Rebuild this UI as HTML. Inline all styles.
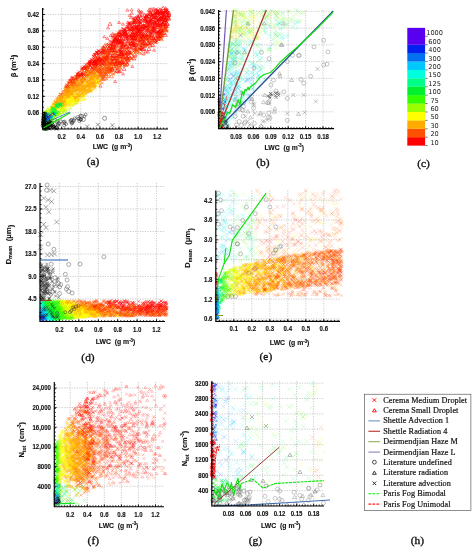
<!DOCTYPE html><html><head><meta charset="utf-8"><title>Figure</title><style>*{margin:0;padding:0}html,body{width:476px;height:550px;background:#fff;overflow:hidden}
svg{display:block}
.tk{font-family:"Liberation Sans",Arial,sans-serif;font-weight:bold;font-size:6.7px;fill:#111;stroke:#111;stroke-width:0.12}
.al{font-family:"Liberation Sans",Arial,sans-serif;font-weight:bold;font-size:7.2px;fill:#111;stroke:#111;stroke-width:0.12}
.pl{font-family:"Liberation Serif","Times New Roman",serif;font-size:11.4px;fill:#111;stroke:#111;stroke-width:0.35}
.cb{font-family:"DejaVu Sans","Liberation Sans",sans-serif;font-size:6.6px;fill:#222}
.lg{font-family:"Liberation Serif","Times New Roman",serif;font-size:8.2px;fill:#111;stroke:#111;stroke-width:0.2;letter-spacing:0.08px}
</style></head><body><svg width="476" height="550" viewBox="0 0 476 550"><path d="M61.7 8V129M80.8 8V129M99.9 8V129M119 8V129M138.1 8V129M157.2 8V129M42.6 112.7H168M42.6 96.3H168M42.6 80H168M42.6 63.6H168M42.6 47.2H168M42.6 30.9H168M42.6 14.5H168" stroke="#b4b4b4" stroke-width="0.7" stroke-dasharray="1.2 1.3" fill="none"/><path d="M236 10V128.6M253.4 10V128.6M270.8 10V128.6M288.2 10V128.6M305.6 10V128.6M323 10V128.6M218.6 111.8H334M218.6 95.1H334M218.6 78.3H334M218.6 61.6H334M218.6 44.8H334M218.6 28.1H334M218.6 11.3H334" stroke="#b4b4b4" stroke-width="0.7" stroke-dasharray="1.2 1.3" fill="none"/><path d="M59.4 183V321.5M78.8 183V321.5M98.3 183V321.5M117.7 183V321.5M137.1 183V321.5M156.5 183V321.5M40 299H165M40 276.5H165M40 254H165M40 231.5H165M40 209H165M40 186.5H165" stroke="#b4b4b4" stroke-width="0.7" stroke-dasharray="1.2 1.3" fill="none"/><path d="M233.8 190.5V321.4M251.8 190.5V321.4M269.8 190.5V321.4M287.8 190.5V321.4M305.8 190.5V321.4M323.8 190.5V321.4M215.8 318.9H340M215.8 299.1H340M215.8 279.3H340M215.8 259.6H340M215.8 239.8H340M215.8 220H340M215.8 200.2H340" stroke="#b4b4b4" stroke-width="0.7" stroke-dasharray="1.2 1.3" fill="none"/><path d="M70.2 382V506.7M87.3 382V506.7M104.3 382V506.7M121.4 382V506.7M138.4 382V506.7M155.5 382V506.7M54.3 486.2H164M54.3 466.5H164M54.3 446.9H164M54.3 427.2H164M54.3 407.6H164M54.3 388H164" stroke="#b4b4b4" stroke-width="0.7" stroke-dasharray="1.2 1.3" fill="none"/><path d="M228.6 381V506M245.6 381V506M262.6 381V506M279.6 381V506M296.6 381V506M313.6 381V506M211.8 490.6H324M211.8 475.3H324M211.8 459.9H324M211.8 444.6H324M211.8 429.2H324M211.8 413.9H324M211.8 398.5H324M211.8 383.2H324" stroke="#b4b4b4" stroke-width="0.7" stroke-dasharray="1.2 1.3" fill="none"/><defs><marker id="m0" markerUnits="userSpaceOnUse" markerWidth="1" markerHeight="1" refX="1.5" refY="1.5" overflow="visible"><path d="M0 0l3 3m0 -3l-3 3" stroke="#ff5000" stroke-width="0.55" fill="none"/></marker><marker id="m1" markerUnits="userSpaceOnUse" markerWidth="1" markerHeight="1" refX="1.5" refY="1.5" overflow="visible"><path d="M0 0l3 3m0 -3l-3 3" stroke="#ffff00" stroke-width="0.55" fill="none"/></marker><marker id="m2" markerUnits="userSpaceOnUse" markerWidth="1" markerHeight="1" refX="1.5" refY="1.5" overflow="visible"><path d="M0 0l3 3m0 -3l-3 3" stroke="#ff0000" stroke-width="0.55" fill="none"/></marker><marker id="m3" markerUnits="userSpaceOnUse" markerWidth="1" markerHeight="1" refX="2" refY="2" overflow="visible"><path d="M2 0l2 3.4h-4z" stroke="#ff5000" stroke-width="0.55" fill="none"/></marker><marker id="m4" markerUnits="userSpaceOnUse" markerWidth="1" markerHeight="1" refX="1.5" refY="1.5" overflow="visible"><path d="M0 0l3 3m0 -3l-3 3" stroke="#ffaa00" stroke-width="0.55" fill="none"/></marker><marker id="m5" markerUnits="userSpaceOnUse" markerWidth="1" markerHeight="1" refX="2" refY="2" overflow="visible"><path d="M2 0l2 3.4h-4z" stroke="#ff0000" stroke-width="0.55" fill="none"/></marker><marker id="m6" markerUnits="userSpaceOnUse" markerWidth="1" markerHeight="1" refX="1.5" refY="1.5" overflow="visible"><path d="M0 0l3 3m0 -3l-3 3" stroke="#33ff00" stroke-width="0.55" fill="none"/></marker><marker id="m7" markerUnits="userSpaceOnUse" markerWidth="1" markerHeight="1" refX="2" refY="2" overflow="visible"><path d="M2 0l2 3.4h-4z" stroke="#ffaa00" stroke-width="0.55" fill="none"/></marker><marker id="m8" markerUnits="userSpaceOnUse" markerWidth="1" markerHeight="1" refX="2" refY="2" overflow="visible"><path d="M2 0l2 3.4h-4z" stroke="#33ff00" stroke-width="0.55" fill="none"/></marker><marker id="m9" markerUnits="userSpaceOnUse" markerWidth="1" markerHeight="1" refX="1.5" refY="1.5" overflow="visible"><path d="M0 0l3 3m0 -3l-3 3" stroke="#99ff00" stroke-width="0.55" fill="none"/></marker><marker id="m10" markerUnits="userSpaceOnUse" markerWidth="1" markerHeight="1" refX="2" refY="2" overflow="visible"><path d="M2 0l2 3.4h-4z" stroke="#ffff00" stroke-width="0.55" fill="none"/></marker><marker id="m11" markerUnits="userSpaceOnUse" markerWidth="1" markerHeight="1" refX="2" refY="2" overflow="visible"><path d="M2 0l2 3.4h-4z" stroke="#99ff00" stroke-width="0.55" fill="none"/></marker><marker id="m12" markerUnits="userSpaceOnUse" markerWidth="1" markerHeight="1" refX="1.5" refY="1.5" overflow="visible"><path d="M0 0l3 3m0 -3l-3 3" stroke="#00f030" stroke-width="0.55" fill="none"/></marker><marker id="m13" markerUnits="userSpaceOnUse" markerWidth="1" markerHeight="1" refX="2" refY="2" overflow="visible"><path d="M2 0l2 3.4h-4z" stroke="#00f030" stroke-width="0.55" fill="none"/></marker><marker id="m14" markerUnits="userSpaceOnUse" markerWidth="1" markerHeight="1" refX="1.5" refY="1.5" overflow="visible"><path d="M1.5 0l1.5 2.5h-3z" stroke="#ff1010" stroke-width="0.5" fill="none"/></marker><marker id="m15" markerUnits="userSpaceOnUse" markerWidth="1" markerHeight="1" refX="2" refY="2" overflow="visible"><path d="M2 0l2 3.4h-4z" stroke="#ff1010" stroke-width="0.55" fill="none"/></marker><marker id="m16" markerUnits="userSpaceOnUse" markerWidth="1" markerHeight="1" refX="1.5" refY="1.5" overflow="visible"><path d="M0 0l3 3m0 -3l-3 3" stroke="#000" stroke-width="0.5" fill="none"/></marker><marker id="m17" markerUnits="userSpaceOnUse" markerWidth="1" markerHeight="1" refX="1.5" refY="1.5" overflow="visible"><path d="M0 1.5a1.5 1.5 0 1 0 3 0a1.5 1.5 0 1 0 -3 0" stroke="#000" stroke-width="0.5" fill="none"/></marker><marker id="m18" markerUnits="userSpaceOnUse" markerWidth="1" markerHeight="1" refX="1.5" refY="1.5" overflow="visible"><path d="M0 0l3 3m0 -3l-3 3" stroke="#00ffdc" stroke-width="0.55" fill="none"/></marker><marker id="m19" markerUnits="userSpaceOnUse" markerWidth="1" markerHeight="1" refX="1.5" refY="1.5" overflow="visible"><path d="M0 0l3 3m0 -3l-3 3" stroke="#00c8ff" stroke-width="0.55" fill="none"/></marker><marker id="m20" markerUnits="userSpaceOnUse" markerWidth="1" markerHeight="1" refX="1.5" refY="1.5" overflow="visible"><path d="M0 0l3 3m0 -3l-3 3" stroke="#00ff88" stroke-width="0.55" fill="none"/></marker><marker id="m21" markerUnits="userSpaceOnUse" markerWidth="1" markerHeight="1" refX="1.5" refY="1.5" overflow="visible"><path d="M0 0l3 3m0 -3l-3 3" stroke="#0020f0" stroke-width="0.55" fill="none"/></marker><marker id="m22" markerUnits="userSpaceOnUse" markerWidth="1" markerHeight="1" refX="1.5" refY="1.5" overflow="visible"><path d="M0 0l3 3m0 -3l-3 3" stroke="#0070f0" stroke-width="0.55" fill="none"/></marker><marker id="m23" markerUnits="userSpaceOnUse" markerWidth="1" markerHeight="1" refX="1.5" refY="1.5" overflow="visible"><path d="M0 1.5a1.5 1.5 0 1 0 3 0a1.5 1.5 0 1 0 -3 0" stroke="#333" stroke-width="0.5" fill="none"/></marker><marker id="m24" markerUnits="userSpaceOnUse" markerWidth="1" markerHeight="1" refX="2" refY="2" overflow="visible"><path d="M0 2a2 2 0 1 0 4 0a2 2 0 1 0 -4 0" stroke="#444" stroke-width="0.55" fill="none"/></marker><marker id="m25" markerUnits="userSpaceOnUse" markerWidth="1" markerHeight="1" refX="2" refY="2" overflow="visible"><path d="M0 0l4 4m0 -4l-4 4" stroke="#444" stroke-width="0.55" fill="none"/></marker><marker id="m26" markerUnits="userSpaceOnUse" markerWidth="1" markerHeight="1" refX="2" refY="2" overflow="visible"><path d="M0 0l4 4m0 -4l-4 4" stroke="#00ffdc" stroke-width="0.35" fill="none" stroke-opacity="0.55"/></marker><marker id="m27" markerUnits="userSpaceOnUse" markerWidth="1" markerHeight="1" refX="2" refY="2" overflow="visible"><path d="M0 0l4 4m0 -4l-4 4" stroke="#33ff00" stroke-width="0.35" fill="none" stroke-opacity="0.55"/></marker><marker id="m28" markerUnits="userSpaceOnUse" markerWidth="1" markerHeight="1" refX="2" refY="2" overflow="visible"><path d="M0 0l4 4m0 -4l-4 4" stroke="#ffff00" stroke-width="0.35" fill="none" stroke-opacity="0.55"/></marker><marker id="m29" markerUnits="userSpaceOnUse" markerWidth="1" markerHeight="1" refX="2" refY="2" overflow="visible"><path d="M0 0l4 4m0 -4l-4 4" stroke="#00ff88" stroke-width="0.35" fill="none" stroke-opacity="0.55"/></marker><marker id="m30" markerUnits="userSpaceOnUse" markerWidth="1" markerHeight="1" refX="2" refY="2" overflow="visible"><path d="M0 0l4 4m0 -4l-4 4" stroke="#00c8ff" stroke-width="0.35" fill="none" stroke-opacity="0.55"/></marker><marker id="m31" markerUnits="userSpaceOnUse" markerWidth="1" markerHeight="1" refX="2" refY="2" overflow="visible"><path d="M0 0l4 4m0 -4l-4 4" stroke="#00f030" stroke-width="0.35" fill="none" stroke-opacity="0.55"/></marker><marker id="m32" markerUnits="userSpaceOnUse" markerWidth="1" markerHeight="1" refX="2" refY="2" overflow="visible"><path d="M0 0l4 4m0 -4l-4 4" stroke="#99ff00" stroke-width="0.35" fill="none" stroke-opacity="0.55"/></marker><marker id="m33" markerUnits="userSpaceOnUse" markerWidth="1" markerHeight="1" refX="2" refY="2" overflow="visible"><path d="M0 0l4 4m0 -4l-4 4" stroke="#ffaa00" stroke-width="0.35" fill="none" stroke-opacity="0.55"/></marker><marker id="m34" markerUnits="userSpaceOnUse" markerWidth="1" markerHeight="1" refX="2" refY="2" overflow="visible"><path d="M0 0l4 4m0 -4l-4 4" stroke="#0070f0" stroke-width="0.35" fill="none" stroke-opacity="0.55"/></marker><marker id="m35" markerUnits="userSpaceOnUse" markerWidth="1" markerHeight="1" refX="2" refY="2" overflow="visible"><path d="M0 0l4 4m0 -4l-4 4" stroke="#00ffdc" stroke-width="0.35" fill="none" stroke-opacity="0.5"/></marker><marker id="m36" markerUnits="userSpaceOnUse" markerWidth="1" markerHeight="1" refX="2" refY="2" overflow="visible"><path d="M0 0l4 4m0 -4l-4 4" stroke="#00ff88" stroke-width="0.35" fill="none" stroke-opacity="0.5"/></marker><marker id="m37" markerUnits="userSpaceOnUse" markerWidth="1" markerHeight="1" refX="2" refY="2" overflow="visible"><path d="M0 0l4 4m0 -4l-4 4" stroke="#33ff00" stroke-width="0.35" fill="none" stroke-opacity="0.5"/></marker><marker id="m38" markerUnits="userSpaceOnUse" markerWidth="1" markerHeight="1" refX="2" refY="2" overflow="visible"><path d="M0 0l4 4m0 -4l-4 4" stroke="#ffaa00" stroke-width="0.35" fill="none" stroke-opacity="0.5"/></marker><marker id="m39" markerUnits="userSpaceOnUse" markerWidth="1" markerHeight="1" refX="2" refY="2" overflow="visible"><path d="M0 0l4 4m0 -4l-4 4" stroke="#00f030" stroke-width="0.35" fill="none" stroke-opacity="0.5"/></marker><marker id="m40" markerUnits="userSpaceOnUse" markerWidth="1" markerHeight="1" refX="2" refY="2" overflow="visible"><path d="M0 0l4 4m0 -4l-4 4" stroke="#99ff00" stroke-width="0.35" fill="none" stroke-opacity="0.5"/></marker><marker id="m41" markerUnits="userSpaceOnUse" markerWidth="1" markerHeight="1" refX="2" refY="2" overflow="visible"><path d="M0 0l4 4m0 -4l-4 4" stroke="#00c8ff" stroke-width="0.35" fill="none" stroke-opacity="0.5"/></marker><marker id="m42" markerUnits="userSpaceOnUse" markerWidth="1" markerHeight="1" refX="1" refY="1" overflow="visible"><path d="M0 0l2 2m0 -2l-2 2" stroke="#0070f0" stroke-width="0.5" fill="none"/></marker><marker id="m43" markerUnits="userSpaceOnUse" markerWidth="1" markerHeight="1" refX="1" refY="1" overflow="visible"><path d="M0 0l2 2m0 -2l-2 2" stroke="#0020f0" stroke-width="0.5" fill="none"/></marker><marker id="m44" markerUnits="userSpaceOnUse" markerWidth="1" markerHeight="1" refX="1" refY="1" overflow="visible"><path d="M0 0l2 2m0 -2l-2 2" stroke="#5a00f0" stroke-width="0.5" fill="none"/></marker><marker id="m45" markerUnits="userSpaceOnUse" markerWidth="1" markerHeight="1" refX="1" refY="1" overflow="visible"><path d="M0 0l2 2m0 -2l-2 2" stroke="#00c8ff" stroke-width="0.5" fill="none"/></marker><marker id="m46" markerUnits="userSpaceOnUse" markerWidth="1" markerHeight="1" refX="2" refY="2" overflow="visible"><path d="M0 2a2 2 0 1 0 4 0a2 2 0 1 0 -4 0" stroke="#8a8a8a" stroke-width="0.5" fill="none"/></marker><marker id="m47" markerUnits="userSpaceOnUse" markerWidth="1" markerHeight="1" refX="2" refY="2" overflow="visible"><path d="M2 0l2 3.4h-4z" stroke="#8a8a8a" stroke-width="0.5" fill="none"/></marker><marker id="m48" markerUnits="userSpaceOnUse" markerWidth="1" markerHeight="1" refX="2" refY="2" overflow="visible"><path d="M0 0l4 4m0 -4l-4 4" stroke="#8a8a8a" stroke-width="0.5" fill="none"/></marker><marker id="m49" markerUnits="userSpaceOnUse" markerWidth="1" markerHeight="1" refX="2" refY="2" overflow="visible"><path d="M0 0l4 4m0 -4l-4 4" stroke="#888" stroke-width="0.45" fill="none"/></marker><marker id="m50" markerUnits="userSpaceOnUse" markerWidth="1" markerHeight="1" refX="2" refY="2" overflow="visible"><path d="M0 2a2 2 0 1 0 4 0a2 2 0 1 0 -4 0" stroke="#888" stroke-width="0.45" fill="none"/></marker><marker id="m51" markerUnits="userSpaceOnUse" markerWidth="1" markerHeight="1" refX="2" refY="2" overflow="visible"><path d="M2 0l2 3.4h-4z" stroke="#888" stroke-width="0.45" fill="none"/></marker><marker id="m52" markerUnits="userSpaceOnUse" markerWidth="1" markerHeight="1" refX="1.5" refY="1.5" overflow="visible"><path d="M0 0l3 3m0 -3l-3 3" stroke="#444" stroke-width="0.5" fill="none"/></marker><marker id="m53" markerUnits="userSpaceOnUse" markerWidth="1" markerHeight="1" refX="1" refY="1" overflow="visible"><path d="M0 0l2 2m0 -2l-2 2" stroke="#222" stroke-width="0.45" fill="none"/></marker><marker id="m54" markerUnits="userSpaceOnUse" markerWidth="1" markerHeight="1" refX="1.5" refY="1.5" overflow="visible"><path d="M0 0l3 3m0 -3l-3 3" stroke="#99ff00" stroke-width="0.5" fill="none" stroke-opacity="0.9"/></marker><marker id="m55" markerUnits="userSpaceOnUse" markerWidth="1" markerHeight="1" refX="1.5" refY="1.5" overflow="visible"><path d="M0 0l3 3m0 -3l-3 3" stroke="#ffaa00" stroke-width="0.5" fill="none" stroke-opacity="0.9"/></marker><marker id="m56" markerUnits="userSpaceOnUse" markerWidth="1" markerHeight="1" refX="1.5" refY="1.5" overflow="visible"><path d="M0 0l3 3m0 -3l-3 3" stroke="#ff0000" stroke-width="0.5" fill="none" stroke-opacity="0.8"/></marker><marker id="m57" markerUnits="userSpaceOnUse" markerWidth="1" markerHeight="1" refX="1.5" refY="1.5" overflow="visible"><path d="M0 0l3 3m0 -3l-3 3" stroke="#ff5000" stroke-width="0.5" fill="none" stroke-opacity="0.9"/></marker><marker id="m58" markerUnits="userSpaceOnUse" markerWidth="1" markerHeight="1" refX="1.5" refY="1.5" overflow="visible"><path d="M0 0l3 3m0 -3l-3 3" stroke="#ffff00" stroke-width="0.5" fill="none" stroke-opacity="0.9"/></marker><marker id="m59" markerUnits="userSpaceOnUse" markerWidth="1" markerHeight="1" refX="1.5" refY="1.5" overflow="visible"><path d="M1.5 0l1.5 2.5h-3z" stroke="#ffaa00" stroke-width="0.5" fill="none" stroke-opacity="0.8"/></marker><marker id="m60" markerUnits="userSpaceOnUse" markerWidth="1" markerHeight="1" refX="1.5" refY="1.5" overflow="visible"><path d="M0 0l3 3m0 -3l-3 3" stroke="#ff5000" stroke-width="0.5" fill="none" stroke-opacity="0.8"/></marker><marker id="m61" markerUnits="userSpaceOnUse" markerWidth="1" markerHeight="1" refX="1.5" refY="1.5" overflow="visible"><path d="M0 0l3 3m0 -3l-3 3" stroke="#00ff88" stroke-width="0.5" fill="none" stroke-opacity="0.9"/></marker><marker id="m62" markerUnits="userSpaceOnUse" markerWidth="1" markerHeight="1" refX="1.5" refY="1.5" overflow="visible"><path d="M1.5 0l1.5 2.5h-3z" stroke="#00f030" stroke-width="0.5" fill="none" stroke-opacity="0.9"/></marker><marker id="m63" markerUnits="userSpaceOnUse" markerWidth="1" markerHeight="1" refX="1.5" refY="1.5" overflow="visible"><path d="M0 0l3 3m0 -3l-3 3" stroke="#ff0000" stroke-width="0.5" fill="none" stroke-opacity="0.9"/></marker><marker id="m64" markerUnits="userSpaceOnUse" markerWidth="1" markerHeight="1" refX="1.5" refY="1.5" overflow="visible"><path d="M1.5 0l1.5 2.5h-3z" stroke="#ff0000" stroke-width="0.5" fill="none" stroke-opacity="0.8"/></marker><marker id="m65" markerUnits="userSpaceOnUse" markerWidth="1" markerHeight="1" refX="1.5" refY="1.5" overflow="visible"><path d="M1.5 0l1.5 2.5h-3z" stroke="#ff5000" stroke-width="0.5" fill="none" stroke-opacity="0.8"/></marker><marker id="m66" markerUnits="userSpaceOnUse" markerWidth="1" markerHeight="1" refX="1.5" refY="1.5" overflow="visible"><path d="M0 0l3 3m0 -3l-3 3" stroke="#00c8ff" stroke-width="0.5" fill="none" stroke-opacity="0.9"/></marker><marker id="m67" markerUnits="userSpaceOnUse" markerWidth="1" markerHeight="1" refX="1.5" refY="1.5" overflow="visible"><path d="M1.5 0l1.5 2.5h-3z" stroke="#ff5000" stroke-width="0.5" fill="none" stroke-opacity="0.9"/></marker><marker id="m68" markerUnits="userSpaceOnUse" markerWidth="1" markerHeight="1" refX="1.5" refY="1.5" overflow="visible"><path d="M0 0l3 3m0 -3l-3 3" stroke="#00ffdc" stroke-width="0.5" fill="none" stroke-opacity="0.9"/></marker><marker id="m69" markerUnits="userSpaceOnUse" markerWidth="1" markerHeight="1" refX="1.5" refY="1.5" overflow="visible"><path d="M0 0l3 3m0 -3l-3 3" stroke="#33ff00" stroke-width="0.5" fill="none" stroke-opacity="0.9"/></marker><marker id="m70" markerUnits="userSpaceOnUse" markerWidth="1" markerHeight="1" refX="1.5" refY="1.5" overflow="visible"><path d="M1.5 0l1.5 2.5h-3z" stroke="#99ff00" stroke-width="0.5" fill="none" stroke-opacity="0.9"/></marker><marker id="m71" markerUnits="userSpaceOnUse" markerWidth="1" markerHeight="1" refX="1.5" refY="1.5" overflow="visible"><path d="M0 0l3 3m0 -3l-3 3" stroke="#0070f0" stroke-width="0.5" fill="none" stroke-opacity="0.9"/></marker><marker id="m72" markerUnits="userSpaceOnUse" markerWidth="1" markerHeight="1" refX="1.5" refY="1.5" overflow="visible"><path d="M0 0l3 3m0 -3l-3 3" stroke="#ffaa00" stroke-width="0.5" fill="none" stroke-opacity="0.8"/></marker><marker id="m73" markerUnits="userSpaceOnUse" markerWidth="1" markerHeight="1" refX="1.5" refY="1.5" overflow="visible"><path d="M1.5 0l1.5 2.5h-3z" stroke="#00ff88" stroke-width="0.5" fill="none" stroke-opacity="0.9"/></marker><marker id="m74" markerUnits="userSpaceOnUse" markerWidth="1" markerHeight="1" refX="1.5" refY="1.5" overflow="visible"><path d="M0 0l3 3m0 -3l-3 3" stroke="#00f030" stroke-width="0.5" fill="none" stroke-opacity="0.9"/></marker><marker id="m75" markerUnits="userSpaceOnUse" markerWidth="1" markerHeight="1" refX="1.5" refY="1.5" overflow="visible"><path d="M1.5 0l1.5 2.5h-3z" stroke="#00ffdc" stroke-width="0.5" fill="none" stroke-opacity="0.9"/></marker><marker id="m76" markerUnits="userSpaceOnUse" markerWidth="1" markerHeight="1" refX="1.5" refY="1.5" overflow="visible"><path d="M1.5 0l1.5 2.5h-3z" stroke="#00c8ff" stroke-width="0.5" fill="none" stroke-opacity="0.9"/></marker><marker id="m77" markerUnits="userSpaceOnUse" markerWidth="1" markerHeight="1" refX="1.5" refY="1.5" overflow="visible"><path d="M1.5 0l1.5 2.5h-3z" stroke="#ffff00" stroke-width="0.5" fill="none" stroke-opacity="0.9"/></marker><marker id="m78" markerUnits="userSpaceOnUse" markerWidth="1" markerHeight="1" refX="1.5" refY="1.5" overflow="visible"><path d="M0 0l3 3m0 -3l-3 3" stroke="#0020f0" stroke-width="0.5" fill="none" stroke-opacity="0.9"/></marker><marker id="m79" markerUnits="userSpaceOnUse" markerWidth="1" markerHeight="1" refX="1.5" refY="1.5" overflow="visible"><path d="M1.5 0l1.5 2.5h-3z" stroke="#ffaa00" stroke-width="0.5" fill="none" stroke-opacity="0.9"/></marker><marker id="m80" markerUnits="userSpaceOnUse" markerWidth="1" markerHeight="1" refX="1.5" refY="1.5" overflow="visible"><path d="M1.5 0l1.5 2.5h-3z" stroke="#0070f0" stroke-width="0.5" fill="none" stroke-opacity="0.9"/></marker><marker id="m81" markerUnits="userSpaceOnUse" markerWidth="1" markerHeight="1" refX="1.5" refY="1.5" overflow="visible"><path d="M1.5 0l1.5 2.5h-3z" stroke="#33ff00" stroke-width="0.5" fill="none" stroke-opacity="0.9"/></marker><marker id="m82" markerUnits="userSpaceOnUse" markerWidth="1" markerHeight="1" refX="1.5" refY="1.5" overflow="visible"><path d="M1.5 0l1.5 2.5h-3z" stroke="#ff0000" stroke-width="0.5" fill="none" stroke-opacity="0.9"/></marker><marker id="m83" markerUnits="userSpaceOnUse" markerWidth="1" markerHeight="1" refX="1.5" refY="1.5" overflow="visible"><path d="M0 0l3 3m0 -3l-3 3" stroke="#ffff00" stroke-width="0.5" fill="none" stroke-opacity="0.8"/></marker><marker id="m84" markerUnits="userSpaceOnUse" markerWidth="1" markerHeight="1" refX="1.5" refY="1.5" overflow="visible"><path d="M1.5 0l1.5 2.5h-3z" stroke="#0020f0" stroke-width="0.5" fill="none" stroke-opacity="0.9"/></marker><marker id="m85" markerUnits="userSpaceOnUse" markerWidth="1" markerHeight="1" refX="1.5" refY="1.5" overflow="visible"><path d="M0 1.5a1.5 1.5 0 1 0 3 0a1.5 1.5 0 1 0 -3 0" stroke="#2a2a2a" stroke-width="0.45" fill="none"/></marker><marker id="m86" markerUnits="userSpaceOnUse" markerWidth="1" markerHeight="1" refX="1.5" refY="1.5" overflow="visible"><path d="M0 0l3 3m0 -3l-3 3" stroke="#2a2a2a" stroke-width="0.45" fill="none"/></marker><marker id="m87" markerUnits="userSpaceOnUse" markerWidth="1" markerHeight="1" refX="2" refY="2" overflow="visible"><path d="M0 2a2 2 0 1 0 4 0a2 2 0 1 0 -4 0" stroke="#666" stroke-width="0.55" fill="none"/></marker><marker id="m88" markerUnits="userSpaceOnUse" markerWidth="1" markerHeight="1" refX="2.5" refY="2.5" overflow="visible"><path d="M0 0l5 5m0 -5l-5 5" stroke="#666" stroke-width="0.55" fill="none"/></marker><marker id="m89" markerUnits="userSpaceOnUse" markerWidth="1" markerHeight="1" refX="1.5" refY="1.5" overflow="visible"><path d="M0 0l3 3m0 -3l-3 3" stroke="#ffaa00" stroke-width="0.45" fill="none" stroke-opacity="0.6"/></marker><marker id="m90" markerUnits="userSpaceOnUse" markerWidth="1" markerHeight="1" refX="1.5" refY="1.5" overflow="visible"><path d="M1.5 0l1.5 2.5h-3z" stroke="#ffaa00" stroke-width="0.45" fill="none" stroke-opacity="0.8"/></marker><marker id="m91" markerUnits="userSpaceOnUse" markerWidth="1" markerHeight="1" refX="1.5" refY="1.5" overflow="visible"><path d="M0 0l3 3m0 -3l-3 3" stroke="#ffff00" stroke-width="0.45" fill="none" stroke-opacity="0.8"/></marker><marker id="m92" markerUnits="userSpaceOnUse" markerWidth="1" markerHeight="1" refX="1.5" refY="1.5" overflow="visible"><path d="M0 0l3 3m0 -3l-3 3" stroke="#ffaa00" stroke-width="0.45" fill="none" stroke-opacity="0.8"/></marker><marker id="m93" markerUnits="userSpaceOnUse" markerWidth="1" markerHeight="1" refX="1.5" refY="1.5" overflow="visible"><path d="M0 0l3 3m0 -3l-3 3" stroke="#ff5000" stroke-width="0.45" fill="none" stroke-opacity="0.6"/></marker><marker id="m94" markerUnits="userSpaceOnUse" markerWidth="1" markerHeight="1" refX="1.5" refY="1.5" overflow="visible"><path d="M1.5 0l1.5 2.5h-3z" stroke="#ff0000" stroke-width="0.45" fill="none" stroke-opacity="0.6"/></marker><marker id="m95" markerUnits="userSpaceOnUse" markerWidth="1" markerHeight="1" refX="1.5" refY="1.5" overflow="visible"><path d="M1.5 0l1.5 2.5h-3z" stroke="#ffff00" stroke-width="0.45" fill="none" stroke-opacity="0.8"/></marker><marker id="m96" markerUnits="userSpaceOnUse" markerWidth="1" markerHeight="1" refX="1.5" refY="1.5" overflow="visible"><path d="M0 0l3 3m0 -3l-3 3" stroke="#ff0000" stroke-width="0.45" fill="none" stroke-opacity="0.6"/></marker><marker id="m97" markerUnits="userSpaceOnUse" markerWidth="1" markerHeight="1" refX="1.5" refY="1.5" overflow="visible"><path d="M1.5 0l1.5 2.5h-3z" stroke="#ffaa00" stroke-width="0.45" fill="none" stroke-opacity="0.6"/></marker><marker id="m98" markerUnits="userSpaceOnUse" markerWidth="1" markerHeight="1" refX="1.5" refY="1.5" overflow="visible"><path d="M1.5 0l1.5 2.5h-3z" stroke="#99ff00" stroke-width="0.45" fill="none" stroke-opacity="0.8"/></marker><marker id="m99" markerUnits="userSpaceOnUse" markerWidth="1" markerHeight="1" refX="1.5" refY="1.5" overflow="visible"><path d="M1.5 0l1.5 2.5h-3z" stroke="#ff5000" stroke-width="0.45" fill="none" stroke-opacity="0.8"/></marker><marker id="m100" markerUnits="userSpaceOnUse" markerWidth="1" markerHeight="1" refX="1.5" refY="1.5" overflow="visible"><path d="M0 0l3 3m0 -3l-3 3" stroke="#00f030" stroke-width="0.45" fill="none" stroke-opacity="0.8"/></marker><marker id="m101" markerUnits="userSpaceOnUse" markerWidth="1" markerHeight="1" refX="1.5" refY="1.5" overflow="visible"><path d="M0 0l3 3m0 -3l-3 3" stroke="#ff5000" stroke-width="0.45" fill="none" stroke-opacity="0.8"/></marker><marker id="m102" markerUnits="userSpaceOnUse" markerWidth="1" markerHeight="1" refX="1.5" refY="1.5" overflow="visible"><path d="M1.5 0l1.5 2.5h-3z" stroke="#ff5000" stroke-width="0.45" fill="none" stroke-opacity="0.6"/></marker><marker id="m103" markerUnits="userSpaceOnUse" markerWidth="1" markerHeight="1" refX="1.5" refY="1.5" overflow="visible"><path d="M0 0l3 3m0 -3l-3 3" stroke="#00ff88" stroke-width="0.45" fill="none" stroke-opacity="0.8"/></marker><marker id="m104" markerUnits="userSpaceOnUse" markerWidth="1" markerHeight="1" refX="1.5" refY="1.5" overflow="visible"><path d="M0 0l3 3m0 -3l-3 3" stroke="#99ff00" stroke-width="0.45" fill="none" stroke-opacity="0.8"/></marker><marker id="m105" markerUnits="userSpaceOnUse" markerWidth="1" markerHeight="1" refX="1.5" refY="1.5" overflow="visible"><path d="M0 0l3 3m0 -3l-3 3" stroke="#00ffdc" stroke-width="0.45" fill="none" stroke-opacity="0.8"/></marker><marker id="m106" markerUnits="userSpaceOnUse" markerWidth="1" markerHeight="1" refX="1.5" refY="1.5" overflow="visible"><path d="M1.5 0l1.5 2.5h-3z" stroke="#33ff00" stroke-width="0.45" fill="none" stroke-opacity="0.8"/></marker><marker id="m107" markerUnits="userSpaceOnUse" markerWidth="1" markerHeight="1" refX="1.5" refY="1.5" overflow="visible"><path d="M0 0l3 3m0 -3l-3 3" stroke="#33ff00" stroke-width="0.45" fill="none" stroke-opacity="0.8"/></marker><marker id="m108" markerUnits="userSpaceOnUse" markerWidth="1" markerHeight="1" refX="1.5" refY="1.5" overflow="visible"><path d="M0 0l3 3m0 -3l-3 3" stroke="#00c8ff" stroke-width="0.45" fill="none" stroke-opacity="0.8"/></marker><marker id="m109" markerUnits="userSpaceOnUse" markerWidth="1" markerHeight="1" refX="1.5" refY="1.5" overflow="visible"><path d="M1.5 0l1.5 2.5h-3z" stroke="#00ff88" stroke-width="0.45" fill="none" stroke-opacity="0.8"/></marker><marker id="m110" markerUnits="userSpaceOnUse" markerWidth="1" markerHeight="1" refX="1.5" refY="1.5" overflow="visible"><path d="M1.5 0l1.5 2.5h-3z" stroke="#00ffdc" stroke-width="0.45" fill="none" stroke-opacity="0.8"/></marker><marker id="m111" markerUnits="userSpaceOnUse" markerWidth="1" markerHeight="1" refX="1.5" refY="1.5" overflow="visible"><path d="M1.5 0l1.5 2.5h-3z" stroke="#0070f0" stroke-width="0.45" fill="none" stroke-opacity="0.8"/></marker><marker id="m112" markerUnits="userSpaceOnUse" markerWidth="1" markerHeight="1" refX="1.5" refY="1.5" overflow="visible"><path d="M1.5 0l1.5 2.5h-3z" stroke="#00c8ff" stroke-width="0.45" fill="none" stroke-opacity="0.8"/></marker><marker id="m113" markerUnits="userSpaceOnUse" markerWidth="1" markerHeight="1" refX="1.5" refY="1.5" overflow="visible"><path d="M1.5 0l1.5 2.5h-3z" stroke="#00f030" stroke-width="0.45" fill="none" stroke-opacity="0.8"/></marker><marker id="m114" markerUnits="userSpaceOnUse" markerWidth="1" markerHeight="1" refX="1.5" refY="1.5" overflow="visible"><path d="M0 0l3 3m0 -3l-3 3" stroke="#ffff00" stroke-width="0.45" fill="none" stroke-opacity="0.6"/></marker><marker id="m115" markerUnits="userSpaceOnUse" markerWidth="1" markerHeight="1" refX="1.5" refY="1.5" overflow="visible"><path d="M0 0l3 3m0 -3l-3 3" stroke="#0070f0" stroke-width="0.45" fill="none" stroke-opacity="0.8"/></marker><marker id="m116" markerUnits="userSpaceOnUse" markerWidth="1" markerHeight="1" refX="1.5" refY="1.5" overflow="visible"><path d="M1.5 0l1.5 2.5h-3z" stroke="#ffaa00" stroke-width="0.4" fill="none" stroke-opacity="0.5"/></marker><marker id="m117" markerUnits="userSpaceOnUse" markerWidth="1" markerHeight="1" refX="1.5" refY="1.5" overflow="visible"><path d="M0 0l3 3m0 -3l-3 3" stroke="#ff0000" stroke-width="0.4" fill="none" stroke-opacity="0.5"/></marker><marker id="m118" markerUnits="userSpaceOnUse" markerWidth="1" markerHeight="1" refX="1.5" refY="1.5" overflow="visible"><path d="M0 0l3 3m0 -3l-3 3" stroke="#ffaa00" stroke-width="0.4" fill="none" stroke-opacity="0.5"/></marker><marker id="m119" markerUnits="userSpaceOnUse" markerWidth="1" markerHeight="1" refX="1.5" refY="1.5" overflow="visible"><path d="M0 0l3 3m0 -3l-3 3" stroke="#ff5000" stroke-width="0.4" fill="none" stroke-opacity="0.5"/></marker><marker id="m120" markerUnits="userSpaceOnUse" markerWidth="1" markerHeight="1" refX="1.5" refY="1.5" overflow="visible"><path d="M1.5 0l1.5 2.5h-3z" stroke="#ff0000" stroke-width="0.4" fill="none" stroke-opacity="0.5"/></marker><marker id="m121" markerUnits="userSpaceOnUse" markerWidth="1" markerHeight="1" refX="1.5" refY="1.5" overflow="visible"><path d="M1.5 0l1.5 2.5h-3z" stroke="#ff5000" stroke-width="0.4" fill="none" stroke-opacity="0.5"/></marker><marker id="m122" markerUnits="userSpaceOnUse" markerWidth="1" markerHeight="1" refX="2" refY="2" overflow="visible"><path d="M0 0l4 4m0 -4l-4 4" stroke="#00ff88" stroke-width="0.35" fill="none" stroke-opacity="0.42"/></marker><marker id="m123" markerUnits="userSpaceOnUse" markerWidth="1" markerHeight="1" refX="2" refY="2" overflow="visible"><path d="M0 0l4 4m0 -4l-4 4" stroke="#ffaa00" stroke-width="0.35" fill="none" stroke-opacity="0.42"/></marker><marker id="m124" markerUnits="userSpaceOnUse" markerWidth="1" markerHeight="1" refX="2" refY="2" overflow="visible"><path d="M0 0l4 4m0 -4l-4 4" stroke="#ff5000" stroke-width="0.35" fill="none" stroke-opacity="0.42"/></marker><marker id="m125" markerUnits="userSpaceOnUse" markerWidth="1" markerHeight="1" refX="2" refY="2" overflow="visible"><path d="M0 0l4 4m0 -4l-4 4" stroke="#33ff00" stroke-width="0.35" fill="none" stroke-opacity="0.42"/></marker><marker id="m126" markerUnits="userSpaceOnUse" markerWidth="1" markerHeight="1" refX="2" refY="2" overflow="visible"><path d="M0 0l4 4m0 -4l-4 4" stroke="#00c8ff" stroke-width="0.35" fill="none" stroke-opacity="0.42"/></marker><marker id="m127" markerUnits="userSpaceOnUse" markerWidth="1" markerHeight="1" refX="2" refY="2" overflow="visible"><path d="M0 0l4 4m0 -4l-4 4" stroke="#ff0000" stroke-width="0.35" fill="none" stroke-opacity="0.42"/></marker><marker id="m128" markerUnits="userSpaceOnUse" markerWidth="1" markerHeight="1" refX="2" refY="2" overflow="visible"><path d="M0 0l4 4m0 -4l-4 4" stroke="#00f030" stroke-width="0.35" fill="none" stroke-opacity="0.42"/></marker><marker id="m129" markerUnits="userSpaceOnUse" markerWidth="1" markerHeight="1" refX="2" refY="2" overflow="visible"><path d="M0 0l4 4m0 -4l-4 4" stroke="#00ffdc" stroke-width="0.35" fill="none" stroke-opacity="0.42"/></marker><marker id="m130" markerUnits="userSpaceOnUse" markerWidth="1" markerHeight="1" refX="2" refY="2" overflow="visible"><path d="M0 0l4 4m0 -4l-4 4" stroke="#ffff00" stroke-width="0.35" fill="none" stroke-opacity="0.42"/></marker><marker id="m131" markerUnits="userSpaceOnUse" markerWidth="1" markerHeight="1" refX="2" refY="2" overflow="visible"><path d="M0 0l4 4m0 -4l-4 4" stroke="#99ff00" stroke-width="0.35" fill="none" stroke-opacity="0.42"/></marker><marker id="m132" markerUnits="userSpaceOnUse" markerWidth="1" markerHeight="1" refX="2" refY="2" overflow="visible"><path d="M0 0l4 4m0 -4l-4 4" stroke="#0070f0" stroke-width="0.35" fill="none" stroke-opacity="0.42"/></marker><marker id="m133" markerUnits="userSpaceOnUse" markerWidth="1" markerHeight="1" refX="1.5" refY="1.5" overflow="visible"><path d="M0 0l3 3m0 -3l-3 3" stroke="#ff5000" stroke-width="0.45" fill="none" stroke-opacity="0.85"/></marker><marker id="m134" markerUnits="userSpaceOnUse" markerWidth="1" markerHeight="1" refX="1.5" refY="1.5" overflow="visible"><path d="M0 0l3 3m0 -3l-3 3" stroke="#ffaa00" stroke-width="0.45" fill="none" stroke-opacity="0.85"/></marker><marker id="m135" markerUnits="userSpaceOnUse" markerWidth="1" markerHeight="1" refX="1.5" refY="1.5" overflow="visible"><path d="M1.5 0l1.5 2.5h-3z" stroke="#ff0000" stroke-width="0.45" fill="none" stroke-opacity="0.85"/></marker><marker id="m136" markerUnits="userSpaceOnUse" markerWidth="1" markerHeight="1" refX="1.5" refY="1.5" overflow="visible"><path d="M0 0l3 3m0 -3l-3 3" stroke="#99ff00" stroke-width="0.45" fill="none" stroke-opacity="0.85"/></marker><marker id="m137" markerUnits="userSpaceOnUse" markerWidth="1" markerHeight="1" refX="1.5" refY="1.5" overflow="visible"><path d="M0 0l3 3m0 -3l-3 3" stroke="#ff0000" stroke-width="0.45" fill="none" stroke-opacity="0.5"/></marker><marker id="m138" markerUnits="userSpaceOnUse" markerWidth="1" markerHeight="1" refX="1.5" refY="1.5" overflow="visible"><path d="M1.5 0l1.5 2.5h-3z" stroke="#ff0000" stroke-width="0.45" fill="none" stroke-opacity="0.5"/></marker><marker id="m139" markerUnits="userSpaceOnUse" markerWidth="1" markerHeight="1" refX="1.5" refY="1.5" overflow="visible"><path d="M0 0l3 3m0 -3l-3 3" stroke="#00f030" stroke-width="0.45" fill="none" stroke-opacity="0.85"/></marker><marker id="m140" markerUnits="userSpaceOnUse" markerWidth="1" markerHeight="1" refX="1.5" refY="1.5" overflow="visible"><path d="M0 0l3 3m0 -3l-3 3" stroke="#ff0000" stroke-width="0.45" fill="none" stroke-opacity="0.85"/></marker><marker id="m141" markerUnits="userSpaceOnUse" markerWidth="1" markerHeight="1" refX="1.5" refY="1.5" overflow="visible"><path d="M0 0l3 3m0 -3l-3 3" stroke="#ff5000" stroke-width="0.45" fill="none" stroke-opacity="0.5"/></marker><marker id="m142" markerUnits="userSpaceOnUse" markerWidth="1" markerHeight="1" refX="1.5" refY="1.5" overflow="visible"><path d="M0 0l3 3m0 -3l-3 3" stroke="#0020f0" stroke-width="0.45" fill="none" stroke-opacity="0.85"/></marker><marker id="m143" markerUnits="userSpaceOnUse" markerWidth="1" markerHeight="1" refX="1.5" refY="1.5" overflow="visible"><path d="M0 0l3 3m0 -3l-3 3" stroke="#33ff00" stroke-width="0.45" fill="none" stroke-opacity="0.85"/></marker><marker id="m144" markerUnits="userSpaceOnUse" markerWidth="1" markerHeight="1" refX="1.5" refY="1.5" overflow="visible"><path d="M0 0l3 3m0 -3l-3 3" stroke="#ffff00" stroke-width="0.45" fill="none" stroke-opacity="0.85"/></marker><marker id="m145" markerUnits="userSpaceOnUse" markerWidth="1" markerHeight="1" refX="1.5" refY="1.5" overflow="visible"><path d="M1.5 0l1.5 2.5h-3z" stroke="#ff5000" stroke-width="0.45" fill="none" stroke-opacity="0.5"/></marker><marker id="m146" markerUnits="userSpaceOnUse" markerWidth="1" markerHeight="1" refX="1.5" refY="1.5" overflow="visible"><path d="M1.5 0l1.5 2.5h-3z" stroke="#ff5000" stroke-width="0.45" fill="none" stroke-opacity="0.85"/></marker><marker id="m147" markerUnits="userSpaceOnUse" markerWidth="1" markerHeight="1" refX="1.5" refY="1.5" overflow="visible"><path d="M0 0l3 3m0 -3l-3 3" stroke="#0070f0" stroke-width="0.45" fill="none" stroke-opacity="0.85"/></marker><marker id="m148" markerUnits="userSpaceOnUse" markerWidth="1" markerHeight="1" refX="1.5" refY="1.5" overflow="visible"><path d="M0 0l3 3m0 -3l-3 3" stroke="#00ffdc" stroke-width="0.45" fill="none" stroke-opacity="0.85"/></marker><marker id="m149" markerUnits="userSpaceOnUse" markerWidth="1" markerHeight="1" refX="1.5" refY="1.5" overflow="visible"><path d="M0 0l3 3m0 -3l-3 3" stroke="#ffaa00" stroke-width="0.45" fill="none" stroke-opacity="0.5"/></marker><marker id="m150" markerUnits="userSpaceOnUse" markerWidth="1" markerHeight="1" refX="1.5" refY="1.5" overflow="visible"><path d="M0 0l3 3m0 -3l-3 3" stroke="#00ff88" stroke-width="0.45" fill="none" stroke-opacity="0.85"/></marker><marker id="m151" markerUnits="userSpaceOnUse" markerWidth="1" markerHeight="1" refX="1.5" refY="1.5" overflow="visible"><path d="M0 0l3 3m0 -3l-3 3" stroke="#5a00f0" stroke-width="0.45" fill="none" stroke-opacity="0.85"/></marker><marker id="m152" markerUnits="userSpaceOnUse" markerWidth="1" markerHeight="1" refX="1.5" refY="1.5" overflow="visible"><path d="M0 0l3 3m0 -3l-3 3" stroke="#00c8ff" stroke-width="0.45" fill="none" stroke-opacity="0.85"/></marker><marker id="m153" markerUnits="userSpaceOnUse" markerWidth="1" markerHeight="1" refX="2" refY="2" overflow="visible"><path d="M0 0l4 4m0 -4l-4 4" stroke="#00ff88" stroke-width="0.4" fill="none" stroke-opacity="0.6"/></marker><marker id="m154" markerUnits="userSpaceOnUse" markerWidth="1" markerHeight="1" refX="2" refY="2" overflow="visible"><path d="M0 0l4 4m0 -4l-4 4" stroke="#33ff00" stroke-width="0.4" fill="none" stroke-opacity="0.6"/></marker><marker id="m155" markerUnits="userSpaceOnUse" markerWidth="1" markerHeight="1" refX="2" refY="2" overflow="visible"><path d="M0 0l4 4m0 -4l-4 4" stroke="#00f030" stroke-width="0.4" fill="none" stroke-opacity="0.6"/></marker><marker id="m156" markerUnits="userSpaceOnUse" markerWidth="1" markerHeight="1" refX="2" refY="2" overflow="visible"><path d="M0 0l4 4m0 -4l-4 4" stroke="#99ff00" stroke-width="0.4" fill="none" stroke-opacity="0.6"/></marker><marker id="m157" markerUnits="userSpaceOnUse" markerWidth="1" markerHeight="1" refX="2.5" refY="2.5" overflow="visible"><path d="M0 0l5 5m0 -5l-5 5" stroke="#00c8ff" stroke-width="0.35" fill="none" stroke-opacity="0.45"/></marker><marker id="m158" markerUnits="userSpaceOnUse" markerWidth="1" markerHeight="1" refX="2.5" refY="2.5" overflow="visible"><path d="M0 0l5 5m0 -5l-5 5" stroke="#00ffdc" stroke-width="0.35" fill="none" stroke-opacity="0.45"/></marker><marker id="m159" markerUnits="userSpaceOnUse" markerWidth="1" markerHeight="1" refX="2.5" refY="2.5" overflow="visible"><path d="M0 0l5 5m0 -5l-5 5" stroke="#0070f0" stroke-width="0.35" fill="none" stroke-opacity="0.45"/></marker><marker id="m160" markerUnits="userSpaceOnUse" markerWidth="1" markerHeight="1" refX="2.5" refY="2.5" overflow="visible"><path d="M0 0l5 5m0 -5l-5 5" stroke="#00f030" stroke-width="0.35" fill="none" stroke-opacity="0.4"/></marker><marker id="m161" markerUnits="userSpaceOnUse" markerWidth="1" markerHeight="1" refX="2.5" refY="2.5" overflow="visible"><path d="M0 0l5 5m0 -5l-5 5" stroke="#00ff88" stroke-width="0.35" fill="none" stroke-opacity="0.4"/></marker><marker id="m162" markerUnits="userSpaceOnUse" markerWidth="1" markerHeight="1" refX="2.5" refY="2.5" overflow="visible"><path d="M0 0l5 5m0 -5l-5 5" stroke="#33ff00" stroke-width="0.35" fill="none" stroke-opacity="0.4"/></marker><marker id="m163" markerUnits="userSpaceOnUse" markerWidth="1" markerHeight="1" refX="2.5" refY="2.5" overflow="visible"><path d="M0 0l5 5m0 -5l-5 5" stroke="#ffff00" stroke-width="0.35" fill="none" stroke-opacity="0.4"/></marker><marker id="m164" markerUnits="userSpaceOnUse" markerWidth="1" markerHeight="1" refX="2.5" refY="2.5" overflow="visible"><path d="M0 0l5 5m0 -5l-5 5" stroke="#ff5000" stroke-width="0.35" fill="none" stroke-opacity="0.4"/></marker><marker id="m165" markerUnits="userSpaceOnUse" markerWidth="1" markerHeight="1" refX="2.5" refY="2.5" overflow="visible"><path d="M0 0l5 5m0 -5l-5 5" stroke="#99ff00" stroke-width="0.35" fill="none" stroke-opacity="0.4"/></marker><marker id="m166" markerUnits="userSpaceOnUse" markerWidth="1" markerHeight="1" refX="2.5" refY="2.5" overflow="visible"><path d="M0 0l5 5m0 -5l-5 5" stroke="#ffaa00" stroke-width="0.35" fill="none" stroke-opacity="0.4"/></marker><marker id="m167" markerUnits="userSpaceOnUse" markerWidth="1" markerHeight="1" refX="2" refY="2" overflow="visible"><path d="M0 2a2 2 0 1 0 4 0a2 2 0 1 0 -4 0" stroke="#666" stroke-width="0.45" fill="none"/></marker><marker id="m168" markerUnits="userSpaceOnUse" markerWidth="1" markerHeight="1" refX="2" refY="2" overflow="visible"><path d="M2 0l2 3.4h-4z" stroke="#666" stroke-width="0.45" fill="none"/></marker><marker id="m169" markerUnits="userSpaceOnUse" markerWidth="1" markerHeight="1" refX="2" refY="2" overflow="visible"><path d="M0 0l4 4m0 -4l-4 4" stroke="#666" stroke-width="0.45" fill="none"/></marker><marker id="m170" markerUnits="userSpaceOnUse" markerWidth="1" markerHeight="1" refX="2" refY="2" overflow="visible"><path d="M0 2a2 2 0 1 0 4 0a2 2 0 1 0 -4 0" stroke="#8a8a8a" stroke-width="0.45" fill="none"/></marker><marker id="m171" markerUnits="userSpaceOnUse" markerWidth="1" markerHeight="1" refX="2" refY="2" overflow="visible"><path d="M2 0l2 3.4h-4z" stroke="#8a8a8a" stroke-width="0.45" fill="none"/></marker><marker id="m172" markerUnits="userSpaceOnUse" markerWidth="1" markerHeight="1" refX="1.5" refY="1.5" overflow="visible"><path d="M0 0l3 3m0 -3l-3 3" stroke="#00ff88" stroke-width="0.5" fill="none" stroke-opacity="0.8"/></marker><marker id="m173" markerUnits="userSpaceOnUse" markerWidth="1" markerHeight="1" refX="1.5" refY="1.5" overflow="visible"><path d="M0 0l3 3m0 -3l-3 3" stroke="#33ff00" stroke-width="0.5" fill="none" stroke-opacity="0.8"/></marker><marker id="m174" markerUnits="userSpaceOnUse" markerWidth="1" markerHeight="1" refX="1.5" refY="1.5" overflow="visible"><path d="M0 0l3 3m0 -3l-3 3" stroke="#00f030" stroke-width="0.5" fill="none" stroke-opacity="0.8"/></marker><marker id="m175" markerUnits="userSpaceOnUse" markerWidth="1" markerHeight="1" refX="2" refY="2" overflow="visible"><path d="M0 0l4 4m0 -4l-4 4" stroke="#777" stroke-width="0.5" fill="none"/></marker><marker id="m176" markerUnits="userSpaceOnUse" markerWidth="1" markerHeight="1" refX="2" refY="2" overflow="visible"><path d="M2 0l2 3.4h-4z" stroke="#777" stroke-width="0.5" fill="none"/></marker><marker id="m177" markerUnits="userSpaceOnUse" markerWidth="1" markerHeight="1" refX="2" refY="2" overflow="visible"><path d="M0 2a2 2 0 1 0 4 0a2 2 0 1 0 -4 0" stroke="#777" stroke-width="0.5" fill="none"/></marker><marker id="m178" markerUnits="userSpaceOnUse" markerWidth="1" markerHeight="1" refX="1" refY="1" overflow="visible"><path d="M0 0l2 2m0 -2l-2 2" stroke="#ff0000" stroke-width="0.65" fill="none"/></marker><marker id="m179" markerUnits="userSpaceOnUse" markerWidth="1" markerHeight="1" refX="1.5" refY="1.5" overflow="visible"><path d="M0 1.5a1.5 1.5 0 1 0 3 0a1.5 1.5 0 1 0 -3 0" stroke="#333" stroke-width="0.5" fill="none"/></marker><marker id="m180" markerUnits="userSpaceOnUse" markerWidth="1" markerHeight="1" refX="1.5" refY="1.5" overflow="visible"><path d="M0 0l3 3m0 -3l-3 3" stroke="#222" stroke-width="0.45" fill="none"/></marker><marker id="m181" markerUnits="userSpaceOnUse" markerWidth="1" markerHeight="1" refX="1" refY="1" overflow="visible"><path d="M0 0l2 2m0 -2l-2 2" stroke="#ff0000" stroke-width="0.5" fill="none"/></marker><marker id="m182" markerUnits="userSpaceOnUse" markerWidth="1" markerHeight="1" refX="2" refY="2" overflow="visible"><path d="M0 2a2 2 0 1 0 4 0a2 2 0 1 0 -4 0" stroke="#888" stroke-width="0.5" fill="none"/></marker><marker id="m183" markerUnits="userSpaceOnUse" markerWidth="1" markerHeight="1" refX="1" refY="1" overflow="visible"><path d="M0 0l2 2m0 -2l-2 2" stroke="#111" stroke-width="0.5" fill="none"/></marker><marker id="m184" markerUnits="userSpaceOnUse" markerWidth="1" markerHeight="1" refX="1" refY="1" overflow="visible"><path d="M0 0l2 2m0 -2l-2 2" stroke="#ff0000" stroke-width="0.6" fill="none"/></marker><marker id="m185" markerUnits="userSpaceOnUse" markerWidth="1" markerHeight="1" refX="1" refY="1" overflow="visible"><path d="M0 0l2 2m0 -2l-2 2" stroke="#5a00f0" stroke-width="0.45" fill="none" stroke-opacity="0.9"/></marker><marker id="m186" markerUnits="userSpaceOnUse" markerWidth="1" markerHeight="1" refX="1" refY="1" overflow="visible"><path d="M0 0l2 2m0 -2l-2 2" stroke="#0020f0" stroke-width="0.45" fill="none" stroke-opacity="0.9"/></marker><marker id="m187" markerUnits="userSpaceOnUse" markerWidth="1" markerHeight="1" refX="1" refY="1" overflow="visible"><path d="M0 0l2 2m0 -2l-2 2" stroke="#0070f0" stroke-width="0.45" fill="none" stroke-opacity="0.9"/></marker></defs><polyline points="99.8,75.5 106.8,78.9 129.1,31.7 110.3,68.6 110.7,57.8 68.4,84.2 107.7,59.8 136.1,56.7 126.8,48.5 96.9,65.5 129.2,43.8 144.1,44.5 153.9,41.7 105,72.8 103.3,64.4 151,44.4 113.9,63.2 85.9,86.6 60.5,94.2 88.3,63.8 73,77.2 114.4,47.8 94.3,60.2 137.6,44.5 106.1,55.7 77.6,85.3 98.3,71.7 142.7,36.4 76.1,79 116.7,64.5 94.5,58 104.6,76 129.5,58.4 122.4,55.7 103.8,57.9 81.8,70 128.6,29 77.2,89.8 122.8,53.4 124,33.3 121.9,61.8 100,72.7 77.9,85.7 67.5,88.7 127.2,49.3 110.3,72.3 113.1,63.3 150.1,26.3 102.9,51.1 82.4,68 137.6,53.4 99.2,60.6 116.4,65.9 131.7,58.2 75.8,78.7 72.7,87 60.5,94.3 64.5,97 95.3,73.1 86.5,75.5 76.6,77.3 66.1,91.9 110.3,65 134.5,46.3 106.9,57.4 139.5,39 92.1,79.2 113.5,73.6 141.3,47 119.2,63.4 131.9,33.8 81.8,79.4 107.3,45.4 94.8,54.9 106.3,64.4 109.5,72.3 107.7,45.1 111.3,48.4 133,30 91.1,72 67.9,85.3 106.8,54.6 92.2,73.3 88.4,81.1 83.4,81.2 133.1,35.7 103.8,55.9 103.2,50.9 69,85.7 124.1,51.8 109.6,57.7 98.1,64 141,47.8 73.1,86.3 97.8,63 73.6,96.3 94.7,73.9 98.7,71.4 127.8,63.6 140.8,40.9 94.5,64.9 120.2,50.5 80.8,81.3 115.8,57.7 76.9,82.4 78,81.2 111.7,70.4 79.7,77.3 108.1,62.7 97.9,58.8 121,65 144.4,40.7 71.3,91.2 98.9,72.9 141.2,20.1 109,50.8 129,59.2 139.6,35.9 142.6,41.5 79.5,74.5 96,66.4 72.3,82.5 96.7,71.4 107.2,57.5 131.2,32.6 124.9,54.5 116.5,56 81.8,80.4 163.8,25.3 114.3,54.6 94.1,66.9 82.7,75.6 152,40.5 68.9,82.9 131.3,58.9 70.1,87.4 83.2,79.3 136.4,50.9 93.4,70.6 93.2,62.3 65.2,90.1 107.8,57.3 105,57.3 74.2,78.3 78,76.2 110.4,69.6 128.7,36 104.7,64.4 88.5,71.6 96.3,68.8 112.2,69 94,76.3 106.9,44.2 111.5,60.3 110.2,51.7 119,70.5 139.8,49.1 125.1,53.7 65.4,88.6 113.4,74.3 88.5,66.5 71.8,82.2 80.8,84.5 106.1,68 147.1,39.9 133.3,32.7 69.2,90.4 166.3,31.3 72.9,88.5 70.3,93.4 100.6,64.6 98,62.4 145.6,34.9 161.2,36.1 103.5,76 125.9,44.6 92.5,68.1 63.2,93 97.6,70.1 104.6,66.5 132.4,58 146.6,31.8 116.2,72.2 106.2,67.9 105.1,62.3 101.6,78 82.8,70.1 101.7,71.9 142.2,33.1 153.7,29.2 71.9,84.6 91.1,63.9 108.9,63.4 110.9,64.3 148.5,37.4 167.5,31.1 102.3,60.2 116.3,61.8 102.3,76.3 141.3,44.3 141,49.6 73.6,80.7 72.3,83.6 145.4,39.3 118.2,32.6 94.2,70 87.5,65.9 104.3,75.7 154.1,40.3 65.3,92.3 78.8,84 139.3,45 155.6,24 96.3,65.9 138.8,48 76.3,86 90.3,79.4 97.7,71.9 109,63.4 157.3,36.8 96.5,63.4 69.4,83.6 99.4,73.8 128.6,37.1 94.7,74 137.7,50.5 82.2,73.4 63.1,91 122.1,44.7 110.3,62.6 67.6,93.7 85.4,76.6 89,73.9 87.5,74.3 146.4,37.5 135.7,31.9 133.5,42.9 82.2,75.2 148.7,36.4 155.8,42.9 104.2,60.7 102.8,64.6 110.6,70 85.3,80 104,68 107.7,66.4 107.6,62.2 79.5,84.1 91.9,73.6 91.8,66.2 129.4,28.5 95.5,60 87,74.8 110.4,68.1 83.8,78.7 99.6,70.6 125.1,59.4 105.9,72.5 86.9,73 100.4,81 111.8,61.8 150.6,43.7 160.3,37.4 111.5,64.9 166.3,30.2 64.5,95.9 56.1,102.1 131.1,53 127.1,56.8 74.7,83.3 137,34.7 133.6,42.8 75.7,80.9 95.4,70.5 153,28.8 165.2,29.5 97.6,83.1 154.4,38.2 124.1,65.6 72.4,80.3 99.5,76.3 133.9,49.3 106.3,73.2 90,76.6 153.2,15.1 115.6,53.2 162.2,36.3 112.9,61.2 155.8,40.8 60.3,97.1 104.6,63.5 93.8,64.1 81.1,75.5 96.4,69.2 134.5,50.9 127.7,62.2 71.3,80.7 111.6,51.6 93.8,74.1 120,68.1 97,65.7 100,62.7 103.8,69.6 117.7,56.9 102.9,78.4 75.1,83.4 104.3,73.7 83,80.8 80.8,80.1 97.3,67 91,70.6 109.1,64 105.1,57.8 77.2,74.1 101,73.5 103.8,67.9 153.4,30.7 79.8,76.6 74.4,82.8 115.6,38.6 117.6,55.4 98,69.3 76,84.7 99.8,65.3 137.3,50.1 81.8,72.6 121.8,56.9 115.5,53.9 135.6,40 80.6,79.5 67.2,87.4 104.8,65.8 107.2,72 127.6,58.8 83.6,80 126.9,44.9 165.7,24 133.3,56.3 82.5,80.8 108,63.3 92.8,78.5 98.8,59.7 150.2,34.8 155.7,34.8 69.6,87.7 131.3,53.7 67.1,85.6 133.3,51.4 153.5,39 86.1,76 77.2,77.5 85.1,67.4 148.1,35.7 100.1,67.7 126.9,55.8 144.1,27.4 165.4,28.7 115.9,51.6 128.9,43.6 91,74 114.5,49.9 127.2,59.7 122.1,63 144.6,35.7 96.3,61.2 94.7,68.5 95.4,63.6 57,102.4 157.1,41.5 82.9,82.8 147.6,39.1 69.9,81.1 96,61.1 66.9,88.1 146.9,36.6 107.4,68.9 73.4,88.2 143.2,42.9 110.6,66.2 134.6,27 118.1,68.2 101.1,71.3 115.1,34.2 102.3,83 161.7,30.2 106.7,57.6 94.2,64.2 71.7,82 140.4,52.9 91.6,83.1 68.7,88.2 92.5,70.2 129.4,35.8 73.4,90.3 114.5,53.6 140,48.8 123.1,59.9 106.4,71.4 107.9,61 116.3,49.1 118,60.1 148.1,45 93.8,68.3 104.5,62.3 86.1,73.6 106.2,57.7 120.1,41 167.6,26.4 103.1,56.8 102.4,63.8 121.4,53.9 75.3,82.2 73.1,86.7 109.3,55.2 103.1,52.3 101.2,69.1 114.6,40.8 69.3,90.3 97.9,70.7 95.5,77.6 98.5,62 66.9,84.8 146.8,39.9 70.1,81.2 78.2,78.1 88.2,67.4 141.1,53.7 102.9,78.7 72.4,79.5 107.1,61.3 100.1,57.4 117.2,42.3 77.7,85.5 149.7,42.5 103.7,57.4 115.6,63.9 124,56.8 94.4,68.8 96,68.8 75.5,85.6 94,66.1 139,30.3 142.7,43.9 82.7,77.5 79.6,84.1 128.5,46.6 67.3,93 106.5,65.4 92.9,68.2 119.6,51 76.5,84.6 78,77.3 67.7,91 160.9,33.4 161.7,34.6 168.7,19.3 100,67.2 99.3,82.1 116.3,68.1 102.3,50.7 132.7,22.9 146.9,36.5 67.5,91.8 68.4,82.8 80.6,74.3 162.9,29.8 58.3,98.8 82.5,83 123.3,35.3 87.1,76.1 158.6,39.6 85.7,74.2 155.4,27.8 127,59.8 135.8,28.1" fill="none" stroke="none" marker-start="url(#m0)" marker-mid="url(#m0)" marker-end="url(#m0)"/><polyline points="54.1,105.9 78.4,94.6 88.1,91 82.2,94.5 78.8,96.3 75.6,96.2 50.7,107.7 85,92.8 81.7,99.9 70.4,104.6 89.9,87.4 50.5,109.7 83.1,95.5 94,86.3 58.5,105.6 97.6,79.9 83,88.3 46.2,112.9 79.2,99.8 65.1,103.4 53.8,111.9 72.1,102.1 52.2,111.2 82,94.3 92.7,90.1 70.9,92.4 74.9,98.6 54.6,108.4 60.9,110 73.5,102.1 69.2,102.5 61.5,107.6 70.4,105 62.9,113 72.1,105.4 53.5,110.5 53.4,108.2 69.4,101.4 95.9,86.1 55.7,111.6 97,85.2 59.2,103.3 56.9,113.5 71.4,88.7 90.4,88.1 53.7,112.7 48.1,109.2 91,90.7 59,107.3 84.2,95.1 62.5,101.1 65.2,105 64.6,110.3 64.5,100.1 70.7,103.8 64.7,106.6 74.1,98.5 60.3,113.4 90.9,88.2 60,112.4 74.5,99.1 59.2,107.4 56.8,109.1 70.9,100.6 57.3,106 63.3,108 61,103.1 76.5,101.3 50.4,108.6 53,104.6 60.6,106.7 98.2,84 83.3,96.2 82,93.2 53.6,111.2 76,99 58.4,112.7 82.3,95 70.1,94.6 77.7,95 64,103.7 59.2,107.6 67.9,109.4 88,89.4 58.4,105.8 48.3,109.2 85.6,88.6 85.2,94.8 76.8,101.1 56.7,106.4 73.9,98.9 52.9,112.3 64.8,103.4 70,102.6 89.7,88.6 77.3,102.2 65.3,110.2 48.9,111.5 67.8,99.7 54,108.8 59.8,105.4 78,95 64.1,107.5 62.1,106.4 64,109.6 69.8,104.8 48.2,112.5 47.4,111.9 51.3,108.1 79.2,99.9 59.4,103.2 53.9,111.5 77,98.5 67.2,102.1 98.4,79.6 66.1,108.4 72.5,97.4 62.3,109.7 52.5,108.3 57.7,112 57.6,111.9 58,105 72.8,97.7 78.6,100.6 70,95.6 56.3,109.9 77.3,100.9 53.8,109.6 68.5,103 65.3,99.6 55.1,107.5 70.7,99 54.5,108.7" fill="none" stroke="none" marker-start="url(#m1)" marker-mid="url(#m1)" marker-end="url(#m1)"/><polyline points="143.3,29.1 89.6,62.6 120.2,41.5 158.6,32.3 147.5,36.3 132.9,29.3 124.9,32.4 143.7,28.5 154.8,23.8 85.8,64.5 144.9,16.8 135.4,36.5 89.8,65.6 139.8,33.4 83.7,74.2 96.7,52.4 82,74.1 143.7,32.6 120.5,42.8 90.1,73.1 147.1,18.7 87.2,68.3 132.7,23.9 132.4,31.4 162.9,28.6 141.1,27.6 119.5,36.1 97.5,61.2 165.3,12.6 131.9,39.1 152.4,36 93.5,65.2 128.6,36 121.6,40.8 157.6,10.4 136.3,33.2 126.7,58.5 160.4,26 72.3,77.9 140.9,37.5 150.1,20.2 84.2,66.9 136.1,38.9 97,62.3 111.8,56.1 97.2,53.4 130.8,35.9 134.5,39.7 153.1,27 152.8,15 158.2,24.9 114.5,43.3 107.6,53.5 143.9,28.9 87.5,71.5 100.1,65 131,48.5 153.6,34 167.8,16.7 158.4,12 120.3,31 141.3,15.1 113,48.7 122.6,64.4 155.4,17.7 127.2,26.7 113.9,41.5 166.1,29.1 142.9,39.3 119.2,50 162.5,22.9 131.3,35.7 134.5,37.2 130.4,34.7 113.2,57.2 119.8,36.9 154.9,29 123.2,63.4 111.7,48.2 98,56.2 141.9,37.7 135.1,38.3 136,26.5 99.3,61.8 153,29.3 102.1,64.1 135.1,26.4 161.5,17.2 108.8,53 135.2,21 163.5,11.8 108.7,44.5 109.8,48.9 163.2,13.4 138.6,22.1 150.7,33.3 159.4,18.6 114.7,46.7 163,25.6 134.2,17.7 122.9,35.1 145.3,18.9 134.8,50.6 143.6,43.1 136.3,32.6 157.6,21.3 157.8,11.7 154.9,9.8 96.1,63.3 116.4,39.7 165.5,10.2 92,59.5 158.3,34.7 165.3,26.2 152.5,15.7 147.3,39.1 112.1,42.9 134.1,44.4 159,12.6 138.1,20.5 135,22.5 124.8,50 129.1,23.4 160.8,27.6 129.9,52.1 77.5,74 122.3,38.9 130.7,37.4 105.2,52.2 138.2,29.9 129.6,51.2 112.3,37.4 102.6,61 131,23.3 152.4,14.9 95.3,64.7 98.8,53.5 86.6,73 137.9,37.4 114.3,38 154.6,11.2 111.4,41.6 136.3,34.3 104.4,50.2 140.4,22.6 148.9,12.1 125.6,32.4 116.3,61 136.9,29.1 82.1,75.2 110.6,70.1 160.3,9 130.8,25.4 154.5,17.6 112,47.6 157.7,20.9 83.4,76.7 125.3,46.2 139.9,31 161.2,13.8 138.1,16.8 159.7,33.8 95.6,64.6 146.1,21.4 94.4,61.4 153.1,27.4 99.6,63.9 83.7,74.2 126.8,38.8 140.5,23.4 147,19.7 139.5,33 88.8,64.2 128.2,38.5 133.5,19.9 156,9.2 146.8,17.1 157.4,32.9 162.2,30.5 135.7,43.8 139.4,41.9 159.4,15.1 125.3,29.9 157.4,20.2 126.1,54 168.8,17.1 136,40.1 132.5,27.8 167.4,12.9 89.5,65.2 119.4,39.4 136.9,19 137.3,33.3 127.9,59.2 148.8,28.3 167.2,13 157.9,11.1 163.2,30 92.2,68.2 166.2,21.1 82.1,73 97.1,52.7 149.1,25.7 115.9,57.1 137.9,36.9 111.5,48.8 152.6,31.1 165.5,11.8 139.8,41 116.3,62.1 155.5,22 147.4,29.6 114,40.7 144.1,41 141,39.9 167.2,15.7 95.8,67 136.2,28.9 140.4,49.9 150.8,36.3 145.1,20.4 154.1,31.4 137.9,21.3 116.6,52.1 153.1,18.1 145.8,30.4 150.6,34.5 135.2,39.9 93.8,61.4 157.6,17.2 127.5,35 125.9,44.2 129.7,29.4 119.1,43.3 95.5,61.6 140.4,30 133.9,41.9 141.9,39.6 149,22.5 150.1,19.8 110,63.5 159.8,12.4 109.6,41 165.6,27.4 155.8,12.7 162.2,13.1 85.4,68.8 129.8,52.6 125.5,30.2 162.8,12.5 134.4,37.1 146.5,33.5 145.1,46.6 140,31.8 88.1,74.7 150.3,34 136.7,26.7 90.1,61.2 147.9,35.4 95.4,63.4 134.2,20.4 127.8,40.7 115.9,39.3 127.4,55 161.5,20.1 134.4,29 128.8,29.6 162.2,33.4 121.3,40.5 96.8,52.2 97,58.7 91.4,61.6 139.9,21.3 151.2,29.5 160.3,25.3 123.3,31.7 141,19.8 146.9,16.7 160.4,32.6 162.3,15.3 118.5,55.3 68.4,86.4 165,12.8 147.2,23 142.3,26.1 138,31.7 150.1,22.1 153.3,26.7 115.7,46.3 136.1,46.3 168.3,15.2 94.7,54.5 136.8,25.6 154.9,23.3 137.1,26.9 85.4,67.6 133.4,33.7 60.8,94.5 90.9,63.4 101.3,51.6 142.5,31 146,16.2 167.2,10.6 133.5,22.6 106.8,57.5 119.6,51 115.1,41.7 142.7,35.7 137.4,27.1 163.2,12.2 115.8,38.4 143.8,37.2 161.8,31.1 113.1,41.8 149.4,32.2 131.4,30.1 135.5,49.7 157,13.7 143.1,27.3 145.2,18.9 133.5,45.4 124.7,35.4 140.4,37.2 149.7,27.2 155.8,42.5 106.8,59.7 137.8,40.6 146.9,14.4 101.2,54.9 79.1,71.9 139.6,22.1 143.9,35.4 160.3,18.2 98.2,50.9 132.9,26.4 125.3,34.8 152,31.5 115.1,35.1 158.8,19.9 99.9,58.6 146.9,35.1 137.9,31 98.6,54.5 111.9,50.6 129.8,22.6 150.4,20.6 136.4,29.6 128.8,24.5 138.8,34.7 95.3,62.5 66,86.9 95.2,62.1 111.1,45.3 135.5,42.9 147.3,21.8 89.3,62.3 102.5,47.9 121.9,42.9 126.9,37 132.6,39.5 100.7,52.7 130.8,29.9 155.1,13.7 166.8,18.7 141.8,26.5 121.1,33.8 126.3,34.5 164.2,15.3 143.2,40.1 147.8,21.5 146.1,27.4 139.7,24.7 124.4,55.2 155.7,17.6 125.8,35.3 135.7,47.3 80.7,75.2 89.1,71.6 166.5,9.6 93.9,62.1 93.4,56.5 86.7,67.5 110.7,43.9 131.3,37 107.7,55.6 156,32.8 149.7,42.1 163.5,12.2 161.4,19.3 121.9,47.7 128.4,32.9 101.8,58.3 167.1,13 123.6,52.3 78.9,74.6 146.8,26 157.3,32.4 159.7,30 99,50.7 86.8,70.2 129.1,60.7 133.5,18.1 87.2,67.2 82.3,67.8 118.4,42.2 93.7,61.7 129.1,23.1 81.8,69 90,63.7 99.1,51.3 84.2,68.4 151.5,42 125,33.4 116.4,60 126.1,36.4 127.4,36.6 147.2,21.4 113.7,64 112.9,47.1 165.4,15.7 134.6,30.2 152.4,23 147.7,26.2 86.6,67 120.4,47.6 158.4,19.1 107.1,52.4 137,25.7 104.2,49.8 156.5,18 91.5,59.8 140.8,37 147.4,22.5 145.1,26.5 123.2,29.1 86.9,70" fill="none" stroke="none" marker-start="url(#m2)" marker-mid="url(#m2)" marker-end="url(#m2)"/><polyline points="113.3,61.9 109.6,60.6 112.3,70.1 116.2,58.5 113.9,66.4 111.4,76.4 109.3,70.2 109.1,71.3 134.3,45.5 138.1,37.4 96.7,55.2 166.1,25.7 133.1,38.1 143.7,25.3 160.6,38 115.5,35.1 106.4,76.5 114.1,49.9 109.2,50.5 143.7,36 106.2,49.1 66.3,86.2 136.7,37.8 104.1,78.9 121.5,57.5 92.8,74.7 122,54 110.3,53.1 75.9,80.6 107,69.5 125,64.6 118.9,64.7 87.2,65 118.3,46.3 127.8,48.3 104.7,53.4 161.7,32.8 119.2,65.4 160.2,32.6 73.8,82.2 114.6,37.5 102.2,74.7 118.1,59.8 118.6,65.5 139,40.1 136.2,50.2 106.5,69.1 166,18.9 86,67.2 149.8,40.1 71.8,84.3 151.2,36.6 140.5,32.6 74.4,84.5 142.5,45 101,68.3 100.1,74.6 103.5,58.4 119.8,67.6 106,74.3 83.4,78.2 70.7,86.3 84.3,70.4 141.5,43.7 85.3,80.5 148.8,26.9 141.1,38.1 161.4,35.9 76.7,88.7 110.6,46.8 112.3,46.7 138.5,24.9 160.2,32.5 103.6,73.1 149.7,25.4 114.2,43.5 144.1,37.9 61.6,96.6 157.9,27.3 109.4,67.6 78.8,75.9 103.1,47.6 134,40.4 115.2,51.5 81.4,84.8 144.8,45.6 107,64.6 107.1,59.5 130.9,53.1 151,36.6 149.5,13.4 125,51.8 129.9,57.9 147.2,40.6 159.5,37.6 150.4,30.3 117.3,58 159.9,26.7 125.1,47.2 113.7,52.5 162.6,27.4 123.1,44.6 118.8,62.8 118,63.5 133.5,20.6 107.7,69.6 108.1,67.5 102.1,57.6 118.9,33.8 107.2,56.5 119.9,44.5 154.9,22.4 87.3,69.7 109.4,68.2 102.3,71.2 112.1,58.8 100.1,74.6 88.2,85 105.4,54.7 136.1,48.9 166.4,20 92.1,78 98.8,69.5 121.5,56.5 161.9,26.4 149.9,45.5 123.6,62.8 160.5,32.3 87.2,74.5 112.5,50.6 145.4,25.5 94.1,84.9 117.9,63.1 96.3,58.2 151.9,37.9 113.3,48.3 93.7,71.6 121.9,52.5 137.3,36.7 99.9,65.8 74.8,84.6 103.4,58.1 102.4,53 165.1,17.8 130.2,41.4 115.9,58.4 122.5,56.3 99.5,69.9 75,76.9 99.9,71.1 103.7,51.3 108.4,74.6 116.3,40.9 147.9,29.4 107.7,50.8 99.2,61 100.1,59 152.3,41.6 102.5,70.3 99.7,60.6 125.3,59.7 111.8,58.2 108.7,48 74.4,83.7 105.2,59.5 164.5,20.6 112.7,47.1 109.8,70.9 165.9,30 103.8,47.9 78.1,75.3 119.1,62.6 158.8,38.3 157.6,34.5 112,62.6 102,67.9 116.4,71.4 104.4,71.8 115,67.9 62.8,95.2 122.1,39.2 164.1,33 125.5,52.6 140.1,43.9 121,55.7 148.7,15.9 128.3,41.2 144.9,43.6 94,81.6 113,64 108.1,66.7 121,47.1 95.9,77 125.6,65.2 161.4,34.8 124.4,58.3 58.5,97.3 113.6,66.4 102.6,78.8 150.9,38.3 131.2,43.9 107.4,68.5 128,59.8 66.8,88.9 109.1,67.1 121.8,47.4 161.3,39.2 145,36.2 108,59.1 117.2,63 119.8,58.6 137.4,48.5 106.6,60.9 68.4,89.5 136.9,51.9 106.3,53.2 99,74.3 90.5,71.2 86.1,72.1" fill="none" stroke="none" marker-start="url(#m3)" marker-mid="url(#m3)" marker-end="url(#m3)"/><polyline points="66.7,96.4 72.7,93.1 64.8,95 90.2,76.6 79.3,96.1 87.5,82.8 72.9,95.8 62.4,99.2 64.9,99.7 60.8,98.1 72.4,94.6 64.4,99.5 61.6,101.1 62.6,100.6 90.8,79.4 89.7,87.9 88.1,87.5 78,94.1 69.9,91.2 75.7,88.7 88.4,77.5 88.7,85 79.6,91.9 56.7,103.4 94,81.9 62,106.9 88.8,80.2 78.7,90.1 57.2,108.8 97.3,82.5 77.1,94.9 93.5,86.4 93.3,89 85.8,94 69.3,93 71.5,94.8 66.6,95.5 60.8,102.3 88.9,86.1 55.3,104.5 74.8,99.7 62.7,107.8 71.8,95.5 93.1,76.2 77.2,89.2 83.6,85.2 97.4,82.4 64.1,95.7 55.2,101.9 60.5,99.2 69.8,96.6 79.2,88.5 87.1,78.1 54.4,104.2 56.9,100.2 94.3,86.8 86,87.1 64.8,104.4 62.9,96.7 77.5,81.3 75.3,98.1 53.5,103.3 96.6,77.7 71.3,91.9 71,92.7 98.5,77.8 69.1,96.4 76,86.6 65.6,93.3 78,88.4 51.4,111.7 87.6,84.2 59.1,99.2 82.5,91.5 66.8,102.6 93.2,75.3 82.7,88.2 64.4,106.1 83.7,79.6 71.7,99.5 97.6,79.2 79.6,80.2 85.1,88.8 94.7,78.2 82.1,92.8 71.8,93.1 64,99.4 93.4,86.2 96.9,81.2 78.5,83 73.7,90.2 78.5,99.5 88.6,91.9 78.1,83.1 68,94.4 55.9,107.2 67.3,92.6 62,104.1 95.1,81.8 79.8,93.5 70.2,93.8 83.3,93.5 73.9,97.4 63.8,102.1 81.6,87.2 64,104.2 84.1,88.2 87.6,72.6 69.5,86.6 84.8,88.1 97.4,80 87.3,85.4 78.6,97.1 72.1,87.5 89.1,87.8 92.3,73.1 74.2,85.1 74.8,97.9 99.2,78 56.9,103.2 85.2,78 58.5,98.3 93.1,81.5 94.7,80.4 66.8,97.9 71.9,91.2 60.4,103.4 71.7,94 62.9,98.8 87.7,91.9 94.1,84.3 56.9,106.1 58.4,100.1 64.6,94.3 80.3,84.5 69.1,89.5 57,105.1 94.7,84.8 98,75.4 62.1,97.8 96,74 89.1,77 81.7,89.3 98.2,76 64.6,101.6 64.5,101.8 57.9,103 65.3,101.4 68.3,90.2 70,91.4 75,91.2 62.7,103.7 94.3,72.6 65.1,101.1 63.7,97 65.3,97.3 54.3,108.2 79.9,83.7 88.7,81.7 96.1,75.5 64.5,94.6 94.8,81.6 82,80.5 100.2,83.5 96.6,76.9 74.3,95.2 80.9,89.8 60.8,100.4 65.4,89.8 80.4,81.5 77.4,81.2 83.5,89.3 67,96.1 89.6,79.2 76.5,84.8 76.4,82.5 63.4,106.8 86.9,83.1 88.3,80.6 84.2,86.6 74,88.2 66.3,96.5 66.2,88.9 76.1,97 75.1,92.5 85.3,85.3 95.5,82.3 71.8,93.3 73,92.5 84.2,81.7 92.9,75.9 67.5,98.7 70.8,101.6 88.2,82 71.3,90.2 79.7,95.2 60.4,104.7 60.2,101.3 71.3,93.2 95.2,88 94.3,76.4 88.6,84.8 66,105.3 56.8,104.1 67.5,95.3 89.8,90.8 93,84.1 86.8,76.8 82.5,84.2 88,72.8 64.1,96.7 76.4,91.2 81,91.3 84.5,90.9 86.5,82.4 68.8,104.4 78.5,88.5 85.8,91.1 82.4,79.6 78,88.4 81.9,86.6 92.6,79.6 73.9,91.4 56.9,101.3 64.5,98.8 73.6,105 90.9,86.2 86.4,74.1 68.5,102.2 67,94.8 75.2,86.5 77.9,96.5 55.4,109 96.4,80 83,86.5 88.5,80.6 75.1,89.6 91.1,90.8 78.6,87.9 96,76.4 60.2,94.4 89.8,83.6 81.9,89.3 96,82.2 52.9,108.7 91.8,79.9 87.6,69.2 69.2,81.2 71.9,87.1 58,99.6 77.2,97.7 80.5,88.6" fill="none" stroke="none" marker-start="url(#m4)" marker-mid="url(#m4)" marker-end="url(#m4)"/><polyline points="140.3,47.5 121.6,54 134.6,54.7 122.1,61.7 162.6,18 159.6,23.2 159.8,19.1 110,54.8 112.1,69.2 137.8,30.6 144.3,15.3 140.7,29.3 117.8,34.7 134.1,47.8 147.6,30 156,31.3 118.4,42.1 77.9,74.1 167.4,11.6 155.1,24.7 152.1,35 84.1,67.9 157.6,12.1 114.3,58.6 131.7,37.9 131.8,29.1 168.2,15.4 152,31.3 143.3,25.9 94.3,63 101.9,51.5 115.3,38.7 141.7,34 140.6,39.1 156.6,19.9 160.6,18 109.1,48.2 141.7,47.9 162.3,17.4 166.2,10.5 120.8,52.4 158.1,35.9 145.6,44.4 152.7,45.2 163.8,22.3 154.9,14.3 120.1,34.3 167.4,24.1 125.6,33.5 160.8,12.8 157.4,12.5 122.1,41.5 129.2,26 169,13.1 126.9,57.7 146.2,16.2 151.1,13.8 78.2,74.7 152.7,26.2 139.7,42.5 132.6,28.2 118.3,40.5 118.6,40.3 139.5,15.7 99.2,59.6 162.8,24.2 137.9,16.5 96.1,63 136.2,44.9 101,61.7 138.6,28 103.7,52.1 116.3,45.4 154.9,22.9 135.8,18.5 122.2,49.1 162.1,22.2 153.9,15.4 95.3,57.6 126.8,52.9 118.3,41.9 149.6,38.6 125.8,39.3 168.7,18.6 137.8,27.5 121.6,34.9 145.4,20.5 104,62.8 160.1,13.5 126,37.6 133.6,34.5 135.3,35.3 143.8,20.9 133.3,32.7 138.3,30.9 163.4,14.7 139.9,29 157.7,32.7 158.4,24.3 138.6,33.5 168.9,14.9 143,36.7 157.4,10.8 91.6,63.5 150.3,13.5 104.2,58.9 89.1,62.3 123.1,57 134,58.5 134.1,22.4 153.1,12.6 125.8,62 141.5,33.6 135,22.2 153.6,29 133.4,38 120.5,41.2 159.7,10.6 165,20.2 106.6,57.6 129.7,47 107.9,50.4 157.7,39.1 119.1,34.8 150,22.8 99.1,59.4 114.1,41.3 165.3,19.7 90.3,67.2 164.3,16.5 164.3,22.5 113.4,44 117.1,70.6 157.1,14.7 118.8,51.3 122.2,29.4 151.6,21 110.2,46.2 113.2,43.8 132.3,43.1 150.4,24.3 122.6,36.2 112.1,50 124.1,41.4 124.5,31.3 118.9,56.3 132,34.8 154.8,26 121.8,53.6 119.2,38.1 158.8,31.9 121.1,50.2 114.7,50.1 126.8,29 144.8,19.6 153.5,22.2 140.4,24.2 119.5,32.4 144.2,26.4 132.8,44.5 126.9,26.8 161.1,12.3 137.6,18.3 151.7,17.3 154,30.2 118.3,43 150.8,14.3 158.6,36.5 146,37.8 71.4,78.5 119.3,34.2 123.2,45.5 157.6,12.7 120.9,53.8 126,47 124.7,31.8 117,37.8 134,35.2 115.7,40.6 141,17.8 150.9,9.7 96.1,53 165.4,35 133.9,26.9 150.3,19.2 139.1,26.7 122.9,44.2 162.4,24 153.3,19 133,44.8 149.4,9.9 149.7,23.4 144.2,34.9 160.5,25.9 164.7,20.2 70.1,81.1 104,48.6 96.9,59.3 112.6,46.8 115.4,39.3 142,35.9 104.9,45.7 147.1,25.2 148.9,49.1 131,43.2 147.7,43.3 122.3,32 130.3,25.5 159.4,31.3 157.5,24.9 163.7,16.2 155.8,37.9 151.9,21.8 143.2,43.4 102.3,60.7 115.9,64.2 136.1,34.4 135,21.1 138.6,22.4 116.6,38.6 90.5,61.5 129,56.1 99.6,58.6 148.9,15.8 158.6,24.8 143.2,26 124.5,30.4 148.6,43.3 154.7,40.4 154.9,17.5 163.2,8.1 152.2,17.4 139.1,27.4 135.1,38.1 127.7,51.8 128.6,52.3 112.8,58.1 146,25.2 167.4,17.8 142.1,29.1 158.3,14.7 162.8,33 160.2,22.9 117.5,61.2 156.4,27.4 163.9,16.9 129.6,46 160.3,35.6 142.9,49.3 165.6,8.7 121.3,61.9 165.9,26.3 166.6,23.4 113,55.7 131.9,43.5 116.9,55.7 153.8,38.3 160.7,18.9 148.6,30.8 132.2,38.7 156.9,13 128.3,41.3 160.7,30.5 156.9,21.5 147,16.6 76.2,78.5 119.8,62.9 112.1,62 147,27.9 161.7,11.1 143.9,48.9 159.6,19.1 122.4,45.5" fill="none" stroke="none" marker-start="url(#m5)" marker-mid="url(#m5)" marker-end="url(#m5)"/><polyline points="47.5,124.5 44.9,118.1 50.4,123.1 48.3,120.5 55.2,116.4 49.5,121.3 51.9,119.7 47.9,114.5 45.7,119 51.3,118.2 44.1,121.6 51.8,121.8 47.8,115.7 44.3,118.8 45.6,123.7 46,121 48.2,122.3 45.9,122.1 47,116 45.1,119.5 48.5,120.1 43.5,116 47.8,120.6 50.7,119.6 51.8,120.3 52.9,114 60.2,105.4 55.5,105.5 54.9,109.5 53.3,112.6 52.2,111.3 51.8,109 52.7,116.9 51.3,110.5" fill="none" stroke="none" marker-start="url(#m6)" marker-mid="url(#m6)" marker-end="url(#m6)"/><polyline points="87.1,90.7 80.7,89.9 83.9,88.4 69.6,87.9 70.5,100.5 70.6,98.2 55.1,103.8 86,91.9 91.7,77.3 74.4,93.2 91.4,85.6 60.8,99.1 69.1,96.3 53.2,105.1 85.4,89.9 53.1,106.7 62.2,102.9 91.3,77.5 82.8,86.8 66.4,95.9 65.1,90.3 79.8,85.1 59.1,98.5 60.7,97.5 84.1,89.4 90.8,83 60.7,101.8 91.1,79.9 89.4,85.1 88.4,72.3 89.6,90.4 94.8,80.8 81.6,95.4 69.3,93.2 89.7,88.8 77.9,88.6 77.1,89.2 65.9,92.9 86.7,84 98.8,79.5 78.4,95 64.9,102.7 55.8,100.1 89.3,84.1 89.3,82 90.8,84.3 81.9,94.8 60.8,102.3 96.2,74.1 85.1,83.4 58.3,104.8 97.1,81 76.8,99.7 58.7,102.6 76.6,95.5 77.8,90.8 64.9,95.3 76.4,88.8 92.4,81.4 76.1,102.4" fill="none" stroke="none" marker-start="url(#m7)" marker-mid="url(#m7)" marker-end="url(#m7)"/><polyline points="51.9,117.5 48.9,122.6 51.8,117.7 45.7,117.7 43.3,116.5 46.9,124.9" fill="none" stroke="none" marker-start="url(#m8)" marker-mid="url(#m8)" marker-end="url(#m8)"/><polyline points="57,116 54.9,113.8 46.5,116.7 53.1,114.7 63.1,112.8 44.6,112 58.2,113.7 54.4,114.9 45.2,112.9 50.3,115.2 45,114.5 56.6,113.4 53.5,114 45.6,113.6 52.6,118.7 45.2,116.1 74.8,101.2 54.6,117.5 49.7,114.7 43.9,117.6 44.3,112.4 70.2,108.6 53.4,115.6 50.7,119.9 51.8,117.2 47.3,117.9 57.4,111.5 62.5,108.1 54.3,115.1 45.6,120.1 63.9,110.9 53.4,115 53.3,116 74.9,103.6 43.5,112.3 52.2,117.1 53.3,116.4 57.5,113.6 47.5,120 51.8,116.1 59.6,112.5 57.8,114.6 44,118.5 45.6,113.2 45.1,112.7 50.6,116.6 43.8,116.2 48.9,121.5 52,118.7 54.8,114 50.9,112.2 52.5,116.5 53.4,112.1 56.5,115.7 52.7,120.8 46.1,117.7 46.2,114.5 58.7,113.1 50.7,119.2 53.1,116.3 53.8,116.7 53.6,116.6 46.8,113.9 43.5,115 44.7,112.5 50.6,115.2 53.5,119" fill="none" stroke="none" marker-start="url(#m9)" marker-mid="url(#m9)" marker-end="url(#m9)"/><polyline points="62.5,108.6 58.1,107.7 53.8,107.2 57,109.3 71.2,101.1 52.5,112.6 74.8,94.1 68.6,100.1 97.7,81.7 75.9,101.4 65,98 71.5,97.5 84.6,97.9 84.7,82.7 66.4,104.8 51.6,113.3 68.6,104.7 70.1,105.4 68.5,100.7 70,99.7 71.8,100.6 67,101.9 52.4,111.1 72.5,99.8 61.3,109.9 52.1,106.1 82.8,99 72.9,102.9 63.5,108.3 78.1,99 94.9,79.6" fill="none" stroke="none" marker-start="url(#m10)" marker-mid="url(#m10)" marker-end="url(#m10)"/><polyline points="47.1,112.3 58.8,113.7 56.2,114.2 61.8,110.2 56.1,112.6 50.8,118.4 50.6,116.1 65.5,111 54.4,117.8 47.8,109.6 49,116.2 48,114 48.1,123.2 49.9,117.5" fill="none" stroke="none" marker-start="url(#m11)" marker-mid="url(#m11)" marker-end="url(#m11)"/><polyline points="47.2,124.4 45.5,126.1 46,127.1 52.7,107.9 52.9,111.5 60.2,104.7 58.3,107.2 55.4,110.4 57.6,105.3 55.7,112.4 50.9,112.4 57,106.8 46.7,115.1 56.6,105.6 59.3,104.3 52.4,108.1 47.7,115.4 56.9,112.8 52.4,113.5 61.3,104.5 52.3,108.3 52,117.5 45.7,115.8 54.5,114.4 59.7,106.2 54.8,108.9 48.4,116.8 53.8,110.9 57,104.4 55.2,114.4 61.4,105.1 54.4,114.2 52.5,112.2 60,103.4 54.8,108.6 54.2,112.7 57.4,106.5 56.5,105.8 52.5,110.9 60.6,105.3 54.6,113.9 46.8,114.5" fill="none" stroke="none" marker-start="url(#m12)" marker-mid="url(#m12)" marker-end="url(#m12)"/><polyline points="45.2,128.7 45.2,128.7" fill="none" stroke="none" marker-start="url(#m13)" marker-mid="url(#m13)" marker-end="url(#m13)"/><polyline points="131,17.7 122.9,24.2 131.7,10 119.1,22.5 153.4,8.7 140.6,12.6 139.7,11.6 129.8,15.4 127.6,22.6 113.2,35.6 108,27.8 127.4,10.2 104.3,36.8 138.7,10.3 141.8,11.9 131.8,13.3 93.9,54.7 110.7,35.7 112.4,33.9 107.3,38.4 154.1,50.2 123,73.9 143.8,54 115.1,81.6 148,52.1 100.4,86.2 145.6,51.8 119.1,71.8 120.1,71.5 132.3,66.4" fill="none" stroke="none" marker-start="url(#m14)" marker-mid="url(#m14)" marker-end="url(#m14)"/><polyline points="127,64 124,69 110,24" fill="none" stroke="none" marker-start="url(#m15)" marker-mid="url(#m15)" marker-end="url(#m15)"/><polyline points="47.1,127.1 44.2,120.5 54.5,128.2 44.2,121.2 49.3,123.9 48.1,118.3 48.6,127.4 55.6,126.4 47.7,117 43.5,117.6 49.5,120.9 44,128.1 42.9,115 49.1,119.2 56.3,128.9 45.7,122.9 44.6,113.3 45.7,114.1 48.6,127.1 48.9,128.9 48.5,117.9 53,126.7 51.5,127.7 55.3,126.1 47.5,120.1 52.2,125.1 44.7,116.1 50.2,121.1 47.9,125.8 50,125.4 48,122.8 43.7,116.2 53.7,125.5 43.1,123.6 43.4,124.9 52.6,122.6 42.8,123.5 47.7,128.2 47.7,124.2 49.8,122.8 44.1,128.7 57,128.8 46.4,119.5 43.6,123.5 48.3,119.1 43.4,122.9 44.3,127.8 45,118.6 50.8,125.3 48.5,124.4 44.3,127.7 45.1,122.7 49.8,128.9 48,126.6 44,126.9 47.8,126.8 43.9,128.8 43,123.6 45.2,122 53.7,127.5 45.7,126.8 45,119.9 42.9,122.4 43.1,125.9" fill="none" stroke="none" marker-start="url(#m16)" marker-mid="url(#m16)" marker-end="url(#m16)"/><polyline points="45.8,114.2 46.2,125.6 42.8,120.5 45,127.5 45.8,122.4 46.9,117.2 50.2,124.5 49.2,123.4 44.6,125.8 43.8,123.4 48.8,121.8 49.5,123.5 45.9,117.8 52,123.2 45,127 46.5,128.9 42.7,125.8 50.4,125.4 43.2,118.8 44.5,129 43.8,124.7 50.8,125.5 53.3,127 45.7,116.9 44.3,124.9 45.5,114.8 43,122.5 45.1,113.5 47.1,118.4 44.9,119.6 46.3,126.5 45.7,127.6 45.7,122.5 44.2,116.2 56.5,127.7 44.5,122.2" fill="none" stroke="none" marker-start="url(#m17)" marker-mid="url(#m17)" marker-end="url(#m17)"/><polyline points="52.1,117.4 47.2,115.5 51.7,117.3" fill="none" stroke="none" marker-start="url(#m18)" marker-mid="url(#m18)" marker-end="url(#m18)"/><polyline points="49.8,118 47.7,120 48,118.8" fill="none" stroke="none" marker-start="url(#m19)" marker-mid="url(#m19)" marker-end="url(#m19)"/><polyline points="57.9,111.7 48.4,114.5 53.4,110.1 50.6,113.6 57.1,105.7 54.9,113.4" fill="none" stroke="none" marker-start="url(#m20)" marker-mid="url(#m20)" marker-end="url(#m20)"/><polyline points="47.5,115.9 48.4,116.9 50.9,116.6 47.7,119.3 50.2,114.8 54.1,114.2" fill="none" stroke="none" marker-start="url(#m21)" marker-mid="url(#m21)" marker-end="url(#m21)"/><polyline points="47.9,118.7 47.4,114 50.6,117.9 53.9,114.3" fill="none" stroke="none" marker-start="url(#m22)" marker-mid="url(#m22)" marker-end="url(#m22)"/><polyline points="78.3,118.8 74.6,118.4 71.8,123.6 59.5,124 63.6,121.9 84.3,116.3 60.9,121.3 80.5,115.7 79.4,121.1 85.6,114.6 79.3,118.4 58.1,125.1 70.9,120.2 57.2,120.9 80.8,119.8 64.6,123.2 58.9,123.2 56.6,122 64.6,121.6 73.6,121.3 66.1,124 71.7,119.9 70.4,121.1 57.7,124.2 72,122.8 74,120.1 80.4,119.5 81.1,119.2 72.2,122.3 64.2,125.3" fill="none" stroke="none" marker-start="url(#m23)" marker-mid="url(#m23)" marker-end="url(#m23)"/><polyline points="104.6,118.3 81.5,116.4 83.4,119.5 78,117.5" fill="none" stroke="none" marker-start="url(#m24)" marker-mid="url(#m24)" marker-end="url(#m24)"/><polyline points="87.2,126.5 97.9,124.6 112.4,125.2" fill="none" stroke="none" marker-start="url(#m25)" marker-mid="url(#m25)" marker-end="url(#m25)"/><polyline points="238.3,57.9 226.8,99.3 239,50.1 236,57.2 223.6,100.6 243.8,60 253.1,88.6 227.2,106.2 232.7,54 231.9,57.8 226.4,93 258.5,74.7 245.8,93.9 260.9,70.1 252.6,77.5 229.8,52.2 228.5,63.6 223.9,94.8 230.6,82.5 227.4,116.7 224.3,99.7 257.4,55.2 234.2,73.6 232.3,60.2 224.3,119.3 225.9,85.7 229.3,52.3 233.9,63.6 255.1,68.1 229.6,89 250.5,73.5 238.6,51.7 229.8,43.5 229.6,46.8 227.6,63 243.5,55.4 224.8,101.9 238,84.1 258.8,75.9 239.4,77 232.4,83.5 251.4,84.4 231.4,73.1 238.3,105.6 232.8,57.1 247.1,76.2 239.6,81.2 231,99.8 223.6,98.7 252.7,89.9 229.4,102.7 239.5,40.7 225.4,106.4 266.8,61.8 232.2,70 241.8,101.8 259.1,71.2 227.3,99.9 236.1,112.3 259.8,86.1 239.2,46.2 239.8,41.6 227.7,95.2 227.7,77.3 236.8,85.8 234.4,91.1 237.9,74.2 229.7,100.4 248.1,73.6 230,45.4 224.3,113.4 240.9,106.1 222.5,107.1 254.3,75.1 242.7,69.3 227.9,68.6 232.5,103.1 255.4,52.2 223.4,105.2 235.4,41.7 224,108.4 243.3,79.6 237.5,92.7 234.5,59.5 228.7,121.5 233.2,80.4 231.1,83.7 251.6,41.8 224.7,88.8 241.9,56 240,75.6 229,63.2 261.3,82.1 253.4,66 236.7,72.1 234.7,111.8 221.3,127.8 241.6,59.5 247.8,51.4 233.7,52.1 229.9,45.8 228.6,66.5" fill="none" stroke="none" marker-start="url(#m26)" marker-mid="url(#m26)" marker-end="url(#m26)"/><polyline points="237.9,47.7 234.9,21.4 248.7,31.1 243.4,30.9 240.4,31 232.5,64.1 231.4,43.4 248,23 246.7,41.7 238.6,58.7 250.1,15.1 251.5,11.4 237.2,44.3 233.4,44.9 235.7,30 244.2,14.3 235.5,45.3 233.5,63 233.8,65.5 241.1,27.9 258.4,12.6 249.7,32 247.4,54.2 244.6,50.4 257.5,45.9 234.9,20.4 239.7,19.4 241.2,54.4 231.9,49.1" fill="none" stroke="none" marker-start="url(#m27)" marker-mid="url(#m27)" marker-end="url(#m27)"/><polyline points="254.6,18.5 239.7,27.4 233.3,31 243.5,13 251,34.4 253.8,12.4 253.5,15.9 238,21.8 251,15.7 242.4,16.5 260.8,27.1 235.4,27.8 238,14.4 236.1,20.9 252,31 238,17.8 237.6,37 240.5,20.1 249.7,10.1 233.6,12.8 242.1,13.6 249,37.4 249.7,36.2 235.7,28.8 236.3,16.8 231.9,35.2 238.7,35.4 233.7,26.2 233.3,29.6 242.7,32.1 252.5,34.7 236.3,11.9 251.9,33.4 254.3,16.6 241.1,26.8 243.5,16.5 235.3,39.6 244.2,16.9 235.5,33.4 239.9,32.3 249.8,10.1 249.7,18.6 240.5,23.8 237.2,25.5 233.8,29.2 256.5,36.4 240.8,12 262,19.9 253.6,29.8 256.8,38.5 233.8,26 253.3,22.8 255.6,19.8 243.4,33.1 237.6,27.6 244.5,28.1 242.8,33.1 234.4,27.8 244.7,18.4 257,39.2" fill="none" stroke="none" marker-start="url(#m28)" marker-mid="url(#m28)" marker-end="url(#m28)"/><polyline points="243,98 256.1,55.8 224.3,105.6 240.4,87.1 233.9,47.4 222.6,122.2 227.5,85.6 230.5,83.9 230.8,94.7 237.6,96.3 239.9,78 239.9,51.8 227.9,89.2 236.7,76 231.9,42.4 263.8,78.8 239.9,103.7 236.1,61.9 226.4,76.4 240.3,81.4 261.8,57.8 225.9,80 230.9,96.3 241,97.9 249,61.1 235.5,82.9 225.1,99 231.6,51.5 224.4,103.2 227.1,106.6 222.7,112.6 240.3,91 243.2,70.4 228,119.5 257,52.5 235.4,80.3 250.2,93.8 233.1,59.6 240.8,104.7 248.1,70.2 242,78.4 243,97.2 226.6,80 233.7,100.5 224.2,108.2 225.5,124.2 225.5,106.5 239.5,52.6 227.2,98.8 226.1,120 243.3,75.1 226.4,79.3 228.9,125.2 228.5,69.9 221.6,119.5 235.8,78.2 229.4,87 259.4,60.2 225.7,107.8 252.9,73.1" fill="none" stroke="none" marker-start="url(#m29)" marker-mid="url(#m29)" marker-end="url(#m29)"/><polyline points="223.4,123.4 226.8,127.2 225.6,113.6 224.3,91 251.2,83.3 226.6,112.5 228.5,113.5 224.2,101.8 228.2,92.9 221.4,123 230.3,46.6 231.7,49.4 221.3,117.8 226.9,107.4 226.3,124.8 233.2,92.7 224.4,117.9 236.2,93 226.5,100.5 225.6,101.3 235,56.1 225.9,109.3 259.8,67.2 238.6,73 258.2,75.7 225.7,83.5 245.3,81.9 258.5,77.8 245.1,49 239.5,99.8 249.5,66 262.9,66.5 221.7,114 227.2,113.2 250,40.8 238.7,86.6 230.3,82.9 234.9,71.8 229.1,65.9 231.6,59.2 232.4,118.2 235.7,98.7 243.1,95.7 224.5,95.2 257,72.4 232.2,52.8 229.7,111.5 238.9,89.1 228.6,68.3 247.9,80 229.9,105.5 231.7,107.5 232,53.4 222.4,115.3 228.7,87.8 233.1,117.3 232.3,89.1 231.2,54.2 238.9,85.9 238.4,45.8 228.4,56.1 234.3,75.8 228.7,69.6 236.1,73.6 240.1,64.9 229.9,88.1 223.2,119.9 257.3,55 255.1,85.2 263.9,74.3 260.4,70 248.4,98.8 233.2,94.6 230.7,53.7 254,66.4 231.5,83.4 247.2,94.6 225.3,86.8 239,52.8 244.6,103.1 226.9,96.1 232,63.3 227.5,122.3 252.1,84.8 260.6,44.4 226.4,96.5 225.9,112.6 250.6,43.7 243.7,41.7 225.6,104.5 234.7,99.1 230.2,88.5 237.6,87.7 225.2,106.6 235.5,83.7 260.3,59.3 245,50.7 225.2,117.2 231.7,67.5 227.3,70.6 235.7,40.3 233.7,80.6 235.6,85 247.4,100.3 239.9,100.2 259.2,66.2 238.3,43.9 229.1,79.6 233,43.8 258.8,79.4 230.5,61.5 239.2,73.2 232.3,64.8 224.9,102.3 225.4,97.4 223.3,122.1 255.6,66.8 236.9,88.2 226.2,91.3 252.3,72.1 249.1,79.1 231,90.6 227.4,114 234,51.1 224.2,103.7 243.8,49.1 240.6,90.9 223.3,103.1 221.7,114.9 243,48 230.6,73.7 235.9,99.6 225.6,102.4 226.7,114 252.9,63.4 226.6,117.2 233.4,60 241.8,58.4 236.4,85.5 232.6,99.3 239,70.2 230.1,65 225.7,102.9 236.5,81.5 232.2,104 255,63.9 228.1,92.1 263.1,75.3 227.6,92.6 246,100.9" fill="none" stroke="none" marker-start="url(#m30)" marker-mid="url(#m30)" marker-end="url(#m30)"/><polyline points="254,39.5 231,37.5 251.2,30.9 239.6,63.2 234.2,57 240.6,15 260.6,49 240,43.9 238.8,29.8 247.2,69.3 244.3,21 229.1,56.9 230,51.8 234.7,17.3 240.1,13.6 235.9,53.5 236.6,10.7 233,48.4 233.6,44 243.1,15.3 231.7,31.7 235.6,53 240.5,36.3 235.4,25.7 256.6,44.9 249.2,33.3 237.8,40.3 245.3,33.1 229.5,50.2 245.8,23.4 236.9,50.5 261,51.9 241.3,22 234.4,23.1 248.2,24.2 251.7,63.5 248.6,45.3 256.2,38 237.9,65.7 250.9,12.3 235.1,58.6 233.1,67.4 242.6,26" fill="none" stroke="none" marker-start="url(#m31)" marker-mid="url(#m31)" marker-end="url(#m31)"/><polyline points="261.7,15.2 246.1,29.5 253.2,13.8 247.9,18.6 238.9,16.1 240.7,63.3 253.9,43.5 230.6,42.5 247.1,27.8 259.5,29.7 233.7,22.9 259.6,22.9 251.5,18.7 247.2,22.2 241.2,40.9 255.5,38.7 243,34 229,69.3 235.3,10.3 236.5,31.5 243.9,12.5 245.7,17.5 236.6,13.8 233.5,19.3 241.9,28.5 227.9,61.9 255.2,36.4 245.5,35.7 228.7,56.4 239.4,31.1 257.3,26.8 250.6,31.4 236,22 249.2,30 260.3,22.9 251.8,27.8 260.9,12.4 248.5,25.3 244.3,53.3 258.9,62.5 247.9,22.5 234.6,38.7 231,57.1 237.9,32.5 240.1,14.4 247.8,38.6 239.9,31.1 244.4,34.9 262.9,68.6 257.1,14.3 241.7,59.5 260.1,33.1 257.7,36.6 231.2,50.3 234.1,10.3 258.6,31.7 230.9,57 239.7,28.3 260,67.8" fill="none" stroke="none" marker-start="url(#m32)" marker-mid="url(#m32)" marker-end="url(#m32)"/><polyline points="235,15.1 252.6,22.5 232.7,30 233.5,32.7 237,24.4 240.1,27.4 231.6,37.1 246.4,27 234.2,16 231.4,37.1 259,37.4 243.7,39.1 255.8,32.6 246.9,28 238.8,13 236.7,26.3 236.9,38.2 231.9,37 234.3,30.8" fill="none" stroke="none" marker-start="url(#m33)" marker-mid="url(#m33)" marker-end="url(#m33)"/><polyline points="246.7,72.7 223.5,115.4 226.4,123.4 227.2,73.7 252.4,88.5 225.5,116.5 223.2,118.6 246.2,80.7 246.9,79.2 245.4,91 251,77.5 236.3,96.5 231.6,85.9 235.7,90.3 265.8,79.7 249.1,95.1 231.3,74.3 224.5,89.1 229.8,97.9 251.6,80.2 233,76.6 233.5,75.6 226.1,89.7 225.9,124 232.5,94.7 230.3,78.9 224.1,107.4 235.5,110.1 230.1,80.1 225.1,87.7" fill="none" stroke="none" marker-start="url(#m34)" marker-mid="url(#m34)" marker-end="url(#m34)"/><polyline points="288.1,35.2 265.8,32.5 278.7,24 266.8,20.6 296.6,28.2 281.9,37.4 266.1,29 286.2,36.6 282.4,36.8 269.7,34.1 269.6,36.3" fill="none" stroke="none" marker-start="url(#m35)" marker-mid="url(#m35)" marker-end="url(#m35)"/><polyline points="286.4,24.3 298,22.6 274.3,33.3 282.6,33.8 273.1,39.7 269.5,48.2 279.2,22.2 262.8,24.1" fill="none" stroke="none" marker-start="url(#m36)" marker-mid="url(#m36)" marker-end="url(#m36)"/><polyline points="265.3,24.3 267.3,15.7 283.1,18.6 275.3,19.4 269.4,13.8 278.5,13.6 274.4,25.5 289.1,11.3 264.2,27.1 297.8,11.8 300.5,21.3 276.5,13 273.8,12 278.3,35.7 271.7,10.6 276.7,12 282.5,14 290.6,19 268,13.3 283.9,20 277.3,25.2 293,15.6 268.2,49.9 267.2,16.1" fill="none" stroke="none" marker-start="url(#m37)" marker-mid="url(#m37)" marker-end="url(#m37)"/><polyline points="266.5,16.4 274.6,13.2 269.7,17.2 270.6,13.3 277.4,12.6 262.1,15.6" fill="none" stroke="none" marker-start="url(#m38)" marker-mid="url(#m38)" marker-end="url(#m38)"/><polyline points="279.3,23.3 269.7,49.9 280.2,29.2 275.6,34.3 281.3,21.7 265.4,32.8 276.1,15.7 275.3,35.8 266.4,17.5 264.1,11.2 264.7,18.7 287.6,24.2 284.9,22.5 282.7,13.1 277.6,36.5 294.9,21.2 296.5,10 283.6,26.3 263.6,11.3 263.9,30.1 268.6,24.7 273.3,44 275.7,31.2 301.5,13.3 291.1,21.6 279.7,34 292.7,26.8 275.8,15.8" fill="none" stroke="none" marker-start="url(#m39)" marker-mid="url(#m39)" marker-end="url(#m39)"/><polyline points="263.4,18.8 269.6,24 273.6,24.9 304,13 273.4,38.7 273.8,28.1 296.3,14.6 281.1,43.2 280.2,18.7 299.1,20.6 287,19.1 269.9,19.7 266,12.9 278,17.1 283.1,17.9 269.1,50.3 286,26.6 288.5,11.8 276.6,41 291.7,19.5 277.4,42.4 278.3,43.4 275.4,48.2 278.8,17.7" fill="none" stroke="none" marker-start="url(#m40)" marker-mid="url(#m40)" marker-end="url(#m40)"/><polyline points="279.4,23.8 276.1,20.5 281.3,28.1 297.6,21.6 269.4,26.3 269.8,47.2 294.8,24 282.5,39.1 276.8,24.5" fill="none" stroke="none" marker-start="url(#m41)" marker-mid="url(#m41)" marker-end="url(#m41)"/><polyline points="222.9,95.2 223,112.9 220.8,123.1 223.8,100.7 222.1,108.5 222.3,118.5 217.8,299.8 216.3,304.8 216.6,315.2 216.5,292.7 218.1,306.7 217.9,302.7 216.7,309.7 217.4,298.8 217.9,309.9 217.9,309.5 216.8,313.4 217.7,310.8 217,299.7 217.2,316.4 217.1,307.2" fill="none" stroke="none" marker-start="url(#m42)" marker-mid="url(#m42)" marker-end="url(#m42)"/><polyline points="220.4,122.8 220.7,115.8 221.1,102.1 220.8,107.1 222.8,97.9 217.5,307 216.8,308.4 217.3,298.9 217,310.9 217.5,299.9 216.7,308.3 217.6,299.5 217,317.1 216.3,303.2 217.7,310.7 217,294.8 217,302.7 216.7,310.3 217,313.8 217.6,313.4 217.2,304.1 217.2,316.1 218.2,312.9 217.2,305 218,316.9 216.3,314.5 216.9,308.3 216.9,302.4 217.8,311.9 218.2,318.2 216.3,297.5 217.9,302.2 216.9,292.5 217,305.8 217,304.7 218.2,318.1 217.7,296.1 218.3,310.5 216.5,295.1 218.2,298.5 217.7,298.2 217.6,305.3" fill="none" stroke="none" marker-start="url(#m43)" marker-mid="url(#m43)" marker-end="url(#m43)"/><polyline points="219.8,102.4 221.7,119.4 223.1,109 223.1,103.6 219.8,127.3 219.7,102.9 224.1,94.1 219.7,99.9 219.9,105.8 218,304.9 216.9,310 217.3,295.2 218.1,318.3 216.4,293.1 217.6,293.9 216.3,302 217.9,295.3 216.9,307.5 217.5,310 217,296.6 218.1,294.7 217.4,306.3 217,312.1 216.4,317.9 216.9,300.4 216.6,308.8 217.7,297.9" fill="none" stroke="none" marker-start="url(#m44)" marker-mid="url(#m44)" marker-end="url(#m44)"/><polyline points="223.7,100.3 221.2,98.8 220.1,95.9 220.3,123.6 219.7,97.3" fill="none" stroke="none" marker-start="url(#m45)" marker-mid="url(#m45)" marker-end="url(#m45)"/><polyline points="323.6,40.3 314,46.9 327.9,51.8 298.5,55.6 292.5,55.2 287.3,61.6 323.6,65 327,64.2 310.6,76.3 273.5,80.1 301.1,79.4 303.7,83.2 270.9,85 276,91 283.8,91.8 287.3,98.4 287.3,120.4 261.5,52.4 269,58.7 235,62.8 299.3,55.3 254,68 242,93" fill="none" stroke="none" marker-start="url(#m46)" marker-mid="url(#m46)" marker-end="url(#m46)"/><polyline points="281.8,44.8 279.5,73.7 280,76.3 291.6,80.1 274.8,108.8 298.5,114 248.2,23.5 264.3,23.5 283.2,23.5 281.3,44.9 236.9,52.4 244.5,52.4 238,78 252,99" fill="none" stroke="none" marker-start="url(#m47)" marker-mid="url(#m47)" marker-end="url(#m47)"/><polyline points="317.5,69 293.3,95 303.7,95 315.8,101.4 287.3,113.5 304.6,112.6 240.7,35" fill="none" stroke="none" marker-start="url(#m48)" marker-mid="url(#m48)" marker-end="url(#m48)"/><polyline points="254.6,113.3 247.8,121.3 264.1,121.3 253.9,104.8 245.3,116.3 249.6,124.5 267.2,120.1 253.8,103.5 262.7,121.5 251,98.4 258.9,114.5" fill="none" stroke="none" marker-start="url(#m49)" marker-mid="url(#m49)" marker-end="url(#m49)"/><polyline points="243.1,110.4 269.9,118.1 243.4,102.9 251.1,101.9 236.5,124.9 244.5,123.3 243.1,116.2 261.2,126.6 235.3,116.2 263.7,115 239.2,121.5 245.2,122 239.3,109 268.4,117.3 267.8,102.8 241.4,125.2 268.8,112.9 253.5,108.2 268.8,101.7 241.9,109.7 254.3,123.4 243.5,106.4 250.7,126.6" fill="none" stroke="none" marker-start="url(#m50)" marker-mid="url(#m50)" marker-end="url(#m50)"/><polyline points="264.6,95.1 261.7,126.4 236.5,104.4 263.5,102.3 247.8,111.5 260.6,113.2 274.3,111.8 238.5,104.3 235.1,99.6 268.5,103 250.5,117.5" fill="none" stroke="none" marker-start="url(#m51)" marker-mid="url(#m51)" marker-end="url(#m51)"/><polyline points="278.6,95.4 270.8,93.9 269.4,96.5 275.5,95.7 270,97.9 270.4,93.4 268,96.1 276.2,97.4 278.9,93.5 277,92.7 275.5,93.2 272.1,94.8" fill="none" stroke="none" marker-start="url(#m52)" marker-mid="url(#m52)" marker-end="url(#m52)"/><polyline points="220.1,110 218.9,113.3 226.6,122.2 221.4,116.4 225.3,121.6 224.6,118.9 222.3,127.5 223.1,119.5 227.6,128.5 223.2,121.6 221.5,126.6 219.7,125.5 224.5,123.8 221.4,123.6 222.4,115.8 219.3,125.7 219.5,120 224,116.9 221.5,119 226.4,121.6 221.8,128.2 222.3,124.7 219.3,116.8 218.6,119.7 220.5,112.6 223.4,125.8 225.3,120.6 219.4,113.5 221.8,115.3 220.4,120.2 224.6,117.4 218.8,113.2 223.3,117.7 225.9,124 221.7,119.5 219.6,118.7 227.8,125.3 227.1,126.7 223.4,125 227,127.9 221.7,126.4 227.5,125.7 219.1,112.2 219.3,123.8 221.7,112.3 219.1,122 219.3,121.3 221.3,123.3 224.7,128.3 222.2,120.7 226.6,127.7 222.2,126.8 224.5,117.4 228.1,127.4 218.9,122.9 225.1,121.2 222.1,127.3 220.7,114.7 220.2,110.6 224.9,122.5" fill="none" stroke="none" marker-start="url(#m53)" marker-mid="url(#m53)" marker-end="url(#m53)"/><polyline points="65,314.9 68.6,315.9 65,309.1 52,302.1 66.8,316.8 58.9,306.3 67.5,310.2 60,307.4 65.4,312.4 59.9,305.5 70.9,313.3 59,307.6 58.2,300.9 72.1,316.4 76.4,316 71.1,308.9 62.2,312.3 68.7,316.9 72.2,309.8 64.8,316.9 51.9,305 59.8,300.8 55.9,308.8 70.9,318.2 60.9,315.4 63.2,309.9 67.2,305.9 65,307 65,305.5 57.6,302.7 70.5,316.1 78.3,317.1 61.6,303.8 68.1,318.1 63.5,306.5 60.4,313.1 72.3,317.3 71.2,310.9 73.7,317.6 72.9,316.4 64.8,310.8 65.2,313.8 60.6,301.8 75.5,317.8 72.6,317.7 55.5,306.2 64.2,308.2 61.5,301.1 61.2,301.8 77.5,312.1 65.3,315.5 62.6,314.2 79.3,316.4 65.6,313.8 62.8,308.6 82.7,315 60.8,301.5 61.4,314.2 60.3,309.3 72.7,314.6 66.1,314.6 58.6,311.1 70.1,311.7 72,317.7 69.4,309.7 61.1,306.9 65.6,313.9 66.2,314.3 59.5,302.8 63.1,306 68.4,315.3 78.7,314.3 69.9,310.1 70.7,314 51.8,301.8 68.4,315.7 64.3,311.2 70.3,308.7 62.4,315.2 70.8,307.6 70.9,308.8 76.4,310.9 65,316.7 70.2,316.7 56.9,303.8 64.8,311.3 70.9,316.4 69.4,318.2 65.5,314.6 64.5,313.9 59.2,303.3 62.8,305 66,312.5 74.8,313.3 62.7,317.4 83.7,317 68.3,317.3 70.1,318.1 71.9,316.3 65.1,312.2 67.7,314.8 56.3,302 69.7,318 67,309.9 66.8,314.9 54.8,301.3 73.2,316.9 63.4,308.2 61.9,312.9 62.7,304.1 68,317.7 63.2,315.8 67.5,310.2 69,317.4 58.6,310.3 68.3,304 50.1,301.2 69,317.1 60.5,307.6 51.9,304.3 77.5,315 73.2,306.8 73.8,317.5 62.4,310.3 61.7,307.9 73,315 65.4,316.3 73.7,311.9 59.2,304.6 70,314.3 55.9,306.7 63.7,307.1 63.5,307.7 49.1,302.4" fill="none" stroke="none" marker-start="url(#m54)" marker-mid="url(#m54)" marker-end="url(#m54)"/><polyline points="90.9,315.7 75.2,303.3 89.1,309.5 76.4,304.9 70.3,306.1 84.3,309.3 90.9,303 93,316 89.4,307.7 82.2,306.2 79.1,307.6 96.2,311.6 96.8,310.8 90.2,313.4 91.3,314.2 100.2,312 85.5,308.1 106.1,313 96.3,306.6 88.7,310.5 101,312.5 89.5,307.9 104.4,315.5 86.5,303.4 98.1,315.9 72.7,305.8 71.8,312.8 95,311.9 81.8,307.5 90.2,314.9 99.2,314.7 68.3,305.4 96.8,313.1 87.2,311.5 84.6,316.4 98.6,309.3 82.5,309.3 84.4,307.2 69,301.7 82.9,307.8 106.9,314.6 90.9,305.8 72.4,304.1 70.9,302.7 73,301.9 105.8,314.4 90.7,312 68.4,306.8 93.2,312.9 96.8,310.9 84.8,311.2 90.8,309.1 71.9,305.1 83.9,310.4 100.3,309.1 81,306.4 80.4,314.8 87.3,312 88.2,305.7 92.9,312.5 106.9,314.1 93.2,307.8 86.2,313.8 93.7,307.8 93.1,316.3 73.9,301.9 96.5,309.1 85.1,312.1 95.6,314.6 94.9,308 78.4,310.7 92.6,308.6 101.3,315 78,306.9 99.2,306.3 101.6,311 85.1,316.1 95.3,310.7 107.3,308.1 84.1,312.4 84.6,307 98,314.8 87.2,316 69.9,301.2 77.6,308.9 67.4,302.3 77.9,306.1 80.3,310.8 104.3,316.3 84.9,306.5 81.6,303.9 76.1,309.2 94,315.7 80.5,306.3 97.2,308.4 83.7,311.7 94.4,314.6 84.9,308.4 77.5,307.4 80,306.9 82,306.7 84.8,308.1 94.2,311.3 73.6,306.2 103,312 92,314.2 90.7,306.3 86.7,310.5 83.9,306.9 83.7,311.1 78.1,305.7 99,311.8 82.7,302.5 107,314.3 102.3,313.8 96.5,306.1 96.1,316.4 97.9,308.6 67,303.4 82.3,310.7 91.9,312.4 85,308.4 86.2,312.7 105.9,314 85.1,310 68.3,301.7 77.5,307.7 88.7,311.7 75.1,305.3 79.1,315.7 86.2,311 80.5,307.6 80.8,314.6 87.5,312.6 88.9,308.3 93.3,309.5 69.9,304.6 79.2,307.6 93.6,315.7 99.8,310.8 90.9,307.6 107.4,312 94.8,305.4 86.3,308.1 81.6,316.4 81.3,302.7 98.8,311.7 81.1,306.7 83,307.4 99.9,307.9 94.2,310.4 74.3,311.7 91,310.1 93.8,309.9 98.6,308.2 78.8,310.4 99.5,312.3 94.3,314.3 79,306.5 84.3,316.9 93.2,315.7 98.2,311.1 82.2,312.5 85.4,307.3 90,316.2 102.5,314.7 87.2,306.4 78.8,304.2 87.5,314.3 64.7,301.3 103.4,316.1 92.5,310.2 96,314.1 83.7,315.2 81.3,307.9 74.9,308.2 67.5,304.8 72.7,306.6 81.7,305 94.1,312.8 88.1,312 87.5,307.6 81.9,305.4 87.3,308 78.1,306.4 98.5,306.8 79.7,307.3 92.4,314.6 96.9,314.6 105.6,315.5 79.5,308.2 96.4,301.3 90.8,310.6 75.2,305.6 107.8,308.2 92.1,310.5 77.4,308 74.6,306.7 94.8,302.4 95.1,305.3 92.9,313.8 83.5,314.1 81.8,311.3 74.8,308.4 75.8,306 99.1,315.5 88.3,314.7 77.8,309 95.7,311.8 98.2,312.1 91.1,311.9 107.9,315.3 91.4,310.5 81.8,304.6 98.2,311.7 90.4,311.5 68.4,309.5 94.8,308.6 86.5,314.6 89.4,314.6 80.4,306.5 71.3,302 104.2,309.9 92.4,312.7 85.2,309.3 68.9,300.9 88.7,316.6 91.6,311.7 77,301.2 93.8,316 82.8,308.3 94.6,316 91.3,310.1 101.8,310.7 64.6,303.4 81.1,311.3 78.3,302.2 67.7,304 80.4,305.1 92.9,307.2 69,305.2 88.3,312.3 72.1,304.3 97.8,315.2 73.3,307.2 98.7,313.6 73.4,308.3 81.4,310 74.4,303.6 88.4,313.5 70.7,306.6 105,310 105.7,314.2 83.3,306.2 104.9,310.9 93.6,314.1 68.5,301.7" fill="none" stroke="none" marker-start="url(#m55)" marker-mid="url(#m55)" marker-end="url(#m55)"/><polyline points="154.4,314.1 160,305.8 147.8,304.5 154.6,302.7 124.9,310.1 153.3,313.7 165.8,302 165.1,310 114.9,305.1 161.2,301.1 146.3,308.3 132,309.4 121.4,309.2 156.9,312.3 115.9,305.2 131,305 165.4,307.5 129.4,302.3 163.3,310.5 144.5,306.6 149.8,307 148.7,310.3 161.3,305.7 165.7,306 150.5,303.6 135.3,305.2 115.2,305.9 139.6,314.4 124.6,302.3 139.8,310.8 143.1,312 141.9,312.5 143.3,302.6 159.9,315.6 140.5,305.5 161.3,314.5 127.2,308.5 164.7,314.1 157.7,303.9 151.9,313.1 149.5,311.2 138.5,311.1 133.5,313.2 153.2,302.2 146.2,301.5 158.6,307.9 127.9,312.4 137.6,310.7 140.8,307.5 125.4,308.1 165.6,307.7 127.5,303 127,309 121.8,303.4 142.1,309.9 166.8,308.9 117,301.2 146.6,312.9 134,311 138.4,306.4 117.9,305.5 141.6,310.6 152.6,305.6 140.4,309.2 117.2,313.4 114.8,301.5 134.9,307.6 149.4,306 166,314.1 159.8,304.5 162.5,306.4 151.1,305.3 123.1,306.7 141.2,307.3 155.6,312.5 147.3,312.6 114.8,307.5 131.4,315.4 113.2,308.7 137.8,311.6 132.5,302.6 118.3,307 143.9,308.3 125.8,308.3 138.7,301.4 160.8,307.1 132.7,312.5 154.9,303.3 138.9,307 128.6,312 154.3,307.3 119.2,303.3 124.4,306.2 165.4,305.8 144.2,311.1 114,301.1 150.8,308.4 152.9,310.2 142.7,308 145.5,315.4 162.6,302.7 140.4,306.8 147.3,306.7 138.1,305.8 159.6,308.6 116.7,301.7 147.5,305.3 132.7,305.2 144.4,310.3 154.5,307.3 120.3,308.4 139.1,309.8 149.8,303.2 134.2,302.6 133.9,306.8 152.7,304.4 153,314.8 139.6,313.4 138.4,309.8 129,304.1 124.2,308.9 129.8,305.3 139.9,311 156.3,310.2 155,305.7 121.5,303.5 136.1,313.8 161.8,312 122.7,307.4 154.6,309.5 134.8,310.2 139.7,310.3 145.6,309.7 125.3,311.1 123.6,314.7 124.8,308.9 124.4,300.9 156.2,310.4 135.5,307.2 164.2,311.5 132.7,303.4 122.6,301.6 138.4,305.2 124.9,301.1 155,315.5 120.4,305.1 119.5,306.2 149.4,311.4 165.4,303.5 146.5,306.7 162.4,310.5 160.2,311.2 146.5,312 122.2,305.8 164.2,302.2 163.7,314.5 140.8,310.4 161,301.1 114.6,303.1 123,305.9 147.5,311.2 131.1,312.7 119.6,301.6 152.8,311.1 129.4,309.6 155.7,306.5 135.5,312 166.2,303.3 146.5,308.3 141.2,309 146.2,302.5 129.9,315.1 148.3,313.4 110.6,312.6 147.2,309.4 164,305.4 157.6,313.3 142.7,307.5 138.9,308.6 126.1,308.7 147.7,313.1 140.5,311.3 150.8,306.2 162.8,309 124.1,303.6 133.8,308 122.6,309.4 145.6,307.1 141.5,310.3 164,302.7 159.9,314.5 136.3,311.5 133.7,309.7 133.1,305.2 159.3,307.9 166.4,308.3 144.3,312.9 127.2,301.1 149.1,311.7 143.2,307.1 123.9,305.5 158.5,312.5 129.6,308.2 156.8,305.3 162.8,311.2 125.9,306 115.4,306.2 121.6,307.5 160.1,306.7 126.7,308.8 150.9,311.8 158.8,310.2 142.2,309.9 161.2,303.9 130.8,314.9 123.1,306.6 147.4,306.5 126.8,301.9 166.1,310.8 132.4,315.7 153,305.1 140.7,308.2 112,310.4 137.2,307.7 146.3,311.3 116.7,307.6 152.1,312 162,308.9 134.6,308.4 117,301 132.7,302.8 127,302.4 148.2,301.9 155.2,307.4 156.9,311.4 125.7,310.2 142.4,303.3 158.7,314.6 133.9,309.8 110.4,300.9 132.9,311.7 163.4,306.6 146.8,313.9 160.9,305.9 129.7,313.8 147.7,311.7 166.4,308 152.4,303.3 138.4,307.7 119.2,307.2 151.6,301.8 147.6,312.1 153,305.6 121.1,310.4 116.8,307.8 157.3,306.7 110.9,306.8 161.8,308.6 159.7,302.5 152.9,314.8 147.4,311.2 140,313.1 163.6,307.9 160.9,312.9" fill="none" stroke="none" marker-start="url(#m56)" marker-mid="url(#m56)" marker-end="url(#m56)"/><polyline points="97.9,305.2 95.4,306.4 93.3,306.9 87.7,310 79.5,307 91,306.9 97,311.1 104.7,309.9 89.8,304.2 96.2,304.4 82.3,303.2 101.7,312.9 108.2,311.6 95.4,309.2 103.8,308.3 92,314.1 88.7,302.8 104.5,309.3 98.3,308.2 94,309.6 100,308.7 98.1,309.1 104.4,312.5 100,303.9 97.6,310.1 101.8,316.1 86.9,302.9 94,308.2 98.7,309.9 73.3,306.9 95.2,306.7 89.5,305.8 95.2,311.7 106,310 91.8,305 103.5,306.5 84.7,304.4 99,307 99,304.2 107.4,302.1 97.7,313.1 98.6,306.4 94.8,309.7 101.6,311.9 106.9,306.7 109.3,306.3 89.7,313.8 98.6,307 100.3,306.8 87.3,306.2 109.2,304.2 81.5,308.6 98.4,306.4 89.3,306.7 84.7,307.5 94.9,306.2 97.7,304.1 97,308.4 95.6,306.4 93.5,302.5 81,307 86.5,302.8 95.8,311.2 86.5,308.8 97.5,309.1 109.1,307.3 107,309.4 109.8,312.1 99.1,305.6 104.8,308.3 92.5,304.1 103.1,301.2 87.2,308.5 85.9,304.2 102.9,306.2 89,307.6 99.4,309.4 90.6,305.1 96.9,307.1 85.1,313.8 82.6,305.3 104.7,309.7 100.6,304.2 105.5,307.6 99.2,310.3 108.6,305.8 101.6,310.4 84,306.1 107.8,313 105.2,313.8 85,314.9 109.7,308.3 97.4,304.9 108.7,302.8 98.2,308.7 101.2,308.6 106.5,312.9 93.9,310.4 89.1,302.8 97.2,307.6 106.6,311.4 104,304.6 91.2,311.9 110,313.9 102.4,310.8 102.3,314.1 85.2,302.1 86.8,306 97.5,306.4 102.6,305.6 108.7,312.4 104.5,315.7 93.7,301.3 107.4,304.5 94.2,306.1 75.7,302.9 97.8,307.7 87.1,309.3 81.8,305.2 97.4,308.6 76.6,302 84.9,304.2 106.1,301.9 98.2,305.6 73.8,300.9 109.7,315.8" fill="none" stroke="none" marker-start="url(#m57)" marker-mid="url(#m57)" marker-end="url(#m57)"/><polyline points="73.7,310.7 81.5,310.2 65.9,308 76.1,307.9 69.4,302.6 71.6,316 74.7,307.5 51.3,303.4 67.4,314.3 90.9,310.9 88.3,306.5 76.6,315.8 77.2,316.8 79.1,317.5 74.6,315.6 82.5,311.4 74.2,315.1 65,301.3 66.2,307.4 68.9,304.9 86.5,314.6 66.4,304.6 67.7,308.2 66.9,306.8 68.1,312 85.5,315.5 66.5,309 75.9,307.9 74.5,316.6 62.8,302.2 76.8,309.9 66,305.1 71.1,307.8 81.4,307.8 82.8,316.3 67.6,306.9 74.4,313.7 74,312.3 74.2,312.3 69.7,313.9 85.9,316.8 79,306.7 73.5,310.5 70.8,305.4 84.4,316.4 67,302.6 69.8,309.6 85.7,309.1 77.9,310.1 97.1,315 89.5,311.8 67.4,310.4 67,305.9 66.9,303.5 82.7,310.4 65.2,306.8 63,306 72.7,306.9 94.8,312.2 63.7,305.2 107.4,313.6 72.6,318 79.3,308.6 68.1,309.4 83.6,310.3 83.7,313 84.2,314.8 69.3,306.5 67,306.7 63.2,308.3 78.4,309.2 75,307.7 83.4,313.9 81,315.8 70.1,311.4 79.4,308.4 89.2,314.9 74.4,314.5 69.5,303.9 66.2,308.2 68.3,312.8 87,315.6 74.5,302.8 82.9,310.7 76.3,316.7 93.7,307.9 80.1,316.4 61.2,302 78.1,308.1 83.9,316.9 74.5,313.4 71.5,311 84.6,309.1 81,305.7 71.3,310.4 68.3,315.8 69.1,305.1 69.4,308.7 74.1,314.3 82.2,311.2 94.9,312.1 78.7,308.4 86.2,309.8 92.6,313.2 83.9,316.1 80.3,307.9 63.6,302.3 79.3,313.5 64,307.4 80.6,315.8 71,315.2 75.4,305.5 68.8,304.9 73.5,308.6 81.8,314.4 75.2,317.4 65.9,302 76.7,307 63.8,304 65.4,303.7 74.5,303.8 82.6,317.2 71.3,308.4 74.2,306.9 62.6,304.7 92,311.5 75.2,312.1 76.5,307.8 71.3,305.2 97.4,310 80.3,307.3 70.8,311.8 85.2,310.7 64,303.5 82.4,315.6 93.2,314.7 74.5,307.8 92.9,311.2 76.4,313.3 67.4,310.1 85.3,316.2 92.7,316 70,305.4 74.1,303.4 84.2,313 89.2,314.3 68.1,305 88.2,312.1 67,305.5 65.5,310.6 81.5,315.9 78.9,309.5 87.6,312.8 78.3,314.4 98.5,314.9 68.2,306 72.8,308.7 76.3,314.3 72.6,309.1 96.9,314.1 65.2,301.6 94.3,311.7 88.9,314.2 88.2,311.1 67.7,313.1 82,310.8 68.4,304.7 78.8,316.3 96.3,316.3 63.1,302.5 61.3,310.9 60.2,301.3 82.7,312.1 64.8,306.2 74.1,310.4 62.4,311.1 66.6,302 86,315.9 72.2,305 83.8,309.9 90.1,316 73.3,305.9 79.5,311.5 83.7,309.6 67.7,313.2 81.5,316.5 73.9,317.1 65.7,302.9 61.1,301.1 79.7,313 80.8,309.8 75.8,312 78.5,309.7 77.4,314.9 87.1,314.7 69.2,312.4 88,316 64.1,303.9 82.6,313.7 92.6,316.5 63.5,306.8 61.5,301.6 66.2,307.6 68.2,304.9 69.1,312.5 68.1,317.3 83.2,313.2" fill="none" stroke="none" marker-start="url(#m58)" marker-mid="url(#m58)" marker-end="url(#m58)"/><polyline points="111.5,314.7 126.8,311.9 120.8,312.4 110.5,315.9 110.1,310.8 123.9,314 123.7,314.3" fill="none" stroke="none" marker-start="url(#m59)" marker-mid="url(#m59)" marker-end="url(#m59)"/><polyline points="134.6,315.8 115.1,310.7 164.3,314 147.5,314.3 113.8,310 120.7,309.7 145.8,314.4 133.4,307.7 122.6,315.1 124.4,316 128.4,313 123.7,308.4 157.8,315.4 133.2,308.6 163.8,314.2 131,314.9 111,314.8 119.4,307.8 116.1,312.4 112.4,315.4 156.6,314.3 133,306.1 157.9,309.4 113.6,312.3 161.6,313 117.4,307.8 151.9,313.8 127.4,308.9 114.6,307.8 159.7,307.6 133.2,315.5 158.4,312.3 119.3,307 167,314.1 116.4,312.3 163,312 118.3,307.9 159.1,315.3 110.9,305.4 131.2,315.4 127.2,315.7 118.5,313.9 127.5,309.3 121.3,312.6 121,316.1 133.9,305 146.2,311.2 124.2,314.6 112,308.1 115.7,314.2 166.4,313.4 149.6,308.7 119.4,315.4 165.5,310.3 135.9,315 124.1,315.8 133.1,313.3 154.2,313.2 140,314.8 150.4,314.6 162.3,310.9 110.2,315.4 133.3,311.1 150,313.1 155.6,312.4 137.2,313.4 129.6,314.2 115.1,307.1 129.1,310.9 137.5,312.4 112.2,309.3 152.7,315.2 120.7,312.4 159.4,308.5 150.7,310.3 115,312.2 126.4,312.8 121.2,312.3 139,307.8 114.8,315.6 162.9,308.8 112.8,305.2 165.6,314.9 121.5,314.2 121.8,313.2 145.2,314.1 112.4,315.4 126.3,308.1 134.8,313.7 146.9,315.4 121.2,315 139,312.2 131.5,306.5 152.2,313 112.7,315 112.6,303.4 125.6,310.1 136.1,315.2 165.5,308 122.7,309.7 143,314.1 138.2,312 120.9,312.2 165.6,309.6 110.8,306.3 160.8,313.8 121.7,308.9 150.7,315.2 154.3,315.5 120.2,315.2 158.2,311.6 129.3,315.9 118.1,314.8 128.2,315 150.2,315.1 139.3,308.5 115.2,315.9 111.2,313.3 113.1,312.1 119.6,312.3 117.7,307.6 152,311.9 111.8,305.1 149.1,313.2 159.3,309.4 127.7,316 126.5,315.7 137.9,313.6 130,305.4 154,310.3 112.4,306.5 110.3,310.7 115.6,312.8 116.7,313.6 133.1,313.8 124.3,311 142.5,307.9 141,312.9 159.3,314.1 120.3,309.2 165,312.1 118.7,312.5 147.6,310.7 125.8,315.1 149.7,308.1 143.2,315.4 134.2,307.1 110.2,308.1 151.6,306.6 146.9,310.1 161.7,314.8 131.7,315.3 113.7,311.5 133.8,306.8 141.5,313.7 148.7,311.2 128.8,315.4 130.6,306 126,307.8 113,307.6 139.4,310.4 136,310.6 131.5,315.2 131.2,309.1 114.2,312 148.8,309.8" fill="none" stroke="none" marker-start="url(#m60)" marker-mid="url(#m60)" marker-end="url(#m60)"/><polyline points="44.8,306.6 48.6,309.1 54.3,318.7 43.2,303.7 56.7,317.6 44.8,304 43.4,304.8 43.4,300.9 48,311.5 45.7,308.9 45.6,310.1 43.4,303.3 41.9,302.2 48.2,314.6 44.8,310 49.8,317.9 43.9,304.9 53.6,317.3 49.8,313.6 46.3,305.4 48,312.3 50.6,312.4 42.9,307.6 45.9,306.5 51.7,316.1 49.6,315.7 47.2,309.6 42.1,304.5 49.6,314.3 43.5,306.3 45.2,301.7 46.3,304.7 44.6,307.3 45.6,305.1 49.4,311.9 45.2,306 51.7,319.4 53.2,314.7 51.5,318.2 48.4,312.2 51.4,311.6 54,318 41.6,303.5 51.3,317.2 48.3,311.1 48.3,311.3 49,310.6 52.3,301.2 49.3,314.5 49,312.7 49,315.6 46.4,309.4 49.8,317.8 47.9,311.4 44.8,305.8 52.9,318.8 50.7,314.3 49.3,313.6 44.2,304.5 58.2,318.3 43.9,303.5 46.9,306.9 46.7,304.9 44.3,305.6 55.9,317.3 45.2,311.1 45.9,307.3 53.1,315.7 51.9,313.6 47.4,311.9 45.2,302.9 52.9,319.4 44,302.8" fill="none" stroke="none" marker-start="url(#m61)" marker-mid="url(#m61)" marker-end="url(#m61)"/><polyline points="60.2,317.5 53.1,313.6 55.5,302.4 50.8,310.9 51.8,308.2 51.1,307.4 53.4,308.2 52.4,306.3 49.4,310 54.2,313.2 48.4,300.9 47.8,305.6 56.9,318.3 57.2,317 57.3,315 58.3,315.4 53.9,312" fill="none" stroke="none" marker-start="url(#m62)" marker-mid="url(#m62)" marker-end="url(#m62)"/><polyline points="97.5,306 109.9,301.9 98.7,308.2 80.8,301.1 99.8,305.3 101.8,303.9 109.3,310.4 109,302.1 108.9,302.5 103,309.4 100.9,305.7 105.7,302.9 108.3,301.9 93.3,308" fill="none" stroke="none" marker-start="url(#m63)" marker-mid="url(#m63)" marker-end="url(#m63)"/><polyline points="120.7,302.2 145.1,308.4 150.5,305.2 157.9,308 110,304.1 146.6,307.9 166,308.4 131.2,309.5 117.8,307.3 114.1,303.6 148.1,306.2 152.3,310.8 157.8,311.7 157,305.8 114.6,301.5 152.8,310.2 128.7,305.3 128.3,306.8 124.3,313.9 122.4,309.8 130,309.3 159.2,314.9 152.2,302 130,308.3 148.2,307.3 145.8,309.2 126.6,308.8 158.8,303.6 147.2,306.3 110.5,302.5 149.3,301.6 149.9,308.5 150.3,307.9 150.8,306.5 143.9,303.6 158.9,308.1 159.4,309.8 158.5,305.5 166.5,303 155.8,314.8 143.8,304.8 145.3,303.4 135.4,307.5 161.8,305.2 152.8,307.3 111.7,304.4 119.7,303 159.9,305.4" fill="none" stroke="none" marker-start="url(#m64)" marker-mid="url(#m64)" marker-end="url(#m64)"/><polyline points="113.1,303.8 149,314.2 143.5,304.2 138.6,307.2 142.8,306.6 125,314.5 124.1,313.1 166.5,306.2 165.5,315.4 127.5,309.4 150.3,315.4 128,311.3 112.9,314 112.4,306.7 131.3,308.2 156.3,305.8 111.4,301.2 126.3,314.3 140.2,314.9 152,314.4 126.8,314.6 154,312.6 162.1,308.9 126.9,312.1 142.4,313.6 118,314.3 142.5,311.1 157.8,311.3 134.1,308.3 160.7,313.7 116.9,311.6 115.8,311.7 142.6,311.3 122.1,314.1 153.9,309.3 136.3,311 120.3,313.8 132.5,314.7 120.4,313.9" fill="none" stroke="none" marker-start="url(#m65)" marker-mid="url(#m65)" marker-end="url(#m65)"/><polyline points="46.4,310.1 43.5,316.6 42.4,314.3 46.7,318.8 45.4,314.8 46.6,319.4 46.1,317 42,305.9 42,310.4 47,316.3 43.9,315.3 44.2,313.6 43.7,312.9 44.3,311.5 51.5,318.9 43.1,311.9 40.9,310.9 41.4,311.3 41,311.7 43,315.2 41.8,312.5 46.4,318 42.2,315.1 44.6,309.9 45.2,318.1 45.4,318.4 49.1,319.6 46.4,320 42.7,310.1 42.6,311.9 44.2,316.1 43.1,310.2 51.5,317.8 44.3,309.8" fill="none" stroke="none" marker-start="url(#m66)" marker-mid="url(#m66)" marker-end="url(#m66)"/><polyline points="66.6,302 106,307.2 94.5,307.3 99.7,311.2 95.2,306.3 81.7,304.7 106.8,308.4 107.3,307.8 90.9,309.1 92.8,306.1 98.4,311 89.7,301.9 104,301 79.1,300.9 82.2,302.1 89.2,308.4 93,305.6 84.8,301.2 102.7,305.4 105.2,313.7 106.4,313.3 102,310.7 95.5,301.2 109.3,310.9" fill="none" stroke="none" marker-start="url(#m67)" marker-mid="url(#m67)" marker-end="url(#m67)"/><polyline points="42.9,305.8 45.2,307 47.9,316.2 43.8,312.2 44.4,312.3 48.5,312 44.4,307.3 46.2,313.7 53,317.8 41.8,308.3 46.5,310.9 48.3,316.2 51.6,318 40.8,302.9 46.8,315.6 42.7,303.8 51.4,319.9 48.2,315.4 41,305 48.8,316.8 43.9,309.7 42.9,308.1 41.2,304.2 41.2,304.9 46.8,318.1 42.5,313.3 48.4,318.1 46.2,312.3 42.1,302.6 44.9,314.6 49.3,318.6 48.8,318.8 50.7,316.3 48.1,313.6 41.7,305.3 48.2,315.6 44.8,311.3 44.2,309.2 44.3,312.3 47.6,316 50.4,315.9 40.7,311.2 42.4,304.9 50.3,316" fill="none" stroke="none" marker-start="url(#m68)" marker-mid="url(#m68)" marker-end="url(#m68)"/><polyline points="58.5,311.5 67.8,314.3 60,313.3 52.9,302.9 53.4,306 55.8,311.2 53.8,307 51.6,307.9 57.8,313.2 60.8,318.1 60.9,313.6 57.3,308.3 52.4,304.4 58.4,302.3 59,312.3 65.9,317.7 57.2,317.3 62.6,318.7 57.4,305.2 59.8,311.7 66.4,318.8 53.2,308.3 54.6,304.9 55.5,313.2 53.3,305.7 56.6,303.9 59.7,312.9 54.1,305.6 60.3,313.9 60.4,308.9 54.2,309.4 56.8,316.5 55.7,306.1 61,311.1 57.1,301.1 60.3,308.2 60.4,310.9 61.7,314.4 50.7,308.5 57.4,304.1 59.7,307.6 58.6,315.1 58.2,302.9 63.6,313.6 59.2,313 52.2,305.5 58.9,302 63.2,308.8 60.7,317.5 47.6,300.8 55.9,307.2 50.6,305.8 49,302.6 63.5,317 56.5,310.1 53.7,303.3 55.7,312 61.9,306.7 48.8,301.1 60.7,310.3 62.4,315.2 53.4,311 57,317 60.8,311.3 52.8,308.9 50.2,304.4 56.9,302.5 53.1,307.1 54.1,301.2 60.1,306.7 49.6,304.2 57.1,305.4 65.7,311.6 57.1,305.7 63.1,316.2 63.1,317.6 55.2,307.9 63.7,318.2 58,310.2 51,307.2 52.6,310.1 55.7,316.8 53.8,303.7 67.9,318.4 60.2,316.1 59.6,313.1 57.4,313.4 53.8,308.7 58.7,306.2 56.9,309.4 65.9,317.2 68.8,317 56.1,310.3 49,304 63.4,311.9 53.3,302.8 48.6,304.8 57.5,316.7 48.8,302.4 49.3,305 64.5,317.6 51.6,304.9 57.1,309.6 50.1,304.3 63.8,314.3 53.2,304 56.9,312.1 62.2,314.4 52.1,303.4 51.3,306.5 51.3,301.1 56.6,303.3 58.4,316.5 49.4,303.1 54.7,304.9" fill="none" stroke="none" marker-start="url(#m69)" marker-mid="url(#m69)" marker-end="url(#m69)"/><polyline points="65.8,313.6 62.2,301.8 60.3,306.1 67,311.9 61.8,309.9 72.2,317.5 52.6,301 70.2,306.9 49.6,304.3 55.4,311.7 57.2,305.2 65.7,314.7 72.4,315.1 71.3,315.5 63.9,310.2 65.7,315.2 58,308.2 66,312.5 67.5,314.5 64.1,307.4 65.6,306.3 64.8,313.2 61,306.9 65.8,308.3 66.1,311.9" fill="none" stroke="none" marker-start="url(#m70)" marker-mid="url(#m70)" marker-end="url(#m70)"/><polyline points="42.1,315.8 42.6,318.5 44.2,314.3 42.2,317.3 44,317.3 41.1,315 46.2,317.6 41.6,317.2 43.6,320 44.9,316.2 42.4,316.3 42.6,315.7 42.9,316.2 44.1,315.3 40.7,314.2 42,319.8 41.2,314.6 42.1,312.6 41.7,314.1 41.9,311.7 44.2,319.3 44.3,318.2 46,319.5 43.1,310.8 41.4,316.2 41.2,314 42.7,318.6 43.2,318.5 43.9,318.7 41,313.4 44.6,315.6 40.9,310.2 40.7,315.3 43.5,313.3" fill="none" stroke="none" marker-start="url(#m71)" marker-mid="url(#m71)" marker-end="url(#m71)"/><polyline points="124.7,312.9 156.5,314.2 130.4,314.7 130.9,305.6 154.9,315.3 131.3,312.4 130.7,314.8 116,310.3 111.1,313.1 114.6,313.6 115.5,311.2 122.7,314.9 128.8,315.8 112.8,315.2 110.5,309.9 160.8,314.3 121,315.7 115.6,308.1 112.2,313.2 112.9,306.7 116.2,315.8" fill="none" stroke="none" marker-start="url(#m72)" marker-mid="url(#m72)" marker-end="url(#m72)"/><polyline points="50.8,315.5 46.8,306.1 50.4,318.7 49.5,315.5 44.8,305.3 48,314.2 42.4,302.7 45.3,306 42.2,306.3 47.3,313.8 56.6,319.6 50.8,315.8 51.7,312.5 49.3,316.4 43.1,302.9 42.9,305.2" fill="none" stroke="none" marker-start="url(#m73)" marker-mid="url(#m73)" marker-end="url(#m73)"/><polyline points="47.6,303.4 52,307.2 56.5,319 52.9,319.7 49.3,313.2 54.2,317.5 50.1,309 54.3,314.1 51.2,313.2 57.8,317.6 52.6,311.6 56,317.6 53.6,311.2 58.7,314.8 50.8,306.7 53.5,313.5 45.5,302.3 46.2,307.3 54.5,312 57.2,313 56.7,313.5 57.6,307.7 52.3,314.1 51.3,309 53.3,311 52.5,313.5 71.9,317.5 53.3,314.7 54,314.4 54.7,313.5 53.8,308.9 52.2,312.5 48.6,304.6 46.6,302.4 53.7,305.8 47.3,303.6 55.5,304.3 54.6,315.2 55.2,318.9 53.3,316.5 58.5,314.3 56.3,317.7 55.8,315.8 46.1,303 52,309.9 49.8,308.6 58.7,310.1 52.4,304.6 57.5,313 47.7,302.4 50.2,307.6 56.1,311.7 54,305 58.3,317 53.8,309.2 54.9,307 54.8,313.5 54.7,316.4 59.2,318.6 47,311.3 52.8,311.1 56.9,316.9 46,303.5 54.6,318.9 53.5,315.8 47.4,307 42.8,301.8 53.4,315.6 51.7,310.5 53.3,309.5 56.4,311.6 55.1,319.4 52.4,305.6 52.4,306.9 51,314.1 55.9,314.2 46.3,304.8 48.1,302 48.7,311.9 55.5,307.7 49.8,308.2 58.7,315.2 55.4,312.3 56.3,315.8 59.1,317 56.4,312.2 52.7,302.5 56.3,316.3 47.8,304.5 48.9,311.6 56.6,317.2 52.5,314.7 58.4,319.1 52.1,309.3 49.5,304.5 56.9,311.2 42.7,300.9 51.8,310.4 52.7,303.3 55.7,317.9" fill="none" stroke="none" marker-start="url(#m74)" marker-mid="url(#m74)" marker-end="url(#m74)"/><polyline points="43.6,313.1 45.6,313.5 45.3,311.1 50.7,316.3 40.9,306.6 51.6,319.8 42.2,307 41.1,300.8 50.1,315.7 47.6,316.5 41.9,305.3 49,316.1 44.6,307.9 46.8,311.8 42.5,307.1 51.5,318 41.9,302.9" fill="none" stroke="none" marker-start="url(#m75)" marker-mid="url(#m75)" marker-end="url(#m75)"/><polyline points="44.2,315.7 43.1,316.5 46.1,315.5 44.7,317.1 43.9,311.1 42,315 45.5,317.4 45.7,312.9" fill="none" stroke="none" marker-start="url(#m76)" marker-mid="url(#m76)" marker-end="url(#m76)"/><polyline points="73.6,310.2 81.4,312.3 83.7,315.7 63.5,301.3 82.6,312.7 82.3,316.9 84.1,307.4 81.9,315.9 64.9,309 65.5,311.3 84.8,312.9 70.3,312 71.3,308.1 78.7,312.7 76.1,312.3 76.6,316.8 72.9,306.8 75.2,314.9 70.1,316 75,306.1 82.1,315.9 70.1,310.3 65.8,311.1 64.3,305.9 69.2,305.4 86.5,313.4 86,315.7" fill="none" stroke="none" marker-start="url(#m77)" marker-mid="url(#m77)" marker-end="url(#m77)"/><polyline points="41.2,319.7 41,318.9 40.6,317.4 41.4,316.7 41.9,319.8 40.6,318.3" fill="none" stroke="none" marker-start="url(#m78)" marker-mid="url(#m78)" marker-end="url(#m78)"/><polyline points="97.8,312.6 87,307.8 71.5,307.4 84.5,308.2 88.8,312.2 80.3,314.2 92.9,314.6 75,306.7 79.7,312.3 92.8,309.3 80.1,308 92.1,307.7 75.7,306 85.2,311.2 94,313 85.3,309.3 73,305.4 69,302.5 83.6,304.6 88,307.6 98.1,306.8 79.2,310 77.5,310.1 95.4,315.9 106.8,307.9 99.3,305.2 82.3,303.6 106.1,314.7 75.9,314 74.2,306.1 89.2,304.6 78.8,308.8 78.6,306.7 106,312.6 75.1,312.1 86,311.9 77.9,305.8 101,313.5 85.6,307.4 62.4,303.3 77,308.1 76.3,308.7 97.8,310.7 97,311.7 90.8,309.2 77.2,306.4" fill="none" stroke="none" marker-start="url(#m79)" marker-mid="url(#m79)" marker-end="url(#m79)"/><polyline points="43.3,316.2 42.3,318.9 43.3,317.4" fill="none" stroke="none" marker-start="url(#m80)" marker-mid="url(#m80)" marker-end="url(#m80)"/><polyline points="46.4,301.9 48,306.6 47.9,303.3 60,307.7 58.3,308.9 58,311.1 55.3,308.9 57.3,313.8 56.9,304.4 57.5,307.5 70.6,318.4 48.8,306.4 59.6,319.2 58.7,311.1 64.8,317.7 59.5,309 54.9,314.6 62.2,315.6 61.5,318.2 63.2,312 54.3,302.3 49.5,303.5 46.6,301.3" fill="none" stroke="none" marker-start="url(#m81)" marker-mid="url(#m81)" marker-end="url(#m81)"/><polyline points="96.7,301 109.4,306.3 94.6,306" fill="none" stroke="none" marker-start="url(#m82)" marker-mid="url(#m82)" marker-end="url(#m82)"/><polyline points="117.5,315.5 117.5,315.5" fill="none" stroke="none" marker-start="url(#m83)" marker-mid="url(#m83)" marker-end="url(#m83)"/><polyline points="42,316.6 42,316.6" fill="none" stroke="none" marker-start="url(#m84)" marker-mid="url(#m84)" marker-end="url(#m84)"/><polyline points="50.1,274.1 44.6,293.2 47.6,292.1 42.2,268.3 48.4,272.1 42.5,275.5 44.8,289.3 50.9,294.7 43.4,293.6 44.2,277 42.9,291 43.3,280.4 47.1,267.3 42.1,283.1 44,274.3 54.3,284.8 49.7,291.2 46.3,278.7" fill="none" stroke="none" marker-start="url(#m85)" marker-mid="url(#m85)" marker-end="url(#m85)"/><polyline points="45.3,289 48.9,284 42,269.5 41.6,289 46.3,277.9 45.2,292 45.2,275.1 47.2,292.7 45.5,266.8 42.4,276.1 48.3,268.6 51.2,277.7 42.3,297.4 43.2,269.5 43.9,286.9 44.8,293.7 47.4,280.7 43.8,299.7 47.3,271.1 47.5,293.1 56.5,281.8 42.4,279.7 46.7,264 43.6,285.6 40.8,275.3 53.2,286.5 41.4,285.8 47.1,283.6 41.1,266.1 44.9,296.3 51.1,293.4 43.5,267.1 41.8,278.2 42,292.3 47,287.9 46.5,279.7 43,276.5 41.2,287.1 45.7,289 49.8,277.1 43,274.8 44.5,285.3 41.3,281.2 44,297.7 57.3,279.7 47.1,283.5 48.1,268.2 45.4,290.1 44,292.6 40.9,297.4 44.2,276.3 42.1,297.7 48.7,286.1 42.6,282.7 49.1,299 41.7,270.3 49.5,274.2 54.8,291.5 40.7,265 46.3,286.5 41.2,290.3 45.9,291.3 40.7,280.9 52.5,281.9 44.4,284.8 47.8,269.4 55.6,296 43.1,282.2 49.3,278.4 41.7,287.3 50.7,278.6 45.7,283.8 44.7,271.2 54.8,292.4 52.7,270 52.8,289.2 44.3,270.9 40.8,282 57.8,278.2 58.6,297.2 49.6,278.1 48.2,289.3 48,271.6 46.6,270.4 41.8,296.4 52,289.3 42.5,270.9 41.5,284.3 49.4,285.6 41.1,271.9 47.5,269 52.1,281.2 41.1,296.2 49.3,298.7 47.1,285 57.3,286.4 47.6,286.3 43.8,298.5 46.6,278.2 41.1,296.2 49.2,297.9 45.6,268.1 41.6,278.8 46.2,287.7 41.8,299.5 45.7,281.3 43.6,299.8 53,272.4 48.1,293.9 53.2,268.7 41.8,264.9 44.5,285.1" fill="none" stroke="none" marker-start="url(#m86)" marker-mid="url(#m86)" marker-end="url(#m86)"/><polyline points="47.1,185 46.6,190.2 48.2,244 53.9,249.3 103.9,256.8 51.2,264.1 68.7,264.5 80,264.1 65.3,274.3 67.1,280 55,277.7 58.5,283.4 60.7,284.5 59.6,286.8 67.5,286.8 66.4,289 68.7,291.4 72.1,293 59.6,293.6 44,283 50,272" fill="none" stroke="none" marker-start="url(#m87)" marker-mid="url(#m87)" marker-end="url(#m87)"/><polyline points="50.5,190.2 53.9,190.9 43.7,198.2 48.2,200 51.6,201.6 46,207.3 48.9,211.8 43.7,224.3 46,227.7 56.6,222 40.7,234.5 40.7,247 47.5,255 51.2,254.5 54.4,253.9" fill="none" stroke="none" marker-start="url(#m88)" marker-mid="url(#m88)" marker-end="url(#m88)"/><polyline points="292.6,281 294.6,277.6 315.2,268.1 303.2,253.6 297.2,285 302.1,286.5 307.8,285.1 337.5,280.5 328.9,254.2 324.4,277.1 306.8,265.7 295,279.7 307.5,279 294.4,265.2 290.6,260.6 292.6,263.7 297.7,281 338.5,255.1 316.2,280.7 296.1,266.7 285.2,266.9 288.9,265.9 301.8,258.7 287.5,287.3 334.8,272.1 334.6,270 295.3,263.3 335.8,260.4 289.9,259 302.2,283.8 297,270 325.4,279.5 322,282.1 312.7,275.7 304.3,255.2 333,266.9 290.4,270.5 332.5,269.5 304.9,277.8 286.8,288.6 293.9,287.5 326.4,261.7 329.6,257.4 316.9,261.2 286.5,269.8 300.9,272.8 334.6,270 291,265.3 330.5,251.9 308.4,285.3 316.2,257 286.8,286.2 300.7,284.8 341,266.6 324.4,267.2 296.9,260.8 334.1,252.8 316.4,262.1 294.4,263.5 294.7,273.8 300.6,267.2 288.8,272 288.7,269.4 321.3,270.7 290.6,260.9 325.1,284 313.9,253.7 287.5,269.9 316,282 316.4,280.8 290.8,285.6 301.8,276.8 285.7,285.8 307.2,261.3 298.3,263.9 316.4,275.7 327.2,266.7 332.8,275.8 287.4,259.8 288.1,279.6 323.9,257.3 304.8,266.2 293.2,265.2 286.7,268.8 309.6,256.5 295.4,270.7 304.4,267.2 287.4,280.1 330.6,271.3 332.4,264.5 296.2,282.5 297.8,280.2 308.4,269.5 299.7,262.8 315.5,281.6 292.6,283.7 311.6,275.3 290.2,282.3 339.5,260.9 292.5,277.6 304.8,265.5 311.4,256.9 313,253.6 338,261.9 294.6,283.5 314.8,271 333.2,263.5 293.3,274.9 326.6,275.8 289.2,273.9 323.2,271.1 294.8,261.6 308.8,266.3 310,284.6 320.8,274.1 296.9,272.8 290.7,256.6 306.5,258.3 295.5,283.2 307.6,283.5 312.7,259.3 305.9,262.6 298.1,274.5 288.5,283.4 293,277.2 298.9,269.7 287.9,271.4 308.7,260.5 309,261.8 324.5,282.8 302.2,279.6 295.1,272.2 324,255.3 289.5,284.8 300.5,282 294.1,274.1 323.8,270.7 295.5,261.9 337,260 310.4,274.7 302.3,255.9 335.7,259.2 323.1,259.1 290.9,288.2 333.7,251.2 310.4,277.7 286.6,279.2 286.2,285 293.7,277.5 321.8,256.6 300.6,281.5 292.6,264.3 325.3,253.6 300.8,260.8 310.7,281.4 289.5,283.2 312.8,271.3 289,278.2 299.2,264.3 340.2,258.2 288.5,263.9 301.6,255.9 298.8,268.2 330.5,263.4 304.4,261.2 318.4,280.3 336.6,266.7 325.2,282.2 308.5,284.7 288.5,288.2 293.9,282 312.9,267.3 297.8,277.4 288.7,276.4 299.8,287.1 324.6,254.6 313.4,282.4 293.5,285 332.7,273.4 298.7,281.5 310.7,255.3 303.5,255.4 332.5,262.8 288,257.4 286.1,278.5 306.9,265.8 319.8,279.8 296.1,258.4 298.4,285.2 293.4,276.6 312,269.4 300.6,269.1 328.3,283.2 319.1,254.6 288.7,281.9 290.2,277.1 309.1,280.2 332.3,268.5 298.5,254.1 295.1,255.1 328.3,266.2 332.4,279.9 312.4,267.6 289.4,260.9 320.7,276.5 316.1,259.9 296.5,254.8 289.1,285.5 288.6,259.8 328.1,253.5 289.3,272.9 294.2,282.2 309.6,263.4 333.6,272.5 312,272.6 301.8,261.4 287.5,268.7 326.3,271.2 318.3,281.9 300,264.5" fill="none" stroke="none" marker-start="url(#m89)" marker-mid="url(#m89)" marker-end="url(#m89)"/><polyline points="243.3,270 277,282.2 247.5,268.9 274.5,276.4 280.3,258.1 251.4,273.5 241.3,281.2 264.6,290.8 257.8,264.1 244.1,289.7 275.5,277.9 268.8,276.5 281.8,260.9 269.6,268.4 282.2,274.5 277.8,284.3 266.2,277.6 265.1,271.6 261.9,278.4 271,279.9 264.4,272.6 256.7,283.5 263.6,284.6 272.1,276.4 272.1,286.1 254.6,281.1 269.9,290.7 245.8,265.1 282.1,279.8 277.1,285 274,275.5 278.9,267.1 273.1,286.6 236.1,277.5 281.7,288.7 259.4,290.8 277.4,259.4 260.8,263.8 240.1,288.2 253.2,284.6 270.5,290 258.2,290.2 233.2,294.7 245.9,282.7 284,281.6 249.7,287.5 247,277.2 262,282.4 284.3,283.8 263.8,287.5 264,287.7 253,270.6 266.9,272.7 284.4,258.5 265.7,269.1 256.2,280.2 275.2,285.3 273.8,288.2 275.8,269.3 246.8,270.8 274.3,265.5 247.6,280.6 262.7,260.8 271.4,289.5 258.8,267 254.9,290 264.8,262.4 277.5,258.8 252.4,290.2 283.8,261.9 255.1,282 280.6,257.2 272,274.2 264.4,264.4 273.1,280.6 254.4,266.8 265.8,283.1" fill="none" stroke="none" marker-start="url(#m90)" marker-mid="url(#m90)" marker-end="url(#m90)"/><polyline points="235.2,293.3 243.2,286.9 255,290.6 266.6,283.7 237.2,281.4 236.9,290.7 266.6,283.7 239,277.3 232.4,289.9 240.9,294.1 251.6,288.5 236.9,277.2 258.2,267.2 282.1,265.2 257.5,271.3 245.8,278.3 250.7,278.5 248.6,284.6 234.1,272.5 237,279.7 238.9,290.2 237.9,290.9 234.8,287.4 243.4,283 238.3,282.4 258.9,268 248.4,287.3 228.7,278 259,282.4 246.7,288.8 254.8,268.6 235.3,271.2 243.8,270.9 232.8,287.4 234.7,269.5 251.2,265.2 232.1,284.9 231.5,287.4 243.6,267.2 249.9,278.7 243.9,270.9 269.9,277.3 263,264.6 241.1,292.9 230.7,269.1 231.5,270 248.6,280.6 235.8,280 242,285.9 236.3,294.4 228.8,276.3 238.7,276.9 231,284.3 243.4,283.6 253,274.2 230.6,291 264.2,279.4 236,284.9 249.9,292.3 263.1,288.7 242.7,275.8 260.4,278.7 235.1,277.9 246.2,287.5 262.5,274.9 250,264.1 259.6,267 241.6,289.1 232.2,268.9 261.4,264.7 249.7,284.9 249.2,268.7 279.3,280.5 232.8,270.6 227.7,280.7 249.9,281.7 240.5,279 232.2,280.6 233.6,279.2 265.2,260.2 262.8,288.7 246.9,275.8 241.1,280 242.3,275.4 252,268.2 233.4,270.8 236.4,288.6 230.4,291.3 235.9,267 241,286.6 239.8,273 233.4,279.4 256.9,272 250.7,278.5 246,292.5 248.1,279 263.7,280.6 255.6,265.8 245.4,283.3 271.9,286.5 244.7,283.3 278.8,265.2 240.5,293.6 252,292.3 237.7,276.4 234.2,291 250.1,285.3 235.1,272.1 235.4,271.5 270.7,265.6 238.7,294.7 250.6,275.2 242.2,278.4 227.4,272.2 239.6,287.8 231.4,289.9 255.6,276.3 255.1,278.9 265.4,283.9 261,268.8 264.9,267.9 241.3,285 240.6,268.1 229.7,280.9 248.4,269.3 234.8,284.2 240.6,279.2 236.3,291.1 268.2,261 238.1,289 238,281.9 236.2,275.6 270.5,284.5 238,267.7 242,276.2 264.3,271 261.2,286.6 250.8,265.7 232.3,286.5 265.3,271.3 232.4,285.5 240.5,280.6 238.6,278.1 244.2,289.6 236.7,293.1 254.8,290 251,270.7 241.4,290.2 233.8,295.1 240.2,270.2 246.7,272.5 236.3,278.7 241.1,293.8 254,280.4 250.8,265.8 243.3,288.1 245.9,275.7 265.9,290.5 228.5,270.9 250.9,264.6 238.6,278.5 248,271 238.6,277.4 246.6,285 230.1,273.8 245.8,290.5 242.8,270.4 241,289.7 247.1,274.4 274.2,282.1 236.6,281.2 234.8,272.7 240.5,277.4 246.5,271.1 242.2,292 250.7,273.1 237.8,274.3 242.7,267.2 267.6,290.4 246.6,283.4 264.1,280.5 257.3,278.5 245.4,280.5 258,265.8 250.9,292.1 243.5,287.8 255.3,269.7 249,286.1 249.3,273.4 244.5,277.2 241,275.2 240.7,277.8 254,287.7 233.6,287.5 231.5,284.8 227.4,272.4 233.4,275.1 234.5,276.8 267.8,290.3 244.6,265.8 234.6,271.1 245,276.3 230.6,277.6 229.7,288.6 247.4,289.6 255.5,264.3 243.2,275.2 239.2,283.2 235,269.4" fill="none" stroke="none" marker-start="url(#m91)" marker-mid="url(#m91)" marker-end="url(#m91)"/><polyline points="264.7,261.9 273.5,286.3 265.4,274.5 272.6,266 254.4,277.9 269.4,268.1 280.2,266.4 268.3,275.2 250.6,280.2 237.7,278.6 274.6,287.6 274.8,288.4 237.1,291.9 270.3,281.1 248.6,283.9 254.9,285.5 264,265.4 281.2,264.4 257.1,265.6 248.3,264.3 259.5,285.1 267.8,281.7 266.5,263.4 248.8,289.7 279.9,277.3 256.6,283.6 257.7,279.2 246.5,264.7 254.1,267.6 280.6,273.8 266.7,270.8 265.1,268 274.7,265.7 271.5,285.7 283.9,260 262.5,260.6 272.4,261.8 252.6,289.3 254.6,266.1 250.8,269.7 259.4,267.7 262.2,268.3 272.6,261.9 243.8,286.8 266.8,267.2 283.6,269.5 284.6,286.9 250.4,278.8 262.6,269.3 274.9,263.3 266.7,278.7 274.3,264.6 283.4,281.5 268.7,284.1 259.9,279.6 265.2,288.8 259.2,281.1 267.5,276.9 248.3,283.9 257,264.3 281.5,279.7 245.1,271.6 283.2,279.3 242.3,285.3 258.1,274.1 264.1,265.5 280.2,272.8 271,284.7 235.5,286.2 279,282 255.9,262.8 273.9,282.2 256.3,280.8 254.5,284 241,275.9 262.4,263.2 239.6,294.3 251.3,268.9 264.9,266.1 275.9,279.8 282.6,260.4 268.5,267.7 257.5,290.5 284.8,284.7 279,265.8 271.1,288.3 279.4,272.6 277.1,287.7 273.9,287.8 262,277.9 244.1,265.2 281.1,267.2 257.2,288.7 283.8,257.1 280.2,281.1 281,280.9 267.6,266.5 273.4,269.9 274.9,267.9 279.1,262.1 274.1,259 243.7,288.6 246.6,271.2 263.5,278.6 247.4,273.4 273.9,267 277.4,286.1 263,268 259,279.2 276,287.9 264.1,273.7 279.3,268.6 259.5,290.5 282.1,285.3 262.1,266.9 264.4,281.9 264.9,284.4 257.3,291.7 272.5,266 237,282.7 266.4,283.5 272.5,266.7 252.3,287.5 282.6,272.1 249.9,281.2 249,267 277.9,260.7 268.2,283.4 277.3,271.3 241.9,282.1 273.6,285.5 252.6,269.3 284.3,281.9 260.2,280.6 248.9,267.5 280.1,276.1 264.1,281.5 277.4,268.7 249.3,265.2 246.5,286 271.9,286.1 268,272.5 256.8,274.4 281.6,271.2 251.5,276.3 257.7,281.2 280.7,273.7 281.1,258.9 280,279.9 262.6,281.1 262.5,272.3 283.4,264.4 260.1,273.6 273.7,275.3 284.7,271.8 247.1,283 284.8,283.8 278.1,282.9 247.3,271.9 239,283.7 277,278.4 245.2,280.1 263.2,290.3 245.7,269.4 260.4,274.9 277.1,277 262.8,265.2 271.2,279.3 256.2,269.4 252.6,274.2 256.3,264.7 282.6,283.5 272.1,281.1 270.3,270 277.2,259.5 239.8,291.9 277.3,274.7 253.5,280.7 260.5,284.4 276.5,277.4 246.2,267.1 281.7,270.1 240,267.5 263.4,278.5 268,274.1 263.5,285.4 235.2,269 256.5,292.4 269.9,261.6 256,285.2 245.2,271.9 255.9,282.9 257.5,282.9 265,290.6 274.1,274.6 244.3,288.9 274.4,263.5 275.1,268.8 264.7,290.7 279.6,273.8 275.2,283.7 275.7,263.4 266,289.4 281.5,266.9 260.8,291.8 270.6,260.4 258.3,264.7 265.5,272.3 275.3,284.9 282.1,271.7 278.1,265.7 242.9,265.1 263.5,289.4 248.5,271.7 246.1,269.2 284,269.3 279.1,268 267.4,272.1 277.5,282.9 273.6,265.5 264.6,290.2 271.6,286.8 256.6,288.8 284.9,276.2 264.9,281.9 268.9,287.5 272.3,280.5 244,273.6 251.2,264.8 259.2,279.8 281.8,259.1 262.5,266.2 240.4,291.6 283.6,267.9 277.8,261 255.9,290.1 270,268.1 281,262.5 276.5,276.7 258,283.9 272.1,282.1 271.1,286.7 246.8,286.8 254.6,263.4 277.9,259.6 284.9,286.4 260.1,265.9 277.3,271 265.9,278.4 242.1,274.3 254.1,265 257.7,266.1 264.9,290.1 252.4,278 275.7,264.1 261.4,266.6 236.5,284.8 284.7,268.1 280.6,279.6 269.8,273.3 272.9,280.1 242.1,280.8 269.7,272.2 270.9,273.5 270.6,279.6 244.2,289.7 243.9,292.8 252.1,284.5 255.1,280.3 270.6,280.3 282.6,263.5 244.3,266.5 249.9,286.9 271,269.2 274.2,271.7 258.3,263.8 269.1,259.9 267.8,288.4 243.5,278.4 237.4,286.4 267.7,289 264.7,272.9 241.5,269.2 260.6,269.4 270,287.6 275,267.2 258.2,285.3 284.2,266.4 257,270.1 249.2,273.7 257.9,283 257.6,276 280.7,260.3 246.2,282.3 273.7,285.1 245.6,279.8 246,281.7 269.5,267.1 259.9,275.9 256.7,288.2 284,284.3 242.5,273.8 239.1,291.4 280.7,276.3 256.8,269.3 283,256.6 250.3,281.7 283.1,279.6 253.3,277.3 267.1,274.4 265.5,262.6 277.9,282.4 257.1,261.7 248.2,277.3 239,270.6 248.8,270.4 269.8,270 245.6,274 236.5,278.1 254.4,281.1 244.1,274.3 248.5,282.5 261.3,274.7 282.1,289.3 266.7,283.4 245.8,264.6 271.4,266.8 271,279.2 255.9,270.2 274.9,283.5 275.3,280.2 261,276.1 269.1,290.4 239.2,293.5 273.5,258.8 273.9,289.9 264.9,287.7 253.3,283.9 266.6,289.9 250,283.4 262,278.3 245.9,273.6 242.9,287.4 263,291.6 235.2,290 236.9,272.8 241,277.6 240.5,275.4 244.7,271 258.3,272.2 255.7,271.2 248.5,290.5 268.5,261 257,283.4 259.6,272 285,274.3 242.8,292.6 278.7,260.1 268.8,262.2 255.4,262.8 255.4,284.2 261.2,277.8" fill="none" stroke="none" marker-start="url(#m92)" marker-mid="url(#m92)" marker-end="url(#m92)"/><polyline points="305,257.9 338,256.4 335.7,278.7 310.5,273.2 315.2,275.4 331.3,277.2 312.4,262.6 292.6,283.5 304.7,259.6 292.8,275.9 337,259.9 341.7,264.7 311.5,259.9 316.2,280.9 328.5,275 315.1,278.4 319.3,266.3 298.8,281 285.2,256.9 331.2,274.1 323.3,281.9 334.7,282.5 290.4,273.5 315,280.6 336.9,255.7 296.5,269.9 331.3,260.4 297.6,287.2 334.5,271.2 307.2,286.3 340.4,261.4 315.6,257.9 323.5,280.3 317.8,277.2 341.1,268.1 338.7,262 331.1,251 289.1,285.6 316.9,255.3 304.2,267.6 340.4,266 289.4,262.3 332.9,260 321.9,280.5 324.4,280.6 327.4,283.9 335.9,275.8 325,272.8 295.4,283.7 321.1,277.5 306.1,268.3 300.4,256.3 332.1,266.3 318.2,272.6 307.7,259.5 337.9,262.3 329.6,278.5 322.7,265 291,286.6 292.8,277 329.4,277.4 340.1,271.1 313.6,264.6 302.1,264.5 289.3,284.6 301.7,286.3 324.5,278.9 307.8,281.2 287.8,270.6 309.6,255.6 340.4,265.9 308.7,278.7 290.1,265 318.4,256.4 286.1,265.8 330.8,256.1 302.7,256 311.9,263.1 289.9,269.3 334.6,260 303.7,273.7 291,255.9 310.8,280.5 318.3,255.8 330.1,276.2 322.1,277.4 302.1,267.2 302,277.7 303.2,272.4 286.3,287.1 321,275.6 296.4,257.8 287.8,272.9 333.3,257.1 314,263 325.3,281.9 335.7,277.9 319.5,282.8 332,283.8 316.8,259.5 286.7,264.6 293,265.6 338.7,276.4 322.9,259.7 288.1,256.4 328.3,281.8 335,251.1 308.2,274.8 324.2,259.6 331.3,250.8 317.1,259 327.9,266.4 329.4,252.3 323.3,263.9 333,264.8 301.6,272.5 319.8,257.4 329.7,270.5 341.3,262.1 302.1,265.2 327.3,260.4 291.5,279.9 302.7,284.8 339.9,276.5 333.9,257.6 333.1,268.9 339.7,250.2 326.7,260.2 340.6,271.6 297.2,262.2 331.8,256.4 336.2,267.4 298.1,282.5 317.6,280.1 315.3,253.5 294.6,256.1 316.4,257.5 309.8,269 301.5,274.3 294,278.6 332.2,266 320.1,253.2 300.7,271.5 308.8,256 319.4,253.9 335.9,275 319.3,254 292.7,261.2 336.8,259.6 292.5,276.7 313.5,254.3 334,277.2 319.4,259.8 323.8,278.4 330,268.5 311.4,272.6 295.1,276.2 317.7,263.7 309.9,273 292.2,261.5 335.9,264.6 311,258.5 338.6,268.4 285.4,261.1 298,261.7 297.6,257.4 335.8,279.3 288.9,275 289.4,272.3 337.2,272.9 314.4,259.8 337.9,263.6 296.4,285.2 306.1,258.3 340.4,252.4 341.3,260.5 332.8,277.3 321.4,279.8 321.1,284.6 335.7,252.4 311,274.6 310.6,253 303.4,271.7 323.1,274.2 326.4,254.9 321.2,251.9 339.4,254.5 304.4,271.4 285.4,275.9 335.8,256.3 327.7,280.8 339.3,258.2 327.7,266.6 296.4,261.6 314.5,281.6 309.1,259.1 301.9,271.7 321.3,281.7 327.9,256.8 292.9,260.4 318,270.6 334.1,277.7 341.9,252 333,263.3 328.5,257.8 319.5,272.3 332.8,259.6 318.7,278.4 306.8,270.4 339.2,281.4 309.6,271.8 310.4,284.9 332.3,264.1 318.9,272.4 303.7,254.9 333.2,255.4 304.6,276.8 310.3,279.7 307.2,253.4 306.6,268.5 316.8,252.7 286.3,269.9 330.5,255.2 303.5,282.4 291.4,268.4 340.4,269.4 300.2,270.4 334.8,250.6 341,261.5 305.7,256.7 337.4,268.4 335.6,283 328.9,268.1 291.9,280.4 323,263.3 300.2,277.8 329.6,250.4 327.7,265 287.8,276.4 297.5,268.2 306.6,283.3 295.8,256.1 335.6,282.1 292,261.8 300.4,283.8 294.4,260.8 291.3,279.4 341.8,275.8 320.1,284.3 341.2,276 287,279.4 305.2,262.8 307.1,271.4 325.2,257.1 285.4,263 306.7,254.6 303.3,285.6 298.3,269 290.1,275.6 288.4,268.1 336.1,263.5 321.7,252.7 331.2,251.5 320.1,267.7 339.7,258.2 333,277.9 303.3,254.8 326.9,278.3 335.1,281.1 325.3,273.5 340.5,274.7 326.3,273 325.3,254.9 310.6,265.2 335,266.3 335.2,276.3 340.7,279.8 333.9,262.3 322.2,269.4 318.8,255.4 337.5,273.5 312.3,282.8 286.4,283.2 332.9,262.3 315.5,257.2 293.6,281.1 333.4,254.7 312.7,259 335.4,254.4 289.4,282.9 333.8,272.6 315.5,252 300,262 295.3,285.9 285,259.8 312.3,270.1 334.6,283.2 331.5,278.1 331.9,251 311.2,254.8 322,261.8 331.6,251 337.6,252.8 296.2,284.3 292.4,263.2 304.3,283.1 306.1,258.5 336.5,255.2 287.4,278.2 296.4,261.7 305.4,268.5 286.9,256.7 294.7,277.3 317,258.9 327.1,271.5 304,267.1 332,274.2 331.5,279.8 333.9,271 327.7,256.5 323.8,257 334.1,264 289.8,266.9 326,278 305.5,259.4 290.4,284 328.5,275.8 323.1,252.3 323.8,254.3 305.2,281.4 336.3,250.9 310.3,264.3 301,282.7 294.1,259 323.6,257.4 334.3,255.2 315.6,275.9 297.9,260.7 298.7,272 321.3,272.5 329.5,252.8 287.6,261.8 339.5,263.7 330.6,250.9 326,250.5 332.8,260.9 321.3,263.2 288.2,283 286.6,288.2 310.4,276.6 332.9,277.9 312.9,271.2 312.7,272.2 331.9,283.5 301.8,267.5 321.4,256.6 338.5,261.8 320.1,282.2 333.7,278.2 325,282.9 325.4,283.9 300.9,269.8 317,281.1 333.3,253.6 305,275.5 292,285 298,267.4 303.3,277 297.4,258.9 306.4,271.6 304.6,264.3 340.6,269.9 309.2,267.3 303.2,285.9 285.5,281.7 291.8,286.6 291.1,265.4 321.8,270 316.3,282.9 304,263.3 332.8,266.9 328.7,272.8 337.8,283 334.7,255.5 291,276 320,278.5 294.8,266.3 289.8,282.9 302.2,263.3 290.8,256.3 326.9,262.4 288.6,281 326.8,256.3 301.5,271.9 333.5,263 339.5,263.6 323.4,256.5 312.4,279.2 308.4,268.3 308.1,252.6 304,262.9 302.6,281.1 320.2,274.6 293.8,266.2 296,259.5 286.3,271.9 307.9,257.7 308.8,266.9 296.8,279.1 337.7,260.4 309.8,270 301.4,281.2 322.2,265.9 340.8,251.5 290.9,268.2 311.7,262.4 292.6,266.3 299.1,271.3 337.5,251.6 323.6,257.2 324.2,258.2 333.8,255 317.2,263.1 330.9,274" fill="none" stroke="none" marker-start="url(#m93)" marker-mid="url(#m93)" marker-end="url(#m93)"/><polyline points="339.2,268.7 336.9,282.2 310.3,281.1 330.3,255.5 323.9,272.5" fill="none" stroke="none" marker-start="url(#m94)" marker-mid="url(#m94)" marker-end="url(#m94)"/><polyline points="249.2,276.4 238.8,273.5 236.4,275.4 257.3,271.7 276.3,270.1 241.3,294.2 277.9,264 244.2,281.5 234.1,281 240.3,269.7 225.8,278.2 250.8,264 235.1,280.7 234.2,271.3 252.9,285.9 244.1,264.8 283.2,272.8 251.2,272 267.2,269.4 236.4,273.8 247.8,267.4 250.6,277.2 230.6,295.7 262.3,273.3 238.2,280.8 262.5,273 232.1,274.2 250.1,266.2 249.2,278.9 248.9,267.3 235.7,267.9 283.6,267.1 262,290.4 237,287.7 235.2,271.3 270.4,282.9 232.6,285.2 244.9,293.2 252.5,284.8" fill="none" stroke="none" marker-start="url(#m95)" marker-mid="url(#m95)" marker-end="url(#m95)"/><polyline points="336.6,252.8 340.2,270.7 314.6,254 315.6,253.7 338.8,265 340.6,249.2 336.7,261.2 323.3,278.9 323,273.7 330.6,272.9 331.5,258.8 316.7,285.4 305,255.2 330.8,279.7 332.9,260 334,267.7 328.2,276.2 341.2,256.2 313.2,278 337.2,272.2 331.6,283.4 316.1,261.7 339.1,251.9 339.7,275 319.9,273 334.5,275.6 341.7,266.5 314.9,283.7 341.6,272.2 341.1,249.7 341.6,279.3 329.2,279.6 312.4,274.8" fill="none" stroke="none" marker-start="url(#m96)" marker-mid="url(#m96)" marker-end="url(#m96)"/><polyline points="326.1,275.5 310.2,266.7 298.1,260.8 297.8,265.2 298.1,282.4 298.6,257.5 300.3,282.3 339.8,277.7 328.5,258.7 300.8,262.6 326.3,256.1 292.5,258.2 296.1,269.9 318,275.9 323.2,264.3 322.2,252.4 289.9,267.7 315.7,272.6 296.6,269.7 285.9,276.3 307.9,280.8 301.6,269.4 299.5,287 296,255.4 304.2,265.1 287,285.5 309.6,252.4 304,271.1 287.9,257.2 295.2,285.9 293.8,263.1 327.1,279.2 293.8,255 286.6,271 286.4,260.8 320.4,263.1 301.6,275.7 302.8,257.3 335.4,257 325.7,282.4 304.6,285 301.9,256.1 286.3,261.2 302.3,253.9 327.6,257.1" fill="none" stroke="none" marker-start="url(#m97)" marker-mid="url(#m97)" marker-end="url(#m97)"/><polyline points="230.4,295.9 230.9,292.4 226.9,293.5 223.3,276.9 223.1,298 231.3,279.1 228.9,273.4 231.2,294.3 234.7,282.4" fill="none" stroke="none" marker-start="url(#m98)" marker-mid="url(#m98)" marker-end="url(#m98)"/><polyline points="283.5,286.1 270.1,275.8 277.5,276.8 276.3,261.2 253.6,268.9 276.4,277.9 284,258 277.8,275.5 277.5,284.8 283.6,276.5 244,292.7 258.4,278.3 279.3,270.3" fill="none" stroke="none" marker-start="url(#m99)" marker-mid="url(#m99)" marker-end="url(#m99)"/><polyline points="222.5,295.2 221.1,299.8 222.5,279.7 220.8,281.9 220.9,287.3 221.3,281.4 220.5,279.7 221,299.6 223,277.3 221.7,287.7 223.5,291.5 222.7,288.6 222,282.5 220.6,279.7 221,282.4 220.3,287.6 223.1,295.4 224,294.7 222.2,299.8 220.3,287.2 220.9,278.8 221.5,294 221.9,300.9 221.3,301.5 222.3,293.3 221,280.9 220.3,295.4 224.5,285.6 223.7,288.4" fill="none" stroke="none" marker-start="url(#m100)" marker-mid="url(#m100)" marker-end="url(#m100)"/><polyline points="275.9,276.2 272.9,282.5 272.1,268.4 255.6,267.5 269,284.4 278.6,277.1 284.4,272 278.2,288.7 284.5,274.4 272.5,267.4 274.2,288.7 269.5,283.2 278.6,282.4 279.8,262.4 267.6,268.8 265.3,275.2 270.3,284 280.4,260.5 258,268.4 272.5,272.6 278.4,272.1 283.5,268.1 276.8,274.3 273.1,281.1 278.7,276.1 281.3,267.9 270,259.1 270,277.8 284.2,274.5 263,277.7 278.3,271.9 265.3,278 268.1,276.7 262.1,287.7 282.2,270 283.6,264.5 264.6,289.1 284.3,261.9 273.3,261.5 275.4,285.8 256.2,276 259.9,281.7 283,257.6 281.1,269.4 272.6,264.6 268.6,262.6 265.4,269.4 282.7,268.7 265,289.1 275.6,277.3 282.1,260.8 270.6,276 274.6,267.6 252.2,272.9 265.3,264.9 282,260.3" fill="none" stroke="none" marker-start="url(#m101)" marker-mid="url(#m101)" marker-end="url(#m101)"/><polyline points="328.6,268.7 308.5,262.8 318.5,270.4 330.7,269.9 323.5,252.9 342,251.3 310.6,282.3 311.8,273 326.4,251.3 293.5,264.9 339.3,276.3 305.8,280.9 337.5,262.7 339.9,268.9 320.6,259.7 316.5,283.8 328.7,270 309.4,280.4 304.8,255.3 298.6,255.7 303.3,275.3 311.7,277.1 295.9,263.5 295.2,281.8 313.9,254.5 338.1,252.8 307.5,285 302.3,282.2 311.3,261.8 314.9,273.9 339.4,271.1 325.2,277.1 341.6,262.2 339.4,269.6 325.1,270.1 327.6,252.1 339.2,272.3 312.9,282.2 308.1,285.2 307.6,263.3 323.4,258.7 330.6,258.3 298.4,258.4 334.1,254.7 337.4,269.6 329.5,263.5 327.7,250.8 316.7,276.3 332.8,268.8 338.5,271.1 323.7,276.6 333.8,272.3 297.4,281.9 298.6,263.8 334.8,251.8 309.3,280.9 340,254.7 336.2,278.1 292.7,261.8 332.1,275.1 330.1,251.4 316.4,268.3 300.2,284.3 335.8,261.2 328.8,280.3 327.3,257.8 319.4,252.4" fill="none" stroke="none" marker-start="url(#m102)" marker-mid="url(#m102)" marker-end="url(#m102)"/><polyline points="220.1,282.9 220.2,303 220.3,289.3 219.9,301.9 218,306.7 220,297.9 218.9,306.7 220.6,280.3 219.9,302 219.7,296.5 220.2,280.5 220.4,296.3 219.9,291.3 219.7,293.7 218.8,311.3 220,290.7 220,288.2" fill="none" stroke="none" marker-start="url(#m103)" marker-mid="url(#m103)" marker-end="url(#m103)"/><polyline points="240.1,275.5 234,277.4 237.2,285.1 223.7,285.4 224.1,289 225.9,272.5 229.2,290 229.3,294.7 224.7,288.1 226.3,286.1 226.3,284.6 233.7,268.2 231.1,273.7 227.8,291.6 225.2,287.9 229.9,270.1 226,285.9 228.2,277.4 229.1,272.4 232,276.5 227.9,295.6 229.6,270.8 226.8,287.9 239.6,278.2 229.4,295 227,286.7 233.8,288.1 231.9,285.6 227,276.5 229.4,286.7 234.5,292.3 226.3,273.2 235.4,283 226.9,294.7 229.2,290.4 232.2,277 233.5,270.7 229.2,290.2 228.7,272.9 226.5,294.2 233.9,270.8 226.9,285.6 240.9,266.7 237.5,271.2 231.4,279.7 225.1,273.2 223.4,297.2 227.8,282.7" fill="none" stroke="none" marker-start="url(#m104)" marker-mid="url(#m104)" marker-end="url(#m104)"/><polyline points="218.3,298.7 218.2,311.4 218.9,280.4 217.6,304.4 218.5,310.8 219.1,303.2 217.4,316.5 217.6,307 218.3,298.4 219.4,302.6 217.6,291.9 218.2,288.9 217.8,294.4 219.3,294.9 218.6,293.2 218.3,293.9 218.5,306.5 219,297" fill="none" stroke="none" marker-start="url(#m105)" marker-mid="url(#m105)" marker-end="url(#m105)"/><polyline points="225.4,277 225.6,291.6 225.1,282.4 226,274.1 222.4,285.9" fill="none" stroke="none" marker-start="url(#m106)" marker-mid="url(#m106)" marker-end="url(#m106)"/><polyline points="224.6,294.7 227.9,290.2 224.8,296.8 224.9,296.1 224.5,283 222.6,279.2 226.9,285.1 225,297.6 223.8,275.8 225.3,277.2 227.4,277 226.9,289.2 223,278.1 230.7,289.2 228,290 224.7,274.6 227.6,289.9 222.1,277.2 227.3,297.3 223.4,300.2 224.7,273.6 225,277.5 223,283.5 223.7,281.8 224,290.1 225,288.9 223.3,287.7 224.5,281.2 222,299.1 225.1,272.7 219.9,290.4 224.8,285.4 222.3,288.9 228.3,276.5 227.5,287.2 224.5,279.1 225.1,291.2" fill="none" stroke="none" marker-start="url(#m107)" marker-mid="url(#m107)" marker-end="url(#m107)"/><polyline points="217,309.7 217.4,310.4 217,299.9 216.8,298.7 216.8,293 216.8,302.8 216.8,305.6 216.7,303.4 217.2,315.7 217.2,287.5 218.2,304.2 217.1,293.5" fill="none" stroke="none" marker-start="url(#m108)" marker-mid="url(#m108)" marker-end="url(#m108)"/><polyline points="219.2,307.3 219.2,307.3" fill="none" stroke="none" marker-start="url(#m109)" marker-mid="url(#m109)" marker-end="url(#m109)"/><polyline points="217.6,317.5 218.6,296.7 219.7,281.3 218.6,305.5 217.2,312.8 218.1,290.3 218,287.5" fill="none" stroke="none" marker-start="url(#m110)" marker-mid="url(#m110)" marker-end="url(#m110)"/><polyline points="216.8,305 216.8,305" fill="none" stroke="none" marker-start="url(#m111)" marker-mid="url(#m111)" marker-end="url(#m111)"/><polyline points="216.8,308.2 217.8,306.6 216.9,317.9 217.1,303.9 216.9,289.8" fill="none" stroke="none" marker-start="url(#m112)" marker-mid="url(#m112)" marker-end="url(#m112)"/><polyline points="222.7,296.1 221,280.2 219.7,302.3 223.4,286.4" fill="none" stroke="none" marker-start="url(#m113)" marker-mid="url(#m113)" marker-end="url(#m113)"/><polyline points="288.1,286.8 310.8,267.4 300,258.8 288.6,273.4" fill="none" stroke="none" marker-start="url(#m114)" marker-mid="url(#m114)" marker-end="url(#m114)"/><polyline points="217,289.3 216.9,303.4 216.7,308.7" fill="none" stroke="none" marker-start="url(#m115)" marker-mid="url(#m115)" marker-end="url(#m115)"/><polyline points="256.5,287.9 293.6,294.5 257.4,293.7 331.1,288.4 278.6,294.4 272.3,289 325.7,291.5 323,288 334.4,286.3 334.9,284 278.9,294.6" fill="none" stroke="none" marker-start="url(#m116)" marker-mid="url(#m116)" marker-end="url(#m116)"/><polyline points="303.5,290.1 291.2,295.4 325.8,295.6 328.6,295.3 255.7,293.4 310.4,285.4 332.4,288.5 290.8,285.2 323.6,287.8 261.9,294.2 264.4,289.5 312.9,285.4 305,293.9 288.3,293.7 327.4,285.7 291.1,293.6 287.5,283.7 320.3,291.6 304.1,288.3 264.6,290.5 298.2,284.4 319.3,291 256.1,285.7 325.8,284.3 314.1,291.6 250.4,287.2 274.5,295.2" fill="none" stroke="none" marker-start="url(#m117)" marker-mid="url(#m117)" marker-end="url(#m117)"/><polyline points="273.1,293.5 320.4,292.2 259.5,284.3 251.6,288.1 336.5,286 301.9,293.6 286.2,285.5 292.5,291 254.5,292.3 284.4,293.2 259.5,288.3 250.1,291.3 256,288.6 254.8,284 263.9,295.1 260.5,290.7 284.9,289.6 257.4,291.5 253.1,293.9 330,286.3 335.9,290 316.5,291.8 268.7,293.7 330.8,284.7 254.8,288.9 318.1,287.4 337.6,289.9 300.9,293.5" fill="none" stroke="none" marker-start="url(#m118)" marker-mid="url(#m118)" marker-end="url(#m118)"/><polyline points="315.6,284.5 300.5,291.2 341.1,285.2 270.1,284.7 278.8,283.1 254,287.3 316.4,293.5 264.8,293.8 283.1,294.6 297.7,286.5 292.2,292.6 332.3,287.6 306.1,287 316,285.1 338.7,283.9 298.2,292.6 303.3,283.7 321.9,284.8 281.2,286.3 253.7,288.5 268,285.2 329.8,295.9 330.5,295.7 301,295.9 314.5,292.3 300.5,285.3 253.2,286.7 256.3,294.5 288.6,284.8 277.9,284.6 252.3,289.6 299.9,283.5 341.4,295.6 325.4,294.5 290.2,295.9 307.3,292.4 264.8,289.6 257.9,292.7 304.3,295.8 319.6,284 256,294.6 255.7,286 338.9,294.2 264.4,285.3 267.2,292.8 276.6,286.7 325.6,295.5 316.9,294.7 302.9,284.4 301.9,294 334.6,294.7" fill="none" stroke="none" marker-start="url(#m119)" marker-mid="url(#m119)" marker-end="url(#m119)"/><polyline points="295.9,287.7 277.3,287.4 277.2,295 304.3,286.2 335.6,290.8 285.6,288.2 250,284.4" fill="none" stroke="none" marker-start="url(#m120)" marker-mid="url(#m120)" marker-end="url(#m120)"/><polyline points="258.8,288.2 259.9,293.3 309.8,288 298.4,295 272.1,284 320.5,285 292.5,291.6 250.9,284.6 303.5,289.4 319.2,285.2 337.3,294.3 332.5,288 312.7,294.4 282,288.9 298.5,287.2 316.8,294.8 263.5,284.3 335.1,288.9 325.1,293.4 264.4,285.3 297.5,294.5 253.1,287.8 305.1,294.5 308.3,284.5 265.9,289.1 300.5,284" fill="none" stroke="none" marker-start="url(#m121)" marker-mid="url(#m121)" marker-end="url(#m121)"/><polyline points="244.4,207.8 235.2,255 249.1,238 237.9,218.9 228.7,200.5 246.2,204 249.8,215.5 223.5,227.6 246.3,256.5 218,222.1 217.7,255.8 251.2,248.7 248.3,224.3 231.3,209.7 255.7,240.2 240.2,248.2 218.7,193.7 220.1,201.5 222.1,237.4 250.2,250.6 249.2,222.9 252.5,220.1 218.7,228.5 233.6,260.9 222.2,246.1" fill="none" stroke="none" marker-start="url(#m122)" marker-mid="url(#m122)" marker-end="url(#m122)"/><polyline points="310,241.1 281.9,259.8 294,254.6 266.9,247.3 256.1,190.8 257.4,213.4 328.2,249.3 309.6,237.9 340.5,239.3 324,251.2 298.8,260.9 263.4,225 286.1,231.3 304.3,233 316.1,222.4 339.8,231.8 262.3,253 324.2,213.1 264.2,259.9 322.3,201.3 259,220.3 275.9,250.4 320,240.1 265.3,232.3 334,220.9 269,260.1 317.8,217.5 261.6,251.4 302.3,247.5 294.2,253.2 331,197.7 330.4,236.4 259.5,193.7 322.2,209 333.5,234.3 339.8,224.9 320.1,240.9 275.5,251.6 269.9,194.5 298.6,237.8 260.2,254 332.7,214.5 296.2,234.1 294.3,216.2 258.1,224.8 267.4,250.4 334.8,229.6 292.4,237.8 316.5,239.4 269,261.6 286,255.2 331.6,254.3 304.3,256.1 299.9,255.9 331.5,224.7 303.1,193.4 341.1,257.2 311.2,240 313.8,239.6 306.9,251.6 310.8,226.6 337,202.9 272.3,223.3 271.8,224.7 304.3,197.4 335.6,228.6 336.5,217.2 327,241 336.9,194.2 324.4,212.4 338.3,241 341,221 290.9,227.1 295.3,261.1 334.2,254.4 336.6,216 311.1,208.1 258.1,246.7 318,261 275.9,255.9 305.7,257.2 319.4,210.5 326.8,233.6 327.8,202.2 288.5,253.5 274.4,250 335.8,234.5 311.5,214 261.4,244.2 270.8,214.6 282.8,241.4 294.6,250.3 315.4,199.2 332.1,200.6 319.7,232.1 269,211.8 277.3,253 298.2,194.8 320.5,251.3 339.9,259.9 327.8,249 341.3,226.2 324.9,191.6 320.9,222.7 298.4,225.7 310.1,212.5 333.5,202.9 281.7,226.6 293.6,243.2 280.9,252 317.5,193.3 259.2,239.9 283.6,249.2 312.9,200.7 325.5,199" fill="none" stroke="none" marker-start="url(#m123)" marker-mid="url(#m123)" marker-end="url(#m123)"/><polyline points="289.1,248 273.2,256.2 259.2,261.2 259,222.2 338.3,214.6 307.8,261.6 284.5,252.5 283,237.1 298.6,250.3 258.7,261.5 321.2,210 293.5,245 336.6,190.2 284.1,261.1 297.3,241.6 334.2,234.1 336.4,257.7 264.1,256.3 270.8,229.8 276.2,235.7 304.4,237.5 258,190.8 294,218.5 313.7,249.7 308.3,211.3 341.1,223.6 302,209.7 292.9,213.8 262.7,196.9 279.6,215.5 326.4,215.8 325.9,234 322.5,252.8 292.1,230 301.6,256.8 269.8,255.7 306.9,213.3 320.3,208.6 323.3,207.5 256.2,229.6 338.8,191.4 262.7,218.5 311.2,254.5 339.5,259.2 337.7,210.1 322.8,193.8 333.1,212.2 320,197.9 267,251.7 310.8,198.9 299.9,202.8 293.7,203.7 282.8,241.3 301.6,256 323.5,253.6 334.3,193.8 259.9,222.8 302.1,243.4 272.2,247.5 333.8,197.6 315.3,207 298.3,241.7 338.5,221.3 301.7,209.5 304.3,221.6 293.4,255.3 273,210.2 316.7,218.9 307.4,236.8 340.9,199.1 287.3,237.6 277.3,255.9 330.4,241 275.9,218.7 326.1,247.5 329.7,243 267.8,248.8 334.7,238.4 285.4,197.8 312.1,221.4 314,220.7 336.2,208.9 274.7,223.3 296.4,256.8 337.1,228.9 290.1,242.5 309.3,245.5 280.5,258.8 276.7,238 302.6,247.7 266.6,240.6 301.2,235.8 341.3,222.5 275.8,216.3 267.6,232.6 337.4,212.3 333.2,260.9 290.9,258.3 269.1,248.7 305.5,253.1 330.9,257.5 270.2,237.4 301.1,234.8 284.5,250.4 328.4,245.7 323.8,239.7 310.3,209.5 311.9,232.5" fill="none" stroke="none" marker-start="url(#m124)" marker-mid="url(#m124)" marker-end="url(#m124)"/><polyline points="252.8,256.5 247.8,226 245,210.6 235.5,195 241.4,259.5 252.7,248.9 246.5,243.8 243.5,241.5 247.5,259.4 254,222.3 239.9,253.3 246.1,238.2 238.2,255.1 244.6,232.5 247.9,247.8 250.1,217.3 234.1,220.9 251.8,227.4 245.1,233.2 236,243.9 246.8,202.7" fill="none" stroke="none" marker-start="url(#m125)" marker-mid="url(#m125)" marker-end="url(#m125)"/><polyline points="226.3,258.8 232.1,214.4 219.5,194.8 221.1,244.9 232.3,211.2 226.8,254.1 224.5,211.9 221.8,229.9 224.5,227.9 218.2,256.8 222,252.6 230,205.7 226.9,237 225.8,230.1 227.2,250 230.7,232 230,232.2 230.4,212.5 230.6,253.7 216.6,193.6 223.8,245.4 230.6,195.3 228.6,239.3 224,219.6 217.2,217.8 225.2,200.3 224.2,246.2 230.2,195.8 231.1,190.9 226.5,234.1" fill="none" stroke="none" marker-start="url(#m126)" marker-mid="url(#m126)" marker-end="url(#m126)"/><polyline points="298.4,221.8 261.6,241.6 336.8,221.9 268.9,241.5 285.4,244.4 340.4,219 280.6,216.5 271,201.1 334.6,190.8 271.8,219.9 283.8,230.7 289,255.2 318.2,207.7 276.9,229.8 313.1,194.1 265.5,220.9 320.2,254.9 319.8,230.7 292.9,260.1 270.9,241.9 283.5,233.8 266.3,241 270.8,212.6 288,236.5 301.9,218.5 271.6,261.1 311.3,214.8 316,233.1 293.2,239.3 269.8,251.1 268.6,245.7 315.6,196.3 301.4,199.7 264.7,261.3 257.3,218.9 292.8,213.2 268.5,227.6 276.2,236.6 331.6,213.6 321.3,236.3 323.7,235.6 283.8,254.2 322.2,259.6 291.9,239 300.4,194.3 277.5,235.9 333.2,228.6 328,235.1 315.7,244.9 294.7,244.8 260.7,252.2 321.6,211.1 325.2,246.9 277.4,207.1 333.6,261.8 302.2,208.5 266,231.5 273.4,238.2 300.8,243.5 289.4,232.5 272.7,198.5 298.2,241.3 314.7,230.8 257.2,227.3 299.8,226.4 300.3,221.2 295.3,219.7 287.7,244.7 302.2,230.4 328.4,261.4 273.3,253.3 318,221.1 317.1,250.9 339.9,230.5 284.1,258.9 263.9,243.4 311.4,216.8 329,253.5 328.1,252.3 333,253.3 283.5,206.2 302.5,224 289.8,200.1 326.4,259.5 275,246.4 339.5,239.5 340.7,223.1 336.9,232.3 313.7,204.2 329.7,234.9 331.7,246.2 278.4,258.3 284.3,225.7 329.4,258.6 321.9,231.9 280.7,227.4 305.8,190.7 293.8,229.4 295.8,244.4 293.1,223.5 268.9,257.4 296.2,219.6 321.1,241.5 270,254.8 331.8,196" fill="none" stroke="none" marker-start="url(#m127)" marker-mid="url(#m127)" marker-end="url(#m127)"/><polyline points="248.4,233.4 247.6,233.4 255.3,260.2 243.3,221.7 238.2,234.7 251.1,253.4 246.7,237.6 247.9,236.5 236.4,236.6 247.8,229.4 255.5,253.2 238.4,232.9 238.7,244.7 252.2,242.8 235,234.2 240.6,224.6" fill="none" stroke="none" marker-start="url(#m128)" marker-mid="url(#m128)" marker-end="url(#m128)"/><polyline points="247.4,256.3 235.4,231.6 233.1,224.6 251.3,239.4 225,223.3 220,197.8 223.1,194.1 221.1,237.4 237.4,238.2 221.4,216.8 227.8,209.3 224.1,245.6 226,222.2 221.6,224 235.6,258 238.6,216.1 254.1,197.2 219.8,214 228.6,250.4 229.3,208.9 243.8,228.4 222,230.3 225.3,253 236.2,232.5 237.8,196.7 225.7,226.3 227.6,214.2 235.1,209.3 222.4,237 250.8,237 227.3,223 219.2,213.1 230.6,239 250.4,250.4 219,256.1 224.1,250.3 241.7,234.9 250.3,235.9 252.8,246 224.4,249.3 232.5,247.1 250.9,238.3 220.6,247.3 247,217.1 242.6,216.1 222.7,248.8 231.8,257.1 216.9,229 245.8,257.5 251.7,231.7 242.7,215.1 232.2,242.2 225.1,216.8 249.2,197.7 223.9,232.2 224.9,221.8 222.1,261.3 236.4,203 218.3,196.7" fill="none" stroke="none" marker-start="url(#m129)" marker-mid="url(#m129)" marker-end="url(#m129)"/><polyline points="270.9,196 314.5,251.8 293.7,235.8 294.5,259 278.3,230.8 281.1,214.9 319.1,222 304.7,227.9 314.3,238.8 271.5,251.9 299.8,259.7 270.6,260.2 296.7,225.3 323.3,223.2 278.2,240.2 335.8,232.9 275.5,251.1 268.5,198.4 299.7,205.2 272,218 258.1,251.1 329.7,214.8 261.7,215 256.5,248.8 310.7,255.6 277.6,241.4 270.6,227.9 280.9,228 322.9,211.8 276.1,246 338.6,247.3 321.8,245.6 256.5,261 285.3,250.9 309.8,194.9 306.8,190.9 276.4,251 298.8,216.3 308.9,247.4 341.2,219.6 339.5,251.6 310.3,239.6 335.5,205.7 320.8,215.3 259.8,256.5 274.4,216.6 301.5,198.4 301,208.1" fill="none" stroke="none" marker-start="url(#m130)" marker-mid="url(#m130)" marker-end="url(#m130)"/><polyline points="234.6,193.3 236.1,241.2 253.1,200.1 246.5,256.9 249.4,228.9 236.9,224.3 250,236.9 255.9,222.6 251.6,220.5 243.9,242.4 255.9,233.8 255.7,237.6 241.3,236.6 250.7,226.5 241.8,206.3 243.3,194.7 251.4,232 240.4,260.9 237.2,241.1 237.4,216.6" fill="none" stroke="none" marker-start="url(#m131)" marker-mid="url(#m131)" marker-end="url(#m131)"/><polyline points="229.5,232.6 227.6,254.3 233.6,232.8 221.3,225.4 224.5,255.4 217.6,212.2 223.8,220.7 225.9,241 219.3,252.4 222.6,251.9 227.1,248.6 218,257.3 232.7,201.3" fill="none" stroke="none" marker-start="url(#m132)" marker-mid="url(#m132)" marker-end="url(#m132)"/><polyline points="90.4,418.5 82,432.8 80.9,450.2 78.7,432.6 79.6,475.1 76.3,439.6 80.8,476.6 89.2,448.4 75.5,480.1 87,454.5 82,433.7 90.5,422.1 72.4,432.3 91.4,484.1 83.2,469.7 92.8,453.1 89.4,456 70.3,418.7 86.9,470.8 92,451.7 85.5,470.7 72.6,422.7 87.4,437.7 89.6,446.1 92.5,476 76.9,479.7 71.8,457.4 81.5,465.2 76.8,485.3 81.3,462.8 63,465.4 76,422.3 89.8,463 86.9,474.9 93.1,455.7 79.6,477.5 91.1,455.2 77.3,444.3 73.8,471.3 78,479 67,435.3 79.1,443.7 78.9,455.9 90.3,467.5 90.4,443.1 84.8,438.8 85.5,469.7 71.9,477.8 90.1,428.5 84.6,465.3 76.2,459.5 74.8,469.1 72.9,442.3 74.1,418.5 93,459.3 77.4,454.2 86.8,456.3 80.5,459.9 88.8,454.8 72.6,431.5 79.5,438.5 84.1,466.8 85.7,473.7 86.1,422.3 89.2,472.4 74.6,458.5 83.9,427.8 85.3,464.9 75.2,468.2 73,424.3 92.7,476.5 85,424.9 86.2,453.7 80.5,482.5 87.9,463 81.5,463.2 86.8,412.3 84.6,443.4 85.1,426 64.6,468.6 82.3,480.3 72,470.5 93,471.6 81.6,429.5 91.6,429.5 78.2,480.9 78.4,464.5 83.9,459.8 77.6,474.1 84.7,435.6 90.8,436.5 87.9,466.5 85.5,447.6 81,495.1 73.6,456 94.3,425.4 83.8,470.6 78,485 81.8,410.4 76,436.8 83.7,452.3 85.1,471.7 86,435.1 81.6,459.9 73.4,467.9 86.6,487.9 90.8,474.2 89.6,455 78.4,438.8 86.2,459.6 81.8,446.8 65.7,434.5 90.5,412.5 90.5,428.7 76.6,468.3 86.1,425.4 84.3,466.3 69.9,464.8 72.9,426.2 78.7,427.1 80.9,431.9 88.1,454.7 79.9,470.2 93,463.5 79,469.4 80.3,453.4 89,482.6 87.2,406 81,455 85.2,446.9 93.3,416.4 76.3,466.8 73.7,452 89.1,448.8 72.4,416.1 87.7,487.7 79,458 71.9,443.4 79.1,435.8 87.2,449.5 85.4,488.2 76.4,478.7 83.3,486.3 89.1,453 83.5,464.8 83.3,451.2 88.2,445.2 76.3,482.2 76.6,429.8 81.5,429.8 72.7,423.7 82.7,434.7 84.4,474.9 93.5,426.8 86.2,478.2 89.1,456.6 86.6,458.3 82.8,473.4 83.9,441.9 90.6,468.8 82.1,432.2 89.9,409.3 84.5,446.6 93.2,421.7 81.8,446.9 89.8,444.1 88,468.5 88.1,459.7 78.4,434.2 86.5,448 83.1,473.9 93.6,486 91.2,482.6 74,419.2 88.7,491.1 78.9,432.7 75.4,447.4 78.6,421.4 67.6,470.3 83.1,473.7 94.2,462.1 74.1,440.1 80.6,479.1 84.8,436.3 87.7,452.9 70.9,425.3 83.9,418.7 77.5,446.6 92.4,450.1 84.5,432.7 75.2,448.4 83.6,435.2 78.1,477.4 82.4,430.4 79.9,427.9 91.5,480.4 90.9,435.7 87.7,427.9 87.7,452.8 93.7,454.2 87.8,478.3 91.5,470.9 81.6,407.9 85.4,453.6 83.9,443.3 81.5,419 73.9,440.5 84.4,492.8 93.4,440.6 85.9,459 74.6,479.9 88.6,465.9 83.3,447.9 85.3,466.3 86.4,442.1 87.4,431.9 91,436.3 81.3,478.3 71.3,428.3 79.7,456.4 83.4,440.8 72.9,421.4 86.6,483.3 86.9,411.6 76.6,452.1 86.3,412.4 89.2,441.9 83.3,482.8 90.2,469.8 84.1,425.1 94.2,451.4 82.9,435.1 83,478.8 77,463.2 89.3,423 91.6,465.7 80.6,486.5 92.4,435.1 66.4,429.7 89,447.3 84.9,460.3 77.2,422.1 79.4,410.4 78.8,475.5 91.6,477.1 87.8,432.1 78.3,447.6 74.1,436.4 87.3,476.1 83.5,452.3 83.8,437.2 76.8,441.2 79.6,460.9 85.5,412.8 85.3,433 84.3,429.3 87.3,454.9 89.5,442.2 84.3,405.6 84.5,432.9 87.6,450.2 82.7,452 85.7,438.6 74.4,469.9 86,449.4 77.9,472.8 72.8,427 82,449.3 90.6,431.6 84.5,450.2 75.6,458.7 91.7,426.5 81.9,412.2 82.5,477.6 75.2,466.6 85.5,447.1 80.1,472 76.2,476.3 76,416.1 90.9,459.6 82.6,433.8 87.8,472.2 69.8,469.9 81.8,438.8 74.6,431.6 74.1,431.2 85.7,452.7 73.6,461.4 87.4,459.4 84.3,442.9 79,454.5 89.5,450 78.3,451.8 83.8,478.8 68.2,418.6 82,459.1 88.5,463 90.9,455.1 86,490.6 93.1,461.8 80,450.9 88.9,445.5 88.5,471.7 77.5,458.3 86.9,474.2 89,481.4 75,446 90.1,467.4 81.2,434 84.4,488.8 67.8,459.5 84.3,457.4 88.4,459.4 77.4,437.5 78,481.1 70.9,477 78.2,437.5 73.6,465.1 88.2,473.5 84.7,458.7 80.6,458.3 70.2,479 78.7,431.1 82.4,441.4 90.2,476.9 82.1,456.9 87.9,475.9 85.3,472.9 84.6,446.1 92.6,443.6 84.4,455.5 92.2,439.3 93.6,440.9 78.8,480.8 76.8,469.7 85.9,463 87.5,457.5 86.9,474.7 91.6,430.1 82.9,471.8 85.4,481.1 66.2,477.6 94,431.1 77.3,456 91.7,445.4 73.8,456.6 72.7,440.4 68.2,455.1 90.1,429.5 79.3,464.8 91.5,432.2 86.7,429.6 88.5,458.7 86.3,443.9 72.6,460 90.9,431.5 92.1,446 93.4,462.4 92.7,462.9 85.7,424.3 90.1,448.2 78.7,458.4 84.8,411.4 67.8,435.3 72.4,434.3 82.7,480.6 89.4,442.5 77.3,444.8 73.3,449.3 89.6,430.7 79.2,454.7 78.8,442 84.7,411.9 85.4,475.3 69.6,434.6 86.1,433.1 86.8,458.4 73.4,429.5 93.5,441.1 89.2,460.1 77.6,428.1 68,476.4 92.5,466.9 86.7,448.8 76.3,468 92.9,463.7 78.7,443.4 75.9,463 82.9,434.5 89,448.7 88.8,441.3 80.6,460.9 93.2,451.8 80.6,449.8 84.1,441.6 77.5,433.5 77.9,429.8 72.1,459.9 73.4,474.1 93.7,458 88.8,473.9 80.6,478 86,489.4 85,457.7 82.8,441.5 87,424 73.2,422.7 79,441.2" fill="none" stroke="none" marker-start="url(#m133)" marker-mid="url(#m133)" marker-end="url(#m133)"/><polyline points="87.7,463.2 77.3,445.5 68.3,435.7 79,454.4 71,454.4 73.4,472.5 66.9,490.6 72.1,458.9 72.9,479.7 82.3,451.5 77.2,445.3 80,431.2 80.8,438.8 73.7,454.5 84.7,443.7 78.8,463.1 84.7,479.7 65,467.7 71.8,456.9 83.5,462.3 73.7,479.9 64.6,475.6 79.6,460.2 66,449.4 74.6,465.6 80.3,474.9 79.5,454.7 90.5,456.9 67.6,464.8 67.1,431.4 70.6,459.7 75,443.4 80.8,458 73.1,459.3 72.2,456.2 91.7,443 83,475.4 76,466.6 86.3,430.9 74.3,450.7 64.7,448 67.7,439.1 78.5,468 66.7,475.6 73.2,441.5 74,465.8 65.4,450.9 78.3,443.2 69.7,452.6 84.2,440.4 80.9,452.2 85.2,455.7 82.9,457.4 73.8,479.6 85.1,464 65.3,433.5 87.4,440.2 65.3,454.9 80.5,460.1 71.9,444.9 72.9,454.8 66.5,472.2 66,448.8 62.7,463.4 73.3,451.1 79,447.4 69.5,463.7 81.2,467.2 72.4,466.4 79.6,448 77.3,445.8 74.9,448.5 75.2,489.8 78.4,463.4 66.9,433.1 77.1,467.8 70.7,436 74.7,472.1 85.2,438.7 71.6,456.5 76.9,472.1 90.8,440.1 70.8,442.4 75.6,443.3 73,449.4 81.2,467.3 83.7,479.6 78.4,444.6 71.3,479.1 64.1,467.1 85.6,456.6 66.5,433.8 83,465 68.5,467.4 71.5,458.6 77.7,443.5 73.2,475.7 63.9,442 71.5,458.4 90.1,456.8 91.9,457 71.8,464.2 78.2,462.6 73.2,444 65.3,428.1 87.3,456.8 80,461 78.8,453.8 77.2,465.6 77.4,452.8 71.6,458.5 91.9,470.6 82.1,432.9 70.6,452.2 74.2,457.1 72.6,424.4 69,425.6 71.9,461.2 68.4,446.3 76.8,475.9 75.9,495.9 65,447.5 66.8,476 70.9,459.1 63.3,462.5 68.1,486.1 74.2,441.1 74.7,446.8 66.1,461.1 84.9,469.5 82.3,488.1 74.3,446.8 81.9,450.9 69.8,442 67.9,451.6 91.4,440.6 79.4,438.4 68.6,441.3 93.6,475.2 64.2,442.9 73.4,462.9 63.8,464.9 76.1,447.7 90.6,455.8 93.5,451.8 67.5,452.3 79.5,435.8 88.8,475.3 77.2,472.8 69.8,428.5 69.2,480.4 72,439.8 72.4,460.9 75.2,454.7 68.6,451.8 78.4,474.3 72.6,467 71.2,450.9 75.4,439.5 64.4,437.8 72.7,460 74.8,455.3 75.9,446.8 90.6,454.6 86,460.8 71,468 71.2,473.2 79,445.6 85.8,466.4 77.7,443.7 71.5,456.4 72.9,445.7 90.7,435.7 67.5,443.6 75.5,453.9 79.6,451.9 78.5,448.1 69.9,425.2 78.4,454.4 70.2,486.4 84.2,449.2 69.4,467.4 76.4,439.2 80.4,442 76.4,474.1 75.1,439.6 82.4,442.2 68.2,433.6 75.5,454.5 66.6,501.3 82.5,451.7 73.6,464.8 87.6,455.6 84.3,426 69.8,439.5 61.8,478.7 82.6,458.7 78.4,493.1 62.2,447 71.7,472.8 64.6,476.7 81.6,451.2 80.3,433.2 69.4,441.5 77.6,449.4 71.9,471.1 89.7,469.4 84.1,460.1 70.7,461.3 87.4,451.6 70.3,439.2 84,477.2 86.4,468.1 72.3,430.6 77.4,467.7 68.8,452.3 80.8,475.2 69.2,457.3 82.2,467 82.3,487.4 66.7,457.6 74.9,455.6 70.2,476.8 82.8,488.6 86.3,470.7 74.2,462.7 79.8,432.8 73,459.3 69.5,448.5 71.1,458.9 72,446.1 69.9,434.9 73.4,434 86.8,451.4 69.7,460.9 83.2,451.3 79.9,440 80.5,446.9 72.6,465.6 71.1,422 75.2,434.3 68.9,466 72,449.1 92.7,443.3 76.9,473.6 64.7,465.6 93.7,441 70.8,443 65.5,442.6 66.7,458.9 74.7,455.1 67.6,499.6 78.7,471 76.5,442 83.1,429.8 76.8,487 66.9,423.7 81.2,429.3 90.1,468.6 75.4,463.6 82.3,455 71.3,457 80.2,443.7 73.4,487.4 82.5,453.8 85.8,462.2 67.3,439.8 78.8,479.7 82.6,482.7 76.7,468.4 78.9,448.8 67.1,486.7 68.4,434.4 61.2,444.4 68.2,437.7 75.9,448 75.4,442.2 86.1,446.1 75.5,476.5 74.3,447.4 82.6,481.1 65.9,453.3 65.3,461.4 78.9,470 82.7,447.6 70.1,448.1 70.4,465.2 87.9,478.4 84.7,488.3 72.4,442.2 90.4,444.7 75.5,443.2 69.3,458.2 73.7,471.9 69,464.4 73.9,427.1 71.5,463.2 64.8,451 82,466.2 78.7,461.6 71.4,471 78.8,439.5 83.6,475.7 71,441.8 68.7,439.9 65.1,445.5 66.4,447.2 73.1,462.5 88.5,453.1 83,443.3 72.9,445 79.9,458.1 71.6,440.4 74.8,461.8 72.3,472.3 93.7,447.9 66.3,446.2 73.9,438 64.8,436.2 65.2,469.9 69.6,441.2 66.5,481.3 86.2,470 74.9,467.7 75.8,477.1 67.8,485.2 70.1,453.6 68,482.1 69.1,461.2 67.4,435.3 69,466.4 89.2,450.7 80.3,460.6 75.1,460.8 81.3,471.9 67.2,450.5 77.2,466.5 84.9,440.8 84.4,444.7 68.4,462.3 89.1,464.5 66.2,478.6 78.7,472.5 89.5,447.7 68.9,436.8 79.3,471 70.3,451.6 71.2,472.9 65,463.4 77.9,471.3 65,430.9 69.9,464.5 72.3,434.1 72.2,456.7 66.5,455.5 69.6,431.7 78.9,450.9 83.7,446.9 84.8,453.2 77,494.7 64,457.4 66.9,448.2 66.3,444.6 68,450.7 82.3,463 81,445.6 90.4,445.3 75.4,444.3 69.2,446.5 87.5,439.6 72.5,447.9 65.3,464.2 70.7,448.2 66.8,453.5 88.9,469.7 71.8,464.3 84.2,466.6 74.7,438.2 85.3,491.3 77.9,479.1 85.5,452 77,470.5 84.7,453.7 80.4,431.1 87.1,455.6 87.5,437.8 67.1,472.3 71.2,449.8 77.4,445.4 75.1,463.4 79.4,461.5 69.4,439.3 82.7,442 85,449.2 71.9,445.1 89.6,457.6 85.2,464.2 72.7,459.5 71.5,468.4 83.5,441.4 80.5,442.9 83.4,442.5 76.4,464.8 71.1,458.9 78.1,464.4 81.9,456.5 76.2,440.4 76.6,486.2 73.4,464.7 82.2,468.3 76.4,459.2 83.7,444.7 70,444.5 68.9,470.9 85.8,450.1 75,468.3 63.2,473.8 70.4,464.9 86.4,474.1 76.2,471.8 71.9,455.7 76.8,473.7 71.7,467.3 92.1,463.1 65.6,439.2 64.2,470.2 77.4,450.3 75.6,441.3 72.3,456.4 83.2,443 71,450.2 81.1,464.2 64.6,439.2 75.8,445.8 85,443 88.1,469.9 77.1,442.5 65.5,456.6 73.3,447.1 86.8,462.2 84.5,445.8 66.9,422 64,441 77.9,477.1 72.8,438 75.8,464.7 73,467.5 64.2,440.3 63.6,460.5 80.5,473.5 68.2,427.6 72,434.5 71.3,462.5 85.4,434.5 73.9,447.6 75.8,458 75.6,475.7 69.3,439 70.5,452.3 74.8,473.8 73.6,450.2 69.2,460.4 71,446.3 67.8,437.3 76.2,443.3 74.2,474.3 68,461.8 72.7,449.9 91.8,438.2 89.2,449.2 83.4,454.6 78.5,465.9 83.6,458.2 70.4,458.5 71.2,480.2 74.2,428.2 71,465.7 82,463.1 87.9,452.9 64,439.6 84.2,449 79.7,461.1 68.3,419.3 72.2,475.8 75.8,420.1 79.6,452.9 78.1,463.2 79.8,460 74,450.1 76.1,463 72.9,468.1 81.1,479.3 80.9,443 73.4,438.9 79.2,434.3 90.4,452.9 67.5,446.1 81.9,449.8 68.4,427 74.5,425.8 89,431.5 80.4,472.9 69.9,448.4 73,458.2 80.1,463.9 85.6,440.9 81,440.5 70.6,459.3 77.8,456.6 72.6,422.2 86.5,484 74.4,469.7 68,453.9 71.8,468.8 67.9,460.2 93.7,488.3 78.1,437.6 77,477.4 79.1,472.9 88.3,431.7 91.5,456.1 77.7,479.3 82,475.3 67,458 72.3,442 66.7,471.2 70.5,486.1 83.3,478 65.6,440.5 83.7,465.3 80.3,437.1 71.5,433.9 66.4,461.4 74.7,444.5 78.3,450.2 66.3,449.7 78.3,451.7 68.6,465.6 71.8,486.6 65.5,452.2 77.8,470.9 75.8,443.9 74.3,446 77,471.4 72.7,433.3 83.6,467.3 85.9,450.1 83.2,445.3 75.1,451.8 74.3,472.7 72.4,449.2 79.9,439.2 77.5,458.1 71.9,456 74.5,460.6 83.8,440.6 77.6,452.2 71.2,433.2 79.5,479.4 68.3,456.6 73.3,469 70.1,461.8 75.6,444.1 79,486.3" fill="none" stroke="none" marker-start="url(#m134)" marker-mid="url(#m134)" marker-end="url(#m134)"/><polyline points="89.8,426.3 89.5,416.8 85.4,401.5 79.5,414.7 87.8,411.5 80,483.4 76.7,412 92.1,448 85.3,411.9 85.5,423.7 93.2,398.3 87.2,452.6 86.9,427.5 87.4,406.5 87.7,431.2 84.2,404.9 79.9,414.1 82,415.6 93.5,392.3 76.8,451.5 75.1,427 86.6,469.2 92.5,439.5 74.6,409.2 94.3,453.9 82.9,415.2 89.4,481.3 88.8,423.5 81.3,406.4 78.8,406.3 90.7,419.2 86.3,407 86.5,402.6 88.1,408.7 92.4,429.8 87.6,398.6 90.6,429.2 91,443 93.3,461 87.9,459.1 93.5,443.3 84.7,407.2 89.1,414 92,399.8 90.6,402.2 89.8,427.3" fill="none" stroke="none" marker-start="url(#m135)" marker-mid="url(#m135)" marker-end="url(#m135)"/><polyline points="66.7,456.3 59.3,497.2 60.3,445.9 60.4,442.7 59.1,442.7 58.1,479.5 58.8,479.1 59,468.1 58.1,448.4 57,445.1 59,470.6 58.9,467.6 60.6,444 58,470.6 58.8,448.1 56.9,455.4 57.9,478.4 57.1,442.7 61.4,459 58.3,471.7 57.1,456.2 57.4,456.5 56.6,446.5 59.3,452.9 57.7,454.5 58.7,477.2 56.8,453.7 55.9,458.7 57.7,462.8 58.2,460 57.6,458.3 57.7,466.2 59.9,463.2 61.5,448.1 59.4,485.7 59.8,499.2 59,449.2 59.3,450.8 61.8,451.6 58.6,443.8 58.3,456.2 60.2,439 59.4,479.2 58.5,469.7 60.2,461.4 58.6,482.9 62,473.4 59,468.4 60,460.7 57.4,453.7 58.7,457.3 63.8,441.9 60.4,493.8 59.6,457.2 59.8,484 58.1,479.7 58.2,445.6 58.1,448.5 58,467.2 59.2,461.8 60.1,462.2 58.9,461.7 60,460.8 61.1,491.3 58,447.9 61.2,475.7 58.4,440.6 60,454.3 59.2,436.4 59.9,489.8 57.3,471.7 59.2,445.5 59.6,502.2 58.5,480.4 60.3,460.5 57.5,462.3 57.4,470.3 59.8,471.7 59.8,445.1 60.4,462.7 59.8,486.8 63.3,463.2 59.5,496.1 59.2,449.7 57.5,456.2 58.1,469 57.7,456.3 58.4,473.3 59.9,440.9 56.8,465.1 58.8,446.4 59.3,454.1 62.5,445.8 58.1,472.2 59.8,463.1 58.6,483.8 60,493.7 56.9,448.1 59.7,454.5 58.7,447.3 55.6,452.6" fill="none" stroke="none" marker-start="url(#m136)" marker-mid="url(#m136)" marker-end="url(#m136)"/><polyline points="162.7,441.3 108,412.5 138.2,441.4 140.6,402.1 94.6,465 148.1,415.7 135,395 99.8,462.3 148.1,468.5 98.6,417.4 131.7,395.2 152,421.4 117.4,448.7 152.7,463 108.2,415.5 115,428.1 142.1,442.6 120.7,470.6 136.5,413.9 112.3,470.7 95.1,427.3 116.1,426.2 128.4,482.1 148.7,430.8 123,418 133.4,475.2 164.1,425.6 142.9,415.6 144.4,432.9 108.4,422 113.2,427.9 103.7,443 98.5,420.6 146.4,432.2 103.4,470.4 124.6,463.7 104,438.8 108.3,456.7 112.2,461 127.5,441.3 115.1,465.7 117.7,431.8 97,417.8 114.4,456.9 125.1,410.9 126.3,466.3 159.1,435.7 126.1,431 102.9,458.6 108.9,444 115,446 126.1,386.6 164.3,405.9 155.2,454 154.1,416.7 147,414.5 113.3,477.8 121.4,403.9 143.1,454.8 118.8,466.3 163.7,418.6 110,421.4 127.4,412 136.3,436.7 142.8,447.5 143.9,458.5 125.3,476.8 115.8,454.5 122.2,418.1 124,425.9 116.4,417.4 99.4,394.1 137.9,387.4 134.9,442.3 150.5,409.6 101.3,421.2 125.7,455.5 109.7,453.5 130.9,463 101,448.4 105.6,475 116.6,455.3 110.9,416.4 102.6,429 165,413.1 116.4,469.9 101.3,422.9 163.6,468 147.1,418.3 146.7,424 136.2,407.9 106.6,425 131,404.5 104.5,437 136.7,449.6 99.9,433.1 149.5,389.5 107.4,392.7 131.8,406.9 104.4,390.2 113.9,483.5 114.8,428.9 111.4,466.9 139.1,429.1 105.5,445.7 102.7,467.2 129,402.3 140.8,463.8 104.4,420.9 126.1,417.8 130,448.5 114.1,435.1 140.3,463.9 98.4,452.3 99.7,433 121.9,427.7 117.9,442.3 100.9,434.3 125.3,446.4 108,450.8 110.5,426.3 104.3,454.5 105.5,453 94.4,467.4 97.3,431.2 127,437.7 123.5,435.5 133.7,444.6 119.1,458 114.9,418.8 136.4,433.8 143.6,413.9 129,442.6 100.1,424.5 154.2,425.4 126.5,394.1 121.7,417.9 108.2,434.8 109.8,444.8 117.8,434.7 128.4,442.5 153.5,421 164.6,460.2 133.7,410.9 106,451.2 151.3,425.1 126.7,470.2 137.7,439.7 134,442.7 146.1,447.9 117.5,465.7 120.4,431.1 131.2,463.5 131.8,414.8 106.8,419.3 131.1,422.9 107.3,442.7 146.7,422.9 102.4,414.5 104.6,403.2 136.8,437.8 120.6,398.9 133.5,423.4 116.7,467.2 139.7,401 110,402.5 113.4,426.3 107.2,436.8 131.6,463.1 148.1,392.4 100.4,427.1 137.1,424.8 141.5,393 106,430.1 103.3,409.5 104.6,395 153.6,469.2 135.9,453.2 102.5,431.9 101.9,439.2 154.2,400.1 107.7,460.7 110.6,418.3 111.3,456.8 142.7,407 119.9,420.2 98.6,467.6 125.3,441.6 118.9,474.7 101.6,426.2 125.8,416.5 97.5,445.9 104.8,395.8 103.2,438.5 105,455.6 101.4,429.4 97.9,453.6 136.9,461.2 107,468.6 110.3,437.1 119.5,418.9 95.5,391.7 108.8,407.6 123.5,437.6 153.3,424 123.1,478.4 147.1,476.7 121.4,426.3 120.5,458.8 142.5,449.9 119.8,483 95.5,411.3 107.8,448.1 117.5,448.3 111.4,438.3 141.5,422.6 133.6,445.5 157.2,461.1 146.7,467.2 131.4,456.5 149.4,473.5" fill="none" stroke="none" marker-start="url(#m137)" marker-mid="url(#m137)" marker-end="url(#m137)"/><polyline points="98.2,396.9 144.5,447.3 125.3,470.6 160.6,409.2 145,449.7 106.3,455.9 109.1,420.5 144.4,393.1 98.7,413.8 95.2,450.4 138.9,448.7 115.9,388.6 130.9,441.2 96.2,403.7 146.5,467.3 98.7,407 133,425.7 118.1,395.2 109.4,435 146.3,433 144,432.3 159,448 126,431.8 145.9,450.6 111.9,430.2 107.5,431.2 102.1,445.8 115.7,454.8 110.6,423.7 129.4,472 139.1,433.9 110.5,445.9 152.3,439.3 151.7,424 125.4,423.5 146.2,407.3 124.9,478.1 105.8,455.9 133.7,416.3 128.5,460.9 127,404.1 128.3,410.6 108.2,472.1 139.4,411.4 99.7,395.5 121.6,436 124.9,430.3 100.3,435.5 120.9,435.4 135.5,401.9 155.5,386 144.7,463.8 107,451.6 126.4,452.3 97.1,417.7 147.2,395.8 142.9,472.5 119.8,443.9 122,446.2 133.7,425.7 96.8,443.1 131.5,442.9 143.1,468.3 105.6,446.2 94.8,457.5 125.9,446.5 130,395.2 112.2,446.5 115.6,402.7 156.4,459.2 119.2,414.6 133.5,409.9 156,405.3 124.5,464.1 131,468.6 154.5,462.6 115.5,427.1 110.4,452.5 105.9,390.9 143.8,442.5 97.3,471.5 119.2,458.8 111.1,457 116.2,473.1 132.8,408.4 147,425.9 120,411 163.6,395.4 108.2,439.4 131,419.6 105.8,434.7 99.6,406 142.6,397.4 133.4,445.4 113,413.6 124.8,425.4 119.8,456.2 136.7,438.5 127.4,406.1 132.2,447.1 109.4,465.3 155.6,453.9 160.2,432.5 140.8,445.7 96.9,420.3 132,430.8 115.9,426.6 110.8,445.4 152.1,396 99.5,427.1 107.4,475.4 98.6,426 115.2,438.8 164.5,473.3 106.6,420 132.3,463.8 152.8,422.9 115.7,429.7 107.9,423.2 107.2,468.8 94.6,432.8 101.2,421.2 115.2,433.9 101.5,475.4 147.9,434.6 134,451.6 103,428.2 112.1,424.8 145.9,421.1 133.8,434.3 101.1,451.1 136.4,416.9 115,451.4 113.8,422.6 94.5,398.5 137.1,471.5 113,390.8 165.5,473.7 111.8,416.5 118.8,431.3 145.8,472.8 146.5,436.3 122.1,411.7 145.2,387.7 133.6,422.9 157.5,447.5 139.2,421 119,388.9 118.5,408.3 155.1,439.1 118.4,400.4 159.8,388.7 112.2,456.8 133.8,436.3 120,459.3 135.2,452.8 129.5,428.5 99.5,412 131.4,457.4 146.9,424.9 114.4,439.3 137.6,434.9 128.8,428.7 109.7,478.7 141.1,391.1 124.8,442.7 147.1,400.5 107.1,431.7 108.6,446.6 114.1,446.1 152.5,422.9 120.9,432.8 149.6,446.3 120.5,465.7 130.2,407.8 160.2,425.5 95.6,433.2 96,422.7 123.8,405.5 100,404.7 115,401.7 156.7,473.8 129.3,473.8 115,427.6 107.1,393.2 125.2,450 120.8,440.3 133.6,448.2 108.3,443.5 101.5,411.3 105.8,440 142.3,477 151.7,474.6 151.9,391.3 130.1,413.4 106.5,463.1 105.5,445.4 108.5,454.3 163.2,386.9 111.5,412.4 131.9,446.5 135.2,403.6 98,420.4 116.9,404.2 132.3,455.6 122,425.8 135.4,414.9 164.8,397.1 126.2,461.1 99.5,485.5 101.7,422.6 110.6,405.3 100,476.3 151.5,450.5 125.4,409.1 129.3,450.1 118,430.7 129.3,448.7 102,427.4 133.5,474 101,411 97.6,398.2 117.1,430 153.8,458.7 124.4,423.6 137.1,434.5 134.8,443.1 136.7,422.8 98.4,431.8 110.6,465.1 147.8,441.2 125.5,444 96.3,431 142.4,424.2 154.2,434.8 97.9,469.7 122,453.5 118.8,456.1 156.7,467 146.6,427.2 119.6,477 111.4,445.6 143.1,395.9 106.2,408.2 115.3,430.5 109.9,434.8 100.9,409.4 107.7,467.4 116.9,441.6 97.3,426.9 122.8,438.9 122.5,451 119.9,399.5 131.3,443.3 107.1,447.8 116.5,409.1 152.5,437.9 123.7,462 165.5,395.4 108.8,426.3 109,466 114.4,452.5 161,386 153.7,468.6 126.7,386.3 165.2,423 125.8,425.2 120.5,444.5 136.2,477 133.9,459.7 138.6,464.5 100.4,455.1 104.7,415.1 113,454.2 133.6,439.1 114.7,431.3 114.1,396.9 139.5,465.8 115.3,389.4 124.9,442.6 110.5,465.2 129.8,434.7 145.7,441.1 145.7,471.8 137.9,432.3 125.1,411.9 141,441.1 104.4,443.1 101.1,395.6 107.3,443.8 96.9,396.2 138.7,413.8 106.9,442.3 127.5,422.5 110.2,408.8 124.5,449.7 159.3,455.2 163.8,424.1 127,481.1 106.2,430.4 138.9,440.7 140.1,439.6 105,404.5" fill="none" stroke="none" marker-start="url(#m138)" marker-mid="url(#m138)" marker-end="url(#m138)"/><polyline points="55.8,470.6 58.5,485.4 57.7,491.9 58.8,486.5 55.3,470.8 55,448.6 54.9,492.3 58.7,487.9 56.5,492.6 55.7,479.3 55.8,447.2 55.5,490.9 55.1,450.3 55.4,491.5 56.7,457.4 55,479.2 55.7,482.3 55.1,474.8 58.7,486.6 55,450 59.2,484.8 57,461.7 55.7,464.5 55.6,457.4 55.4,449.4 56.7,493.7 56.9,470.1 57.6,487.6 54.9,481.9 54.9,480.7 55.3,449.1 57.4,486.3 55.4,473.2 56.8,493.4 55.9,479.3 55.2,468.3 55.5,479.8 54.9,480.3 55.8,492 59,486.3 55.3,446.1 55,467.9 55.8,470.3" fill="none" stroke="none" marker-start="url(#m139)" marker-mid="url(#m139)" marker-end="url(#m139)"/><polyline points="93.5,487.1 82.7,419.8 90.5,403.3 81.1,415.2 86.1,406.7 78,435.4 87.2,398.2 89.6,405.2 92.3,403.1 82.6,418.3 84.8,427.8 86.9,435 93.7,460.9 85.7,418.1 92.3,477.1 92.6,412.7 83.7,468.8 90.2,420 82.8,430.4 85.8,399.3 90,392.5 83.1,424.7 91.8,409.5 92.5,443.1 76.4,413.9 91.7,425.8 90.9,425.7 76,418.7 92.4,399.1 79.2,411.9 89.1,455.5 93.3,412.2 92.4,442.4 88.1,488.4 90.5,416 91.3,450.1 79.7,403.7 89.1,412.7 83.6,432.2 89.4,472.6 92.7,407.3" fill="none" stroke="none" marker-start="url(#m140)" marker-mid="url(#m140)" marker-end="url(#m140)"/><polyline points="135.5,454.6 151.9,444.7 110,453.3 113.9,440.1 106.7,442.9 104.4,430.9 120.2,437.1 98.2,435.7 128.6,464.3 107.4,466.8 97.2,463 127.9,461 133.8,476.8 95.4,441.9 103.4,440.7 122.1,440.3 104,467.2 123.7,479 97.6,454.3 116.8,466.7 101.8,459.9 104.4,466.3 100.7,473.4 132,435 105.1,458.6 94.9,474.9 102.9,428.9 109.1,449.1 96.4,443.6 129.4,455.7 119.9,466.3 102.8,454.7 132.8,451 98.5,485.4 104.6,431.9 104.9,435.4 104.2,461.9 119.1,449.6 106.4,440.1 107.3,440.5 99,430.6 99.7,469.4 161.9,470.6 98.6,444.7 113.1,461.6 95.7,443.2 107.1,439.6 96.4,447.1 96.5,481.5 114.5,467.3 99.5,451.4 115.8,475.9 94.4,442.2 96.7,434.4 100.6,470.8 109.6,441 95.4,472.5 95,453.5 130.2,475.7 117.2,439 97.4,435.1 106.9,437.7 100.4,446.3 94.6,453.8 101.4,427.4 155.8,436.2 104.1,458.3 97.4,439.8 94.7,464.5 98.8,484.3 95.5,478 107.7,454 95.3,472.4 133.1,431.2 98,455.1 148.3,478.9 100.4,435.7 101.9,434.5 98.8,461.9 98.6,439.3 139,474 114.9,473.5 103.9,446.3 94.5,459.9 107.2,425.4 100.5,457 100.3,453.6 102.4,467.7 99.7,461.6 125.6,473.6 99.7,441.1 107.5,433 103.2,472 164.1,428.6 130.9,418.4 94.6,445.3 101.6,444.3 112.6,470.7 102.1,451 129.1,448 102.3,436.9 104.4,467.6 104.9,447.3 99.8,452.7 144.3,469.5 101.8,452.4 136.5,474.6 113.5,452 102,428.3 105.7,436.4 106.3,475.8 96,442.8 112.2,460.9 120.8,456.8 107.4,449.7 120.1,441.7 101.8,487.2 101.8,456.8 106.8,446.1 103.2,432.5 107.5,439.9 96.7,444.7 105.9,437.8 134,414.6 105.4,477.4 153.6,477.7 95.2,462.9 98.1,443.4 100.5,435.4 110.5,473.7 101.3,454.9 100.1,464.7 102.7,419.4 125.4,441.1 120.9,470.7 94.4,464.1 111.2,456.8 95.3,437.3 124.7,426.1 106.1,440.9 106.2,440.3 111.9,457.7 95.6,478.3 125.2,429.9 133.3,447.2 95,460.8 99.5,451.8 119.5,433.9 99.3,447.7 130,443.2 105.1,452.2 115.9,472.4 95,438.5 103.3,471.3 95,470 130.7,427.7 107.1,457.3 96.8,463.6 94.8,445.7 96.7,449.3 146.6,463.5 135.1,431.7 97.3,483.4 95.7,461.5 147.8,444 94.7,436.6 102.2,434.3 108.7,483.1 95.3,480 104,450.8 122.5,449.4 101,466.2 107.1,456.1 110.3,484.7 99.5,430.1 103.7,470.3 105.1,444.4 99.6,435.6 121.7,430.5 95.5,451.8 104.8,455.4 130.1,454.5 101.6,458.9 97.2,434.7 112,430.5 153.3,417.6 98.9,442.5 96,484.7 101.7,427 99.9,442 119.3,445 98.3,439.2 94.3,470.5 150.3,449.9 97.4,444.4 96.7,458.3 112.9,468.7 128.3,456 105.7,447.2 136.6,420.7 101.6,450.3 159.9,467.4 96.4,466.9 103,430" fill="none" stroke="none" marker-start="url(#m141)" marker-mid="url(#m141)" marker-end="url(#m141)"/><polyline points="58.3,504.1 57.4,497.3 59.2,499.1 57.3,494.6 57.8,502.8 59.3,495.5 55.8,503.5 57.2,501.9 57.6,502.3 56.1,496.2 59.1,498.8 57,496 57.5,498.2 55.4,503.4 57.7,499.6" fill="none" stroke="none" marker-start="url(#m142)" marker-mid="url(#m142)" marker-end="url(#m142)"/><polyline points="56,446.2 57.6,447.3 58.7,470 58.2,483.6 56.7,456.3 57.2,452.5 57.5,446.9 57.1,471.5 56.6,470.9 56.8,464.9 57.1,453.6 58.5,453 57.8,457.5 56.7,469.3 54.9,463 56.4,478.1 55.6,451.2 56.5,448.1 56.9,478.9 56.2,480.4 57.8,459.2 56.6,448.5 56.1,481.4 56.7,465.6 57.2,476.7 55.8,465.8 58.3,474.7 56.8,441.5 57.5,461.5 57.9,481.4 57.6,468.8 57.4,452.7 57.2,464.4 54.9,493.4 58,461.7 57.5,471.7 56.7,456.8 55.7,482.3 57.8,456.3 55.3,462.8 56.5,469.8 56.2,468.7 57.7,468.6 57.1,457 58.7,480.8 55.7,479.8 56.3,450.2 56.2,480.5 57.6,443.5 56.3,455.8 57.3,458 56.3,471.3 58.2,478 56.2,446.6 56.5,465.7 57.9,454.6 55.4,477.6 57,478.3 56.5,446.1 57.9,477.6 57.5,478.1 55.8,469.2 57,465 55.6,483.7 57.3,448.2 56.6,458.6 57.5,476.4 55.9,475.9 55.9,480.6 57.6,451.9 58.1,475.5 55.7,455.8 56.1,471.3 58.4,468.9 56,444.6 58.2,469.6 56.8,446.4 56.9,451.7 56.9,448.8 56.4,479.4 57.7,446.5 55.5,446.1 57.7,458.7 56.4,482.8" fill="none" stroke="none" marker-start="url(#m143)" marker-mid="url(#m143)" marker-end="url(#m143)"/><polyline points="61.8,444.9 62.9,469 62.9,460 67.8,449.2 67.3,476.5 69,440.3 62.3,456.9 59.7,478.6 59.2,446.6 59.4,476.9 61.1,437 64.5,441.7 71.2,460.9 67.5,446.3 66.4,435.9 63.8,474.3 60,495.8 64,460.2 76.3,466 61.8,462.9 63,448.7 62.1,441.6 63.2,448.7 72.9,442.8 59.9,465.9 61.3,446.8 68.1,448.7 84.2,452.1 64.3,463.2 66.5,452.9 71.1,427.3 61.7,431.5 68.8,454.2 64.9,480.9 68.5,445.7 79.1,456.6 65.3,462.9 62.3,451.1 61.1,434.7 62.7,458.9 70.2,463.4 74.4,445.9 72.7,458.9 62.7,470.3 68.6,474.5 70.1,458.2 65.7,469.7 62.2,491 60.2,455.3 66.7,466.7 65.8,465.9 64.7,440.7 64.5,482.9 79.6,436.9 72.2,463.4 60.7,435.1 59.3,436.5 68.1,449.6 60.7,475.1 83.1,460.8 68.7,495.3 60.9,439.5 59.4,456.9 61.5,458.1 60.3,439.4 59.9,475.9 66.9,468.1 61.4,444.6 59.3,473 59.8,450.7 73.5,471.3 68.4,455.8 65,464.4 60.4,436 73.9,482.5 61.6,460 58.9,457.8 68.5,483.4 63,452.6 62,459.3 59.3,478.7 59.3,461.6 63.5,458.1 72.1,435.3 61.1,449.6 59.9,487.5 64.8,481.2 62.1,467.1 60.1,446.9 58.8,453.8 69.8,461.3 63.9,432.5 66.4,475.6 59.9,482.2 63.7,440.6 61.9,452.5 68.9,459.7 70.2,474.8 61.9,479 62.6,458 66.8,465.3 69.7,467.1 66.9,462.9 61.4,433 64.6,454.6 64.6,456.3 69.5,433.9 73.7,427.8 62.7,440.3 71.2,469.1 63.9,455.1 72.6,445.1 67,467.9 61.3,474.2 65.1,465.8 66.4,460.5 60.5,441 60.4,475.4 64,457.4 61.1,453.6 63.8,449.4 73.1,465 60.8,465.9 65.1,451.6 63.2,473.9 71.5,454.9 62.3,450.1 61.9,472 62.1,431.2 67.6,465.7 59.9,475.3 64,472.3 60.1,481.5 64.5,456.1 64.5,462.6 83.6,471.9 64.9,461.6 68.7,468 59.5,476.9 72.4,472.5 61.6,459.1 59.9,498.1 67.1,452.8 60.1,486.4 85.1,489.2 62,449.3 66.7,438.7 62.2,458.4 60,466.5 58.9,445.4 63.5,451.9 68.8,446.7 63.4,439.3 62.6,476.2 71,450.3 60.1,482 70.4,453 65.1,443.8 66.7,428 64.8,458.8 66.9,460.6 68.9,446.9 69.5,476.6 65.2,456.4 61.8,474.8 61.9,470.2 63.9,470.2 61,448.6 61.5,472.3 66.5,480.4 65.9,447.5 70.4,467 64.5,442.2 66.2,443.6 67.1,453.6 62.6,443.1 71.8,471.8 59.6,467.1 67.1,484.9 63.8,452.6 62.5,466.7 61.4,447.2 68.7,438.2 63,431.5 65.4,473.2" fill="none" stroke="none" marker-start="url(#m144)" marker-mid="url(#m144)" marker-end="url(#m144)"/><polyline points="129,466.7 153.9,454.1 98.8,442 160.4,455.4 104.5,427.3 125.9,453 111.8,438.8 101.7,433.6 113.4,459.5 123.3,462.2 129.3,422.2 101.2,459 126,456.6 110.6,411.1 152.5,441.1 103.3,472.1 116.8,461.5 128.7,427.2 119.3,443.4 119.9,454.7 99.9,432.2 138,467.7 94.4,486.5 126.4,474.3 113,482 114.2,421.6 135.1,460.9 122.7,430.6 105.6,447.9 100.6,418.3 112.1,474.2 105.1,453.3 100.4,459.1 96.7,410.7 142.5,420.1 143.8,440.2 119.9,463.1 102.7,458.7 113.6,452.4 99.1,466.9 119.2,433.3 117.3,449.7 98.1,452.7 109.9,461.1 129.7,440 99.1,435.8 115.1,435.8 97.3,478 112.9,426.9 138.8,454.1 134.4,440.7 112.4,450.6 121.4,437.2 129.7,445.3 117.9,467 108.3,412.2 115.6,438.2 100.2,473.6 110.2,448.6 95.1,458.5 116.2,437.5 100.4,429.5 106.6,436.9 126.1,459.9 122.8,481.7 103.8,440.7 109.9,421.1 95.9,467.9" fill="none" stroke="none" marker-start="url(#m145)" marker-mid="url(#m145)" marker-end="url(#m145)"/><polyline points="85.7,436.6 87.4,471.6 92.8,463.9 93.9,433.3 85.9,440.3 88.7,452.3 83.4,410.7 88.7,452.9 88.5,458.8 79.1,433 85.6,437.9 81.9,435.2 92.7,467.6 85.3,445.2 90.2,436.2 85.1,411.5 76.1,408.2 80.9,420.9 90.9,431.1 86.3,401.9 84,456.1 87.3,413.9 84.6,460.8 84.4,430.5 93.2,469.2 84.8,410.2 78.6,423.2 89.1,447.4 78.4,431.8 93.8,429.7 79.5,414.6 93.2,457.2 92.6,427.2 80.8,425.9 88.5,433.9 80.5,409.8 86.8,401.5 89.3,443.6 88.9,443.9 88.3,455.6 76,471.1 85.8,442.3 92.2,434" fill="none" stroke="none" marker-start="url(#m146)" marker-mid="url(#m146)" marker-end="url(#m146)"/><polyline points="58.3,499 55.6,503 55.4,498 55.6,497.8 58,497.5 55.5,498.5 58.7,501.7 58.2,498.4 55,494 55.3,502.6 55.2,499" fill="none" stroke="none" marker-start="url(#m147)" marker-mid="url(#m147)" marker-end="url(#m147)"/><polyline points="55.9,484.1 55.9,491.5 57.9,490.4 55.2,498 57.1,494.7 58.3,494.3 57.4,498.7 56.2,489.2 56.3,486.8 55.5,498.2 56.9,501.4 58.1,500.1 55.7,490 55.4,498.5" fill="none" stroke="none" marker-start="url(#m148)" marker-mid="url(#m148)" marker-end="url(#m148)"/><polyline points="98.2,443 96.2,446.7 95.2,466 102.4,442.7 95.5,450.6 96,478.1 101.7,474.1 117.9,462 100.7,436.1 105.6,442.7 98.5,471.2 101.4,442.9 94.8,469.5 97.2,461.7 120.6,447.7 95.8,438 108.8,442.5 101.1,476.3 107.1,455.4 98.8,440.8" fill="none" stroke="none" marker-start="url(#m149)" marker-mid="url(#m149)" marker-end="url(#m149)"/><polyline points="55.1,487.7 55.2,457 55,492 55.6,492.5 56.9,489.4 57.6,495.9 55.3,446.6 54.9,495.2 55.1,463.9 56.4,489.2" fill="none" stroke="none" marker-start="url(#m150)" marker-mid="url(#m150)" marker-end="url(#m150)"/><polyline points="56.7,499.7 55.4,496.3 55.9,501.4 54.9,494.2 56.7,502 58.2,494.7 55.9,501.6 56.5,504.1 57.7,498.4" fill="none" stroke="none" marker-start="url(#m151)" marker-mid="url(#m151)" marker-end="url(#m151)"/><polyline points="57.5,502.5 58.6,485.5 55.3,494.9 58.8,499.6 56.9,486.9 59,486.9 58.6,494.3 56.1,484.3 59.3,485.1 57.4,498.8" fill="none" stroke="none" marker-start="url(#m152)" marker-mid="url(#m152)" marker-end="url(#m152)"/><polyline points="61.5,502.6 66.2,486.1 58.1,494.5 78.7,504.5 62.4,496.4 61,503 57.6,493.2 66.2,491.7 67.4,501.6 64.2,493.9 60.4,490.4 68.3,497.3 59.1,497.5 65.7,487.5" fill="none" stroke="none" marker-start="url(#m153)" marker-mid="url(#m153)" marker-end="url(#m153)"/><polyline points="76.7,494 58.2,493.1 76.8,488 77,503.6 74,489.7 59.8,502.3" fill="none" stroke="none" marker-start="url(#m154)" marker-mid="url(#m154)" marker-end="url(#m154)"/><polyline points="62.8,487.6 64.4,503.8 58.6,488.9 58.9,490.9 58.1,497.7 71.6,499.4 84.6,500.7 63.4,488.1 60.5,490.3 63.4,500.5 79.9,490.7 72.4,500.6 67.2,492 70.4,502.7 81.6,486 64.8,491.5 65.1,494.4 69.8,501.5 64.9,504.8 57.3,492.7 62.1,496.4" fill="none" stroke="none" marker-start="url(#m155)" marker-mid="url(#m155)" marker-end="url(#m155)"/><polyline points="74,489.7 61.5,500 66,497.7 69.5,486.9" fill="none" stroke="none" marker-start="url(#m156)" marker-mid="url(#m156)" marker-end="url(#m156)"/><polyline points="243.9,461.5 237.2,473.8 228.5,483.3 233.8,422.2 243.8,451.7 245.8,395.2 222.7,387.2 238.1,473.7 239.3,446.7 243.3,451.5 231.9,423.5 214.5,477.3 234.1,409 230.3,414 214.6,422.5 235.5,389.4 233.1,428.5 236.6,462.5 242.8,425.5 230.1,384.3 244.2,434.2 230,424.9 217.2,384.8 243.1,453.2 229.5,389.4 215.7,426.1 218.6,418.5 218.8,433.1 239.6,410.7 232.4,407.7 232.4,420.1 222.7,389.6 223.9,448.9 236.2,482.7 218.1,476.9 243.4,451.7 227,448.8 214.7,450.5 226.8,419.1 229.7,466.9 216.1,388.9 219.6,452 224.6,436.9 226,478.5 217.7,417.5" fill="none" stroke="none" marker-start="url(#m157)" marker-mid="url(#m157)" marker-end="url(#m157)"/><polyline points="215.3,432 215.8,464.7 225.8,428.5 217.7,453.4 251.5,456.1 230,463.5 245.5,444.7 250.4,396.6 220.1,398.6 215.6,426.7 248.1,398.1 250.5,437.5 216.6,412.2 225.3,393.1 216,418.9 254.4,470.7 243.6,435.9 243.5,390.4 234.4,478.2 232.9,423.8 221.2,390.3 230.1,451.1 217.4,448.3 231.7,454.6 230.8,470.8 239.5,468.3 215,484.5 249.5,429.7 225.9,401.8 216.4,420.2 247.4,467.2 217.5,423.6 231.4,453.6 252.3,420.1 235.9,477.8 242.4,477.4 216.9,398.8 248.8,412.9 221.4,418" fill="none" stroke="none" marker-start="url(#m158)" marker-mid="url(#m158)" marker-end="url(#m158)"/><polyline points="220,462 221.4,465.4 243.1,417.3 214.2,446.7 243.6,410.5 237,470 215.4,478.1 251.7,457 221.9,483 221.7,423.9 233.6,422 226,460.3 217,402 241.2,470.2 245.2,388.6 223.5,406.3 226.4,398.9 219,387.4 228.3,398.2 223.7,437 217.3,471.2 228.3,457.2 220.4,474.4 223.5,419.4 235.7,441.4 225.7,401.4" fill="none" stroke="none" marker-start="url(#m159)" marker-mid="url(#m159)" marker-end="url(#m159)"/><polyline points="274.8,451.3 241.1,444.2 286.4,457.4 296.8,453.9 296.5,413.7 272.3,384.6 263,427.7 283.3,447 251.1,403.5 293.4,478.5 290.7,430.5 285.8,421.1 260.4,445.8 241.9,476 306.9,399.6 308.5,478.1 274.3,436.4 295.7,444.7 282.5,441.7 278.9,453.1 270.1,408.2 286.9,467.4 255.7,404.1 299.3,387.2 251,464.8 275.1,448.1 303.7,426.6 303,417.1 259.3,463.2 295.1,420.8 249,474 267.8,467.8 269.5,452.2 242.8,442.5 244.1,420.1 294.7,395 283.8,462.9 294.7,429.3 295.8,424.8 289,407" fill="none" stroke="none" marker-start="url(#m160)" marker-mid="url(#m160)" marker-end="url(#m160)"/><polyline points="272.8,398.8 310.9,451.6 248,440.5 244.7,404.8 253.7,479 271.2,406 261.1,388.6 285.4,459.1 307.4,396.5 254.4,477.2 267,472.9 311.4,384.1 299.4,441.7" fill="none" stroke="none" marker-start="url(#m161)" marker-mid="url(#m161)" marker-end="url(#m161)"/><polyline points="306.4,441.5 308.4,393 281.3,406.9 264.3,468.6 243.4,446.6 253,465.4 292.7,457.5 268.8,426.2 292,405.6 289.7,389.3 294.8,469.5 296.1,453.3 314.7,481.4 260.9,385.6 301.6,484.7 256.6,434.8 259.9,397.4 305.5,414.7 301.9,413.5 315.2,392.3 257.7,414.1 280.2,450.6 251.3,466.6 256.9,403.2 241.3,477.5 251.7,428 283.7,475.1 274.1,447.9 257.2,429.7 311.2,407.9 303.1,417.2 252,482.6 269.6,480.1" fill="none" stroke="none" marker-start="url(#m162)" marker-mid="url(#m162)" marker-end="url(#m162)"/><polyline points="243.4,389.3 322.5,481.9 311.8,395.3 266.5,482.6 284.5,447.6 304,418.5 266.4,402.8 320.8,437.7 323.6,445.5 248.7,427.8 316.3,387.7 261.7,424.1 259.5,418.2 311.1,469.4 246.4,414.8 300.7,463.7" fill="none" stroke="none" marker-start="url(#m163)" marker-mid="url(#m163)" marker-end="url(#m163)"/><polyline points="320.8,427 315.1,471.2 312.3,437.5 317.3,470.3 318.5,476.9" fill="none" stroke="none" marker-start="url(#m164)" marker-mid="url(#m164)" marker-end="url(#m164)"/><polyline points="314.4,385.9 259.4,438.1 265.3,404.5 319.9,460.2 273.2,433.5 279.5,434.3 291.8,439 240.3,447.5 248.5,419.1 298.4,411.5 248.2,387.4 272,458.8 323.8,452 313.3,394.2 315.2,452.5 319.2,483.1 250.7,433.6 267.4,406.8 320.4,442.6 309.6,469.6" fill="none" stroke="none" marker-start="url(#m165)" marker-mid="url(#m165)" marker-end="url(#m165)"/><polyline points="317.8,442 317.6,446 315.2,458.8" fill="none" stroke="none" marker-start="url(#m166)" marker-mid="url(#m166)" marker-end="url(#m166)"/><polyline points="213.1,488.7 218.9,491.4 229.4,487.1 238.9,486.7 246.7,500.3 226.8,492.8 243.9,490.9 231.7,494.1 212.9,500.4 222.6,489.3 215.5,490.5 217.7,492.9 218.4,494.1 220.1,503.1 226.2,491.5 220.6,491.3 237.9,504.5 219.4,498 236.4,488 220.1,496.9 244.5,500.2" fill="none" stroke="none" marker-start="url(#m167)" marker-mid="url(#m167)" marker-end="url(#m167)"/><polyline points="219.1,492.8 243.6,504.4 235.7,492.6 224.6,493.8 219.8,499.9 227.4,495.3 239.9,494.8 213.8,500.4 214.4,499.7 232.8,498.5 226.5,502.9 216.9,503.1 239.1,503.1 219.9,497.1 219.9,497.2 220.3,495.9 239.7,491.9 239.3,489.3" fill="none" stroke="none" marker-start="url(#m168)" marker-mid="url(#m168)" marker-end="url(#m168)"/><polyline points="230.8,498.8 225.7,492.8 221.7,490.7 213.1,500.9 224.4,488.1 218.4,490.7 215.8,494.1 213.3,487.2 213.3,505.1 233.8,498.4 218.6,497.2" fill="none" stroke="none" marker-start="url(#m169)" marker-mid="url(#m169)" marker-end="url(#m169)"/><polyline points="243.1,503.8 317.2,489.8 309.9,496.6 229.3,493.2 277.5,489.1 232,488.4 230.3,493.4 265,496.3 241.3,505.2 279.8,491 308.3,500.4 239.7,490.3 229.1,501.6 248.5,500.2 247.5,493.5 249.3,497.3 228.8,490 245.9,499.4 279.5,499.2 235.1,488.8 230.6,492.5 309,488.1 240.2,495.7 238.4,493.9 308.4,488.4 282.1,500.4 294.1,492.3 275,498.4 301.6,499 268.2,501.5 240.1,504.2 247.6,501.8 248.3,498.4 323.5,503 299.8,495.4 225.3,491.9 295.5,504.1" fill="none" stroke="none" marker-start="url(#m170)" marker-mid="url(#m170)" marker-end="url(#m170)"/><polyline points="294.5,497.2 303.8,504.6 322.9,495.3 302.7,496 311,494.9 315,491.5 287.3,504.8 315.3,491.5" fill="none" stroke="none" marker-start="url(#m171)" marker-mid="url(#m171)" marker-end="url(#m171)"/><polyline points="224.6,480.6 215.7,488.7 219.4,502 219.5,491.2 221.5,480.6 216,488.1 223.7,484.6 217.7,501.4 225.6,499.9" fill="none" stroke="none" marker-start="url(#m172)" marker-mid="url(#m172)" marker-end="url(#m172)"/><polyline points="213.9,483.3 226.6,491.4 216.1,480.7 219,495.2 218.7,486.6 219.8,493.4 214,497 217.5,495.1 222.3,486.7 227.8,488.8 215.8,479.2 221.6,485.2 217.1,499 222.7,499.9 215.6,485.6 218.2,488.1" fill="none" stroke="none" marker-start="url(#m173)" marker-mid="url(#m173)" marker-end="url(#m173)"/><polyline points="220.4,497.4 225.8,491.3 218.9,495.8 221.6,480.9 221.2,489.6 227.3,483.7 225.5,491.6 218.5,487.9 227.7,499.1 218.8,496.5 226.6,493.1 214.8,496.8 223.6,482.6 222.6,500.4 227.2,481" fill="none" stroke="none" marker-start="url(#m174)" marker-mid="url(#m174)" marker-end="url(#m174)"/><polyline points="252,417 266,426" fill="none" stroke="none" marker-start="url(#m175)" marker-mid="url(#m175)" marker-end="url(#m175)"/><polyline points="247,428 290,455 300,472 251,480 263,481" fill="none" stroke="none" marker-start="url(#m176)" marker-mid="url(#m176)" marker-end="url(#m176)"/><polyline points="320,485 250,492 266,486" fill="none" stroke="none" marker-start="url(#m177)" marker-mid="url(#m177)" marker-end="url(#m177)"/><polyline points="222.6,127.5 220.5,121.7 218.8,115.6 219.5,116.6 219.6,113.4 219.1,101 220,121.3 219,124.3 219.6,124.2 219.3,126.1 219.4,112.4 220.3,124.4 220.4,102.3 220.3,106.1 219.1,114.1 219.5,108.2 219,100.6 222.2,121.4 219,117 219.9,119.6 219.4,109.1 218.9,115.9 220.9,113.5 220.5,118 219.7,105.5 219.7,116.1 219.9,123.8 223.2,113.7 219.5,103.6 218.9,103.4 220.6,113.1 219.9,104 219.1,116.8 220.1,107.6 220,120.5 220,127.9 219.6,110.9 218.9,113.5 220.2,111.7 219.5,110 221.1,124.7 220.7,108.5 219.4,113.9 218.9,100.5 220.4,124.6" fill="none" stroke="none" marker-start="url(#m178)" marker-mid="url(#m178)" marker-end="url(#m178)"/><polyline points="57.1,313.1 65.2,312.2 71.1,310.9 73,307.5 76,306.5 78.5,305.5 74,309 70,312" fill="none" stroke="none" marker-start="url(#m179)" marker-mid="url(#m179)" marker-end="url(#m179)"/><polyline points="51.5,304.2 54.5,308.2 45.3,315.4 44.4,308.5 54.7,317.3 43.5,309.6 52,316.6 50.9,313.8 43.1,317.4 52.6,306.5 52.4,315.4 50.3,310.7 45.4,310.2 43.9,317.8 44.3,316.9 53.3,316.9 52.2,312.6 43.2,315.5 47.4,307.2 57.7,316.3 48.1,309.5 46.7,314.8 57,317 44.5,306.9 46.8,314.2" fill="none" stroke="none" marker-start="url(#m180)" marker-mid="url(#m180)" marker-end="url(#m180)"/><polyline points="217.3,300.3 216.5,296.6 216.3,300.3 216.6,297.6 216.3,295.8 216.3,275.2 217.3,281.4 217.1,291.9 217,276.3 216.9,273.6 217.2,284.5 216.4,287.4 216.3,298.6 216.6,297.7 217.2,289.5 216.7,281.4 216.5,296.8 217.4,296.2 216.2,273 217.4,298.2 216.9,283.9 216.2,283.3 216.3,298.6 216.3,281.9 216.2,278 211.7,405.4 212.3,390.5 212.2,427.3 211.8,427.8 212.3,405.8 212.6,434.2 212.5,400.5 211.1,419.7 211.4,390 212.3,423.7 211.1,407.6 211.3,408.4 211.3,415.5 211,420.7 212.4,405.3 211.3,419.1 211,433.8 211.3,388.3 212.1,385.1 211.8,438.4 212.6,433.1 211.7,435.1 211.9,433.6 211.4,385.7 212.3,412.1 211.8,383.1 212.2,395.5 211.7,412.3 212.2,387.8 212,391.7 212,391.6 211.7,397.2 211.4,397.4 212.6,423.6 211.6,414.8 212,392 211.3,400.9 212.6,408 211.9,420.2 211.5,402.6 211.8,412.5 211.6,415.7 211,434.6 212.3,429 211.9,435.9 211.7,418.7 211.3,390 211.3,414.5 211.9,415.1 211.5,391.1" fill="none" stroke="none" marker-start="url(#m181)" marker-mid="url(#m181)" marker-end="url(#m181)"/><polyline points="227.9,296.4 231.8,296.4 235.6,296.4 237.2,243.9 240.6,253.9 273.5,253.1 275.8,250 279.7,247 248.8,273.2 255,268.6 220.6,200.1 218.4,193.1 246.4,207 221.4,210.7 218.4,213.7 242.7,220.3 255.2,213.7 269.9,207 266.2,199.7 275.8,226.9 230.2,226.9 233.1,229.1 237.5,227.6 248.6,233.5 237.5,243.8 218.4,224 275.5,250 281,246" fill="none" stroke="none" marker-start="url(#m182)" marker-mid="url(#m182)" marker-end="url(#m182)"/><polyline points="56.1,500.4 54.8,504.2 57,503.3 58.6,497.3 57.4,498.1 58.9,500 59.1,500.1 57.8,499.8 59.7,502.4 58.8,503.3 58.4,501.8 57.2,502.3 59.6,501.9 56.2,503.3 56.2,503.6" fill="none" stroke="none" marker-start="url(#m183)" marker-mid="url(#m183)" marker-end="url(#m183)"/><polyline points="213.2,450.7 213.1,464.7 212,467.1 212.5,450 213.6,463.9 212.7,476.8 212.2,467.9 212.9,451.7 213.2,454.8 212.1,459.7 213.7,459.3 214.3,442.2 213.2,457.1 212.6,443.6 211.2,466.6 211.9,470.6 211.2,474.9 212.1,463 211.4,474.1 214.3,473.8 215,471.1 213.8,440.2 213.9,469.2 211.3,454.8 211.5,476.1 212.7,474.6 212.5,443.1 213.4,466.6 211.8,440.7 211.5,455.8 214.2,463.9 212.6,467.3 214.3,463.5 212.3,465.8 212.6,460.9 212.5,461.8 214.5,477.7 214.1,476.1 212.8,445.5 212.4,455.2 212.9,449.4 211.7,441.9 213.6,455.2 211.5,457.1 211.7,475.2 213.5,473.2 211.4,464.1 213.9,451.6 214.1,454.7 214.6,443.1 211.6,454.7 213.4,460.7 214,456.8 212,450.9 214.7,467.2 211.6,456.4 213.3,441.9 213.6,468.3 214.7,443.8 211.2,467.7 211.6,472.3 213.3,464.8 211.4,442.2 211.5,442.6 212.9,477.6 212.9,444.4 211.7,467.7 212,445.3 211.5,443.2 214.2,460.1 211.5,456 212.3,464.5 212,471.2 212.3,454.2 211.8,467.1 213.4,469.8 211.4,442.4 215.5,448.1 215.6,452.1 213.6,470.8 211.2,471.4 212.7,473 211.4,451.4 212.3,454.6 211.4,447.5 211.4,472.8 212.1,468.3 212.1,445.2 214.6,476.4 213.6,473" fill="none" stroke="none" marker-start="url(#m184)" marker-mid="url(#m184)" marker-end="url(#m184)"/><polyline points="214.2,413.7 216.4,384.4 214.9,386.5 214.1,386.5 214.1,435.1 215.3,399.3 213.8,419.9 215.5,415.4 214.8,418.1 214.6,393.7 215.2,389.1 215.7,405 215.7,395.6 216.5,439.9 213.3,413.8 216.5,421.1 213.4,442.3 215.3,436.6 214,417.5 215.7,385.1 216.1,404.6 213.8,389.6 215.8,404.7" fill="none" stroke="none" marker-start="url(#m185)" marker-mid="url(#m185)" marker-end="url(#m185)"/><polyline points="214.9,427.6 214.4,412.3 213.9,385.9 216.2,411.7 215.7,424.8 216,413.8 215.2,404.6 213.4,431.5 216.3,400.8 215.1,406.3 216,416.5 213.4,388.6" fill="none" stroke="none" marker-start="url(#m186)" marker-mid="url(#m186)" marker-end="url(#m186)"/><polyline points="215.7,435.2 214.8,426.7 214.7,399.9 213.3,436.7 213.7,428 214.4,385.4 215.2,407.7 215.7,437.7 215.1,432.8 215,384.1 214.3,401.6 214.8,391.3 214.4,406.7 214,403.1 213.8,397.5 216.4,432.2 215.9,407.1 216.1,439.9 214.4,430.7 213.3,432.8" fill="none" stroke="none" marker-start="url(#m187)" marker-mid="url(#m187)" marker-end="url(#m187)"/><path d="M43 128.3 70.3 112.7" stroke="#10e010" stroke-width="1.1" fill="none" stroke-linejoin="round"/><path d="M51 120.5 70 112" stroke="#3060c0" stroke-width="0.8" fill="none" stroke-linejoin="round"/><path d="M47 118.5 54 112" stroke="#a03030" stroke-width="0.8" fill="none" stroke-linejoin="round"/><path d="M218.6 128.6 226.4 10" stroke="#7458b0" stroke-width="1.2" fill="none" stroke-linejoin="round"/><path d="M218.6 128.6 233.5 10" stroke="#7a9a3a" stroke-width="1.4" fill="none" stroke-linejoin="round"/><path d="M218.6 128.6 266.3 10" stroke="#a03c36" stroke-width="1.3" fill="none" stroke-linejoin="round"/><path d="M226 121 333.2 11" stroke="#2f4f90" stroke-width="1.3" fill="none" stroke-linejoin="round"/><path d="M219.4 128.2 220.9 125.3 223.1 120.9 225.3 117.9 227.5 112.1 229.7 113.5 232.6 104.7 235.6 107.6 238.2 99.6 240 104.7 242.2 91.5 243.7 95.1 245.1 89.3 246.6 90.7 248.1 87 249.1 90 250.3 87.1 255 83.6 260 77.3 263.8 74.8 270.8 72.2 275.2 67.8 280.2 62.2 287.8 55.2 296.6 47.7 305.4 39.5 315 30.6 333 12.3" stroke="#10e010" stroke-width="1.2" fill="none" stroke-linejoin="round"/><path d="M219.4 127.5 220.5 120 221.5 118 222.5 112 223.5 110 224.8 104 226.8 96.6" stroke="#ff1010" stroke-width="0.9" fill="none" stroke-dasharray="2 0.8" stroke-linejoin="round"/><path d="M40 260 68 260" stroke="#5080c0" stroke-width="1.3" fill="none" stroke-linejoin="round"/><path d="M40 300.4 51.6 300.4" stroke="#a03030" stroke-width="1.0" fill="none" stroke-linejoin="round"/><path d="M266.2 193.1 232.4 240.1 229.4 255 224 264 218.6 278.6 217.2 290 216.7 302" stroke="#10e010" stroke-width="1.1" fill="none" stroke-linejoin="round"/><path d="M224 264 225.8 248.2" stroke="#10e010" stroke-width="1.0" fill="none" stroke-linejoin="round"/><path d="M216.3 315.5 223 315.5" stroke="#7fa030" stroke-width="1.0" fill="none" stroke-linejoin="round"/><path d="M54.5 505 62 503.5 75 503.2" stroke="#10e010" stroke-width="1.1" fill="none" stroke-linejoin="round"/><path d="M214.5 503.5 279.3 447.2" stroke="#a03838" stroke-width="1.0" fill="none" stroke-linejoin="round"/><path d="M214 505.8 250 504.8 290 502.5 330 500" stroke="#4070b0" stroke-width="1.2" fill="none" stroke-linejoin="round"/><path d="M212.4 498.8 214.6 490 216.1 494.4 217.6 489.3 219.8 492.9 222 484.1 224.2 490 227.1 482.6 230.1 488.5 231.5 482.6 233.7 495.9 235.9 484.1 238.1 478.2 239.6 490 241.1 483.6" stroke="#10e010" stroke-width="1.1" fill="none" stroke-linejoin="round"/><path d="M241.1 483.6 253 479.2 263 488.2 275 483.5 300 482 324 480.6" stroke="#10e010" stroke-width="1.1" fill="none" stroke-dasharray="3 0.8" stroke-linejoin="round"/><path d="M214.5 470 215.5 458 216.3 452 217.2 446 218.5 451 219.5 444.5" stroke="#ff1010" stroke-width="1.0" fill="none" stroke-dasharray="2 0.7" stroke-linejoin="round"/><path d="M42.6 8V129H168" stroke="#000" stroke-width="1.15" fill="none"/><path d="M45.8 129v-1.5M49 129v-1.5M52.2 129v-1.5M55.3 129v-1.5M58.5 129v-1.5M61.7 129v-1.5M64.9 129v-1.5M68.1 129v-1.5M71.3 129v-1.5M74.4 129v-1.5M77.6 129v-1.5M80.8 129v-1.5M84 129v-1.5M87.2 129v-1.5M90.4 129v-1.5M93.5 129v-1.5M96.7 129v-1.5M99.9 129v-1.5M103.1 129v-1.5M106.3 129v-1.5M109.5 129v-1.5M112.6 129v-1.5M115.8 129v-1.5M119 129v-1.5M122.2 129v-1.5M125.4 129v-1.5M128.6 129v-1.5M131.7 129v-1.5M134.9 129v-1.5M138.1 129v-1.5M141.3 129v-1.5M144.5 129v-1.5M147.7 129v-1.5M150.8 129v-1.5M154 129v-1.5M157.2 129v-1.5M160.4 129v-1.5M163.6 129v-1.5M166.8 129v-1.5M42.6 123.5h1.5M42.6 118.1h1.5M42.6 112.6h1.5M42.6 107.2h1.5M42.6 101.7h1.5M42.6 96.3h1.5M42.6 90.8h1.5M42.6 85.4h1.5M42.6 79.9h1.5M42.6 74.5h1.5M42.6 69h1.5M42.6 63.6h1.5M42.6 58.1h1.5M42.6 52.7h1.5M42.6 47.2h1.5M42.6 41.8h1.5M42.6 36.3h1.5M42.6 30.9h1.5M42.6 25.4h1.5M42.6 20h1.5M42.6 14.5h1.5M42.6 9.1h1.5M42.6 112.7h2.4M42.6 96.3h2.4M42.6 80h2.4M42.6 63.6h2.4M42.6 47.2h2.4M42.6 30.9h2.4M42.6 14.5h2.4M61.7 129v-2.4M80.8 129v-2.4M99.9 129v-2.4M119 129v-2.4M138.1 129v-2.4M157.2 129v-2.4" stroke="#000" stroke-width="0.8" fill="none"/><text transform="translate(61.7 139) scale(0.9 1)" text-anchor="middle" class="tk">0.2</text><text transform="translate(80.8 139) scale(0.9 1)" text-anchor="middle" class="tk">0.4</text><text transform="translate(99.9 139) scale(0.9 1)" text-anchor="middle" class="tk">0.6</text><text transform="translate(119 139) scale(0.9 1)" text-anchor="middle" class="tk">0.8</text><text transform="translate(138.1 139) scale(0.9 1)" text-anchor="middle" class="tk">1.0</text><text transform="translate(157.2 139) scale(0.9 1)" text-anchor="middle" class="tk">1.2</text><text transform="translate(39.2 115.1) scale(0.9 1)" text-anchor="end" class="tk">0.06</text><text transform="translate(39.2 98.7) scale(0.9 1)" text-anchor="end" class="tk">0.12</text><text transform="translate(39.2 82.4) scale(0.9 1)" text-anchor="end" class="tk">0.18</text><text transform="translate(39.2 66) scale(0.9 1)" text-anchor="end" class="tk">0.24</text><text transform="translate(39.2 49.6) scale(0.9 1)" text-anchor="end" class="tk">0.30</text><text transform="translate(39.2 33.3) scale(0.9 1)" text-anchor="end" class="tk">0.36</text><text transform="translate(39.2 16.9) scale(0.9 1)" text-anchor="end" class="tk">0.42</text><path d="M218.6 10V128.6H334" stroke="#000" stroke-width="1.15" fill="none"/><path d="M221.5 128.6v-1.5M224.4 128.6v-1.5M227.3 128.6v-1.5M230.2 128.6v-1.5M233.1 128.6v-1.5M236 128.6v-1.5M238.9 128.6v-1.5M241.8 128.6v-1.5M244.7 128.6v-1.5M247.6 128.6v-1.5M250.5 128.6v-1.5M253.4 128.6v-1.5M256.3 128.6v-1.5M259.2 128.6v-1.5M262.1 128.6v-1.5M265 128.6v-1.5M267.9 128.6v-1.5M270.8 128.6v-1.5M273.7 128.6v-1.5M276.6 128.6v-1.5M279.5 128.6v-1.5M282.4 128.6v-1.5M285.3 128.6v-1.5M288.2 128.6v-1.5M291.1 128.6v-1.5M294 128.6v-1.5M296.9 128.6v-1.5M299.8 128.6v-1.5M302.7 128.6v-1.5M305.6 128.6v-1.5M308.5 128.6v-1.5M311.4 128.6v-1.5M314.3 128.6v-1.5M317.2 128.6v-1.5M320.1 128.6v-1.5M323 128.6v-1.5M325.9 128.6v-1.5M328.8 128.6v-1.5M331.7 128.6v-1.5M218.6 125.2h1.5M218.6 121.9h1.5M218.6 118.5h1.5M218.6 115.2h1.5M218.6 111.8h1.5M218.6 108.5h1.5M218.6 105.1h1.5M218.6 101.8h1.5M218.6 98.4h1.5M218.6 95.1h1.5M218.6 91.7h1.5M218.6 88.4h1.5M218.6 85h1.5M218.6 81.7h1.5M218.6 78.3h1.5M218.6 75h1.5M218.6 71.6h1.5M218.6 68.3h1.5M218.6 64.9h1.5M218.6 61.6h1.5M218.6 58.2h1.5M218.6 54.9h1.5M218.6 51.5h1.5M218.6 48.2h1.5M218.6 44.8h1.5M218.6 41.5h1.5M218.6 38.1h1.5M218.6 34.8h1.5M218.6 31.4h1.5M218.6 28.1h1.5M218.6 24.7h1.5M218.6 21.3h1.5M218.6 18h1.5M218.6 14.6h1.5M218.6 11.3h1.5M218.6 111.8h2.4M218.6 95.1h2.4M218.6 78.3h2.4M218.6 61.6h2.4M218.6 44.8h2.4M218.6 28.1h2.4M218.6 11.3h2.4M236 128.6v-2.4M253.4 128.6v-2.4M270.8 128.6v-2.4M288.2 128.6v-2.4M305.6 128.6v-2.4M323 128.6v-2.4" stroke="#000" stroke-width="0.8" fill="none"/><text transform="translate(236 138.6) scale(0.9 1)" text-anchor="middle" class="tk">0.03</text><text transform="translate(253.4 138.6) scale(0.9 1)" text-anchor="middle" class="tk">0.06</text><text transform="translate(270.8 138.6) scale(0.9 1)" text-anchor="middle" class="tk">0.09</text><text transform="translate(288.2 138.6) scale(0.9 1)" text-anchor="middle" class="tk">0.12</text><text transform="translate(305.6 138.6) scale(0.9 1)" text-anchor="middle" class="tk">0.15</text><text transform="translate(323 138.6) scale(0.9 1)" text-anchor="middle" class="tk">0.18</text><text transform="translate(215.2 114.2) scale(0.9 1)" text-anchor="end" class="tk">0.006</text><text transform="translate(215.2 97.5) scale(0.9 1)" text-anchor="end" class="tk">0.012</text><text transform="translate(215.2 80.7) scale(0.9 1)" text-anchor="end" class="tk">0.018</text><text transform="translate(215.2 64) scale(0.9 1)" text-anchor="end" class="tk">0.024</text><text transform="translate(215.2 47.2) scale(0.9 1)" text-anchor="end" class="tk">0.030</text><text transform="translate(215.2 30.5) scale(0.9 1)" text-anchor="end" class="tk">0.036</text><text transform="translate(215.2 13.7) scale(0.9 1)" text-anchor="end" class="tk">0.042</text><path d="M40 183V321.5H165" stroke="#000" stroke-width="1.15" fill="none"/><path d="M43.2 321.5v-1.5M46.5 321.5v-1.5M49.7 321.5v-1.5M52.9 321.5v-1.5M56.2 321.5v-1.5M59.4 321.5v-1.5M62.7 321.5v-1.5M65.9 321.5v-1.5M69.1 321.5v-1.5M72.4 321.5v-1.5M75.6 321.5v-1.5M78.8 321.5v-1.5M82.1 321.5v-1.5M85.3 321.5v-1.5M88.5 321.5v-1.5M91.8 321.5v-1.5M95 321.5v-1.5M98.3 321.5v-1.5M101.5 321.5v-1.5M104.7 321.5v-1.5M108 321.5v-1.5M111.2 321.5v-1.5M114.4 321.5v-1.5M117.7 321.5v-1.5M120.9 321.5v-1.5M124.2 321.5v-1.5M127.4 321.5v-1.5M130.6 321.5v-1.5M133.9 321.5v-1.5M137.1 321.5v-1.5M140.3 321.5v-1.5M143.6 321.5v-1.5M146.8 321.5v-1.5M150 321.5v-1.5M153.3 321.5v-1.5M156.5 321.5v-1.5M159.8 321.5v-1.5M163 321.5v-1.5M40 317h1.5M40 312.5h1.5M40 308h1.5M40 303.5h1.5M40 299h1.5M40 294.5h1.5M40 290h1.5M40 285.5h1.5M40 281h1.5M40 276.5h1.5M40 272h1.5M40 267.5h1.5M40 263h1.5M40 258.5h1.5M40 254h1.5M40 249.5h1.5M40 245h1.5M40 240.5h1.5M40 236h1.5M40 231.5h1.5M40 227h1.5M40 222.5h1.5M40 218h1.5M40 213.5h1.5M40 209h1.5M40 204.5h1.5M40 200h1.5M40 195.5h1.5M40 191h1.5M40 186.5h1.5M40 299h2.4M40 276.5h2.4M40 254h2.4M40 231.5h2.4M40 209h2.4M40 186.5h2.4M59.4 321.5v-2.4M78.8 321.5v-2.4M98.3 321.5v-2.4M117.7 321.5v-2.4M137.1 321.5v-2.4M156.5 321.5v-2.4" stroke="#000" stroke-width="0.8" fill="none"/><text transform="translate(59.4 331.5) scale(0.9 1)" text-anchor="middle" class="tk">0.2</text><text transform="translate(78.8 331.5) scale(0.9 1)" text-anchor="middle" class="tk">0.4</text><text transform="translate(98.3 331.5) scale(0.9 1)" text-anchor="middle" class="tk">0.6</text><text transform="translate(117.7 331.5) scale(0.9 1)" text-anchor="middle" class="tk">0.8</text><text transform="translate(137.1 331.5) scale(0.9 1)" text-anchor="middle" class="tk">1.0</text><text transform="translate(156.5 331.5) scale(0.9 1)" text-anchor="middle" class="tk">1.2</text><text transform="translate(36.6 301.4) scale(0.9 1)" text-anchor="end" class="tk">4.5</text><text transform="translate(36.6 278.9) scale(0.9 1)" text-anchor="end" class="tk">9.0</text><text transform="translate(36.6 256.4) scale(0.9 1)" text-anchor="end" class="tk">13.5</text><text transform="translate(36.6 233.9) scale(0.9 1)" text-anchor="end" class="tk">18.0</text><text transform="translate(36.6 211.4) scale(0.9 1)" text-anchor="end" class="tk">22.5</text><text transform="translate(36.6 188.9) scale(0.9 1)" text-anchor="end" class="tk">27.0</text><path d="M215.8 190.5V321.4H340" stroke="#000" stroke-width="1.15" fill="none"/><path d="M219.4 321.4v-1.5M223 321.4v-1.5M226.6 321.4v-1.5M230.2 321.4v-1.5M233.8 321.4v-1.5M237.4 321.4v-1.5M241 321.4v-1.5M244.6 321.4v-1.5M248.2 321.4v-1.5M251.8 321.4v-1.5M255.4 321.4v-1.5M259 321.4v-1.5M262.6 321.4v-1.5M266.2 321.4v-1.5M269.8 321.4v-1.5M273.4 321.4v-1.5M277 321.4v-1.5M280.6 321.4v-1.5M284.2 321.4v-1.5M287.8 321.4v-1.5M291.4 321.4v-1.5M295 321.4v-1.5M298.6 321.4v-1.5M302.2 321.4v-1.5M305.8 321.4v-1.5M309.4 321.4v-1.5M313 321.4v-1.5M316.6 321.4v-1.5M320.2 321.4v-1.5M323.8 321.4v-1.5M327.4 321.4v-1.5M331 321.4v-1.5M334.6 321.4v-1.5M338.2 321.4v-1.5M215.8 314.8h1.5M215.8 308.2h1.5M215.8 301.6h1.5M215.8 295h1.5M215.8 288.4h1.5M215.8 281.8h1.5M215.8 275.2h1.5M215.8 268.6h1.5M215.8 262.1h1.5M215.8 255.5h1.5M215.8 248.9h1.5M215.8 242.3h1.5M215.8 235.7h1.5M215.8 229.1h1.5M215.8 222.5h1.5M215.8 215.9h1.5M215.8 209.3h1.5M215.8 202.7h1.5M215.8 196.1h1.5M215.8 318.9h2.4M215.8 299.1h2.4M215.8 279.3h2.4M215.8 259.6h2.4M215.8 239.8h2.4M215.8 220h2.4M215.8 200.2h2.4M233.8 321.4v-2.4M251.8 321.4v-2.4M269.8 321.4v-2.4M287.8 321.4v-2.4M305.8 321.4v-2.4M323.8 321.4v-2.4" stroke="#000" stroke-width="0.8" fill="none"/><text transform="translate(233.8 331.4) scale(0.9 1)" text-anchor="middle" class="tk">0.1</text><text transform="translate(251.8 331.4) scale(0.9 1)" text-anchor="middle" class="tk">0.2</text><text transform="translate(269.8 331.4) scale(0.9 1)" text-anchor="middle" class="tk">0.3</text><text transform="translate(287.8 331.4) scale(0.9 1)" text-anchor="middle" class="tk">0.4</text><text transform="translate(305.8 331.4) scale(0.9 1)" text-anchor="middle" class="tk">0.5</text><text transform="translate(323.8 331.4) scale(0.9 1)" text-anchor="middle" class="tk">0.6</text><text transform="translate(212.4 321.3) scale(0.9 1)" text-anchor="end" class="tk">0.6</text><text transform="translate(212.4 301.5) scale(0.9 1)" text-anchor="end" class="tk">1.2</text><text transform="translate(212.4 281.7) scale(0.9 1)" text-anchor="end" class="tk">1.8</text><text transform="translate(212.4 262) scale(0.9 1)" text-anchor="end" class="tk">2.4</text><text transform="translate(212.4 242.2) scale(0.9 1)" text-anchor="end" class="tk">3.0</text><text transform="translate(212.4 222.4) scale(0.9 1)" text-anchor="end" class="tk">3.6</text><text transform="translate(212.4 202.6) scale(0.9 1)" text-anchor="end" class="tk">4.2</text><path d="M54.3 382V506.7H164" stroke="#000" stroke-width="1.15" fill="none"/><path d="M56 506.7v-1.5M58.9 506.7v-1.5M61.7 506.7v-1.5M64.6 506.7v-1.5M67.4 506.7v-1.5M70.3 506.7v-1.5M73.1 506.7v-1.5M75.9 506.7v-1.5M78.8 506.7v-1.5M81.6 506.7v-1.5M84.5 506.7v-1.5M87.3 506.7v-1.5M90.1 506.7v-1.5M93 506.7v-1.5M95.8 506.7v-1.5M98.7 506.7v-1.5M101.5 506.7v-1.5M104.4 506.7v-1.5M107.2 506.7v-1.5M110 506.7v-1.5M112.9 506.7v-1.5M115.7 506.7v-1.5M118.6 506.7v-1.5M121.4 506.7v-1.5M124.2 506.7v-1.5M127.1 506.7v-1.5M129.9 506.7v-1.5M132.8 506.7v-1.5M135.6 506.7v-1.5M138.5 506.7v-1.5M141.3 506.7v-1.5M144.1 506.7v-1.5M147 506.7v-1.5M149.8 506.7v-1.5M152.7 506.7v-1.5M155.5 506.7v-1.5M158.3 506.7v-1.5M161.2 506.7v-1.5M54.3 502.8h1.5M54.3 498.8h1.5M54.3 494.9h1.5M54.3 491h1.5M54.3 487.1h1.5M54.3 483.1h1.5M54.3 479.2h1.5M54.3 475.3h1.5M54.3 471.3h1.5M54.3 467.4h1.5M54.3 463.5h1.5M54.3 459.6h1.5M54.3 455.6h1.5M54.3 451.7h1.5M54.3 447.8h1.5M54.3 443.9h1.5M54.3 439.9h1.5M54.3 436h1.5M54.3 432.1h1.5M54.3 428.1h1.5M54.3 424.2h1.5M54.3 420.3h1.5M54.3 416.4h1.5M54.3 412.4h1.5M54.3 408.5h1.5M54.3 404.6h1.5M54.3 400.6h1.5M54.3 396.7h1.5M54.3 392.8h1.5M54.3 388.9h1.5M54.3 384.9h1.5M54.3 486.2h2.4M54.3 466.5h2.4M54.3 446.9h2.4M54.3 427.2h2.4M54.3 407.6h2.4M54.3 388h2.4M70.2 506.7v-2.4M87.3 506.7v-2.4M104.3 506.7v-2.4M121.4 506.7v-2.4M138.4 506.7v-2.4M155.5 506.7v-2.4" stroke="#000" stroke-width="0.8" fill="none"/><text transform="translate(70.2 516.7) scale(0.9 1)" text-anchor="middle" class="tk">0.2</text><text transform="translate(87.3 516.7) scale(0.9 1)" text-anchor="middle" class="tk">0.4</text><text transform="translate(104.3 516.7) scale(0.9 1)" text-anchor="middle" class="tk">0.6</text><text transform="translate(121.4 516.7) scale(0.9 1)" text-anchor="middle" class="tk">0.8</text><text transform="translate(138.4 516.7) scale(0.9 1)" text-anchor="middle" class="tk">1.0</text><text transform="translate(155.5 516.7) scale(0.9 1)" text-anchor="middle" class="tk">1.2</text><text transform="translate(50.9 488.6) scale(0.9 1)" text-anchor="end" class="tk">4000</text><text transform="translate(50.9 468.9) scale(0.9 1)" text-anchor="end" class="tk">8000</text><text transform="translate(50.9 449.3) scale(0.9 1)" text-anchor="end" class="tk">12,000</text><text transform="translate(50.9 429.6) scale(0.9 1)" text-anchor="end" class="tk">16,000</text><text transform="translate(50.9 410) scale(0.9 1)" text-anchor="end" class="tk">20,000</text><text transform="translate(50.9 390.4) scale(0.9 1)" text-anchor="end" class="tk">24,000</text><path d="M211.8 381V506H324" stroke="#000" stroke-width="1.15" fill="none"/><path d="M214.4 506v-1.5M217.3 506v-1.5M220.1 506v-1.5M222.9 506v-1.5M225.8 506v-1.5M228.6 506v-1.5M231.4 506v-1.5M234.3 506v-1.5M237.1 506v-1.5M239.9 506v-1.5M242.8 506v-1.5M245.6 506v-1.5M248.4 506v-1.5M251.3 506v-1.5M254.1 506v-1.5M256.9 506v-1.5M259.8 506v-1.5M262.6 506v-1.5M265.4 506v-1.5M268.3 506v-1.5M271.1 506v-1.5M273.9 506v-1.5M276.8 506v-1.5M279.6 506v-1.5M282.4 506v-1.5M285.3 506v-1.5M288.1 506v-1.5M290.9 506v-1.5M293.8 506v-1.5M296.6 506v-1.5M299.4 506v-1.5M302.3 506v-1.5M305.1 506v-1.5M307.9 506v-1.5M310.8 506v-1.5M313.6 506v-1.5M316.4 506v-1.5M319.3 506v-1.5M322.1 506v-1.5M211.8 502.2h1.5M211.8 498.3h1.5M211.8 494.5h1.5M211.8 490.6h1.5M211.8 486.8h1.5M211.8 483h1.5M211.8 479.1h1.5M211.8 475.3h1.5M211.8 471.5h1.5M211.8 467.6h1.5M211.8 463.8h1.5M211.8 459.9h1.5M211.8 456.1h1.5M211.8 452.3h1.5M211.8 448.4h1.5M211.8 444.6h1.5M211.8 440.8h1.5M211.8 436.9h1.5M211.8 433.1h1.5M211.8 429.2h1.5M211.8 425.4h1.5M211.8 421.6h1.5M211.8 417.7h1.5M211.8 413.9h1.5M211.8 410h1.5M211.8 406.2h1.5M211.8 402.4h1.5M211.8 398.5h1.5M211.8 394.7h1.5M211.8 390.9h1.5M211.8 387h1.5M211.8 383.2h1.5M211.8 490.6h2.4M211.8 475.3h2.4M211.8 459.9h2.4M211.8 444.6h2.4M211.8 429.2h2.4M211.8 413.9h2.4M211.8 398.5h2.4M211.8 383.2h2.4M228.6 506v-2.4M245.6 506v-2.4M262.6 506v-2.4M279.6 506v-2.4M296.6 506v-2.4M313.6 506v-2.4" stroke="#000" stroke-width="0.8" fill="none"/><text transform="translate(228.6 516) scale(0.9 1)" text-anchor="middle" class="tk">0.03</text><text transform="translate(245.6 516) scale(0.9 1)" text-anchor="middle" class="tk">0.06</text><text transform="translate(262.6 516) scale(0.9 1)" text-anchor="middle" class="tk">0.09</text><text transform="translate(279.6 516) scale(0.9 1)" text-anchor="middle" class="tk">0.12</text><text transform="translate(296.6 516) scale(0.9 1)" text-anchor="middle" class="tk">0.15</text><text transform="translate(313.6 516) scale(0.9 1)" text-anchor="middle" class="tk">0.18</text><text transform="translate(208.4 493) scale(0.9 1)" text-anchor="end" class="tk">400</text><text transform="translate(208.4 477.7) scale(0.9 1)" text-anchor="end" class="tk">800</text><text transform="translate(208.4 462.3) scale(0.9 1)" text-anchor="end" class="tk">1200</text><text transform="translate(208.4 447) scale(0.9 1)" text-anchor="end" class="tk">1600</text><text transform="translate(208.4 431.6) scale(0.9 1)" text-anchor="end" class="tk">2000</text><text transform="translate(208.4 416.3) scale(0.9 1)" text-anchor="end" class="tk">2400</text><text transform="translate(208.4 400.9) scale(0.9 1)" text-anchor="end" class="tk">2800</text><text transform="translate(208.4 385.6) scale(0.9 1)" text-anchor="end" class="tk">3200</text><text transform="translate(112.6 149.4) scale(0.95 1)" text-anchor="middle" class="al">LWC&#160;&#160;(g m<tspan dy="-2.6" font-size="4.5">-3</tspan><tspan dy="2.6">)</tspan></text><text transform="translate(284.2 150) scale(0.95 1)" text-anchor="middle" class="al">LWC&#160;&#160;(g m<tspan dy="-2.6" font-size="4.5">-3</tspan><tspan dy="2.6">)</tspan></text><text transform="translate(115.5 344.1) scale(0.95 1)" text-anchor="middle" class="al">LWC&#160;&#160;(g m<tspan dy="-2.6" font-size="4.5">-3</tspan><tspan dy="2.6">)</tspan></text><text transform="translate(289.6 345.1) scale(0.95 1)" text-anchor="middle" class="al">LWC&#160;&#160;(g m<tspan dy="-2.6" font-size="4.5">-3</tspan><tspan dy="2.6">)</tspan></text><text transform="translate(118.6 527.9) scale(0.95 1)" text-anchor="middle" class="al">LWC&#160;&#160;(g m<tspan dy="-2.6" font-size="4.5">-3</tspan><tspan dy="2.6">)</tspan></text><text transform="translate(280.8 527.9) scale(0.95 1)" text-anchor="middle" class="al">LWC&#160;&#160;(g m<tspan dy="-2.6" font-size="4.5">-3</tspan><tspan dy="2.6">)</tspan></text><text transform="translate(16.3 66) rotate(-90)" text-anchor="middle" class="al" style="font-size:7.6px">&#946;&#160;(m<tspan dy="-2.6" font-size="4.5">-1</tspan><tspan dy="2.6">)</tspan></text><text transform="translate(193.8 70) rotate(-90)" text-anchor="middle" class="al" style="font-size:7.6px">&#946;&#160;(m<tspan dy="-2.6" font-size="4.5">-1</tspan><tspan dy="2.6">)</tspan></text><text transform="translate(10.5 244.5) rotate(-90)" text-anchor="middle" class="al" style="font-size:7.9px">D<tspan dy="1.9" font-size="5.0">mean</tspan><tspan dy="-1.9">&#160;</tspan>&#160;(&#181;m<tspan dy="-2.6" font-size="4.5"></tspan><tspan dy="2.6">)</tspan></text><text transform="translate(190.2 248) rotate(-90)" text-anchor="middle" class="al" style="font-size:7.9px">D<tspan dy="1.9" font-size="5.0">mean</tspan><tspan dy="-1.9">&#160;</tspan>&#160;(&#181;m<tspan dy="-2.6" font-size="4.5"></tspan><tspan dy="2.6">)</tspan></text><text transform="translate(24 439.8) rotate(-90)" text-anchor="middle" class="al" style="font-size:7.4px">N<tspan dy="1.9" font-size="5.0">tot</tspan><tspan dy="-1.9">&#160;</tspan>&#160;(cm<tspan dy="-2.6" font-size="4.5">-3</tspan><tspan dy="2.6">)</tspan></text><text transform="translate(186.7 448.6) rotate(-90)" text-anchor="middle" class="al" style="font-size:7.4px">N<tspan dy="1.9" font-size="5.0">tot</tspan><tspan dy="-1.9">&#160;</tspan>&#160;(cm<tspan dy="-2.6" font-size="4.5">-3</tspan><tspan dy="2.6">)</tspan></text><text x="93" y="165.3" text-anchor="middle" class="pl">(a)</text><text x="262.9" y="165.7" text-anchor="middle" class="pl">(b)</text><text x="423.6" y="166.5" text-anchor="middle" class="pl">(c)</text><text x="88" y="360.7" text-anchor="middle" class="pl">(d)</text><text x="265.9" y="360" text-anchor="middle" class="pl">(e)</text><text x="93.3" y="543.5" text-anchor="middle" class="pl">(f)</text><text x="255.4" y="543.5" text-anchor="middle" class="pl">(g)</text><text x="417.3" y="543.6" text-anchor="middle" class="pl">(h)</text><rect x="407.3" y="137.14" width="17.8" height="8.51" fill="#ff0000"/><path d="M425.1 145.60h2.6" stroke="#000" stroke-width="0.5"/><text x="434.6" y="144.60" text-anchor="middle" class="cb">10</text><rect x="407.3" y="128.74" width="17.8" height="8.51" fill="#ff5000"/><path d="M425.1 137.19h2.6" stroke="#000" stroke-width="0.5"/><text x="434.6" y="136.19" text-anchor="middle" class="cb">20</text><rect x="407.3" y="120.33" width="17.8" height="8.51" fill="#ffaa00"/><path d="M425.1 128.79h2.6" stroke="#000" stroke-width="0.5"/><text x="434.6" y="127.79" text-anchor="middle" class="cb">30</text><rect x="407.3" y="111.92" width="17.8" height="8.51" fill="#ffff00"/><path d="M425.1 120.38h2.6" stroke="#000" stroke-width="0.5"/><text x="434.6" y="119.38" text-anchor="middle" class="cb">50</text><rect x="407.3" y="103.51" width="17.8" height="8.51" fill="#99ff00"/><path d="M425.1 111.97h2.6" stroke="#000" stroke-width="0.5"/><text x="434.6" y="110.97" text-anchor="middle" class="cb">60</text><rect x="407.3" y="95.11" width="17.8" height="8.51" fill="#33ff00"/><path d="M425.1 103.56h2.6" stroke="#000" stroke-width="0.5"/><text x="434.6" y="102.56" text-anchor="middle" class="cb">75</text><rect x="407.3" y="86.70" width="17.8" height="8.51" fill="#00f030"/><path d="M425.1 95.16h2.6" stroke="#000" stroke-width="0.5"/><text x="434.6" y="94.16" text-anchor="middle" class="cb">100</text><rect x="407.3" y="78.29" width="17.8" height="8.51" fill="#00ff88"/><path d="M425.1 86.75h2.6" stroke="#000" stroke-width="0.5"/><text x="434.6" y="85.75" text-anchor="middle" class="cb">125</text><rect x="407.3" y="69.89" width="17.8" height="8.51" fill="#00ffdc"/><path d="M425.1 78.34h2.6" stroke="#000" stroke-width="0.5"/><text x="434.6" y="77.34" text-anchor="middle" class="cb">150</text><rect x="407.3" y="61.48" width="17.8" height="8.51" fill="#00c8ff"/><path d="M425.1 69.94h2.6" stroke="#000" stroke-width="0.5"/><text x="434.6" y="68.94" text-anchor="middle" class="cb">200</text><rect x="407.3" y="53.07" width="17.8" height="8.51" fill="#0070f0"/><path d="M425.1 61.53h2.6" stroke="#000" stroke-width="0.5"/><text x="434.6" y="60.53" text-anchor="middle" class="cb">300</text><rect x="407.3" y="44.66" width="17.8" height="8.51" fill="#0020f0"/><path d="M425.1 53.12h2.6" stroke="#000" stroke-width="0.5"/><text x="434.6" y="52.12" text-anchor="middle" class="cb">400</text><rect x="407.3" y="27.85" width="17.8" height="16.91" fill="#5a00f0"/><path d="M425.1 44.71h2.6" stroke="#000" stroke-width="0.5"/><text x="434.6" y="43.71" text-anchor="middle" class="cb">600</text><path d="M425.1 36.31h2.6" stroke="#000" stroke-width="0.5"/><text x="434.6" y="35.31" text-anchor="middle" class="cb">1000</text><rect x="364.3" y="394.2" width="106.6" height="116.4" fill="#fff" stroke="#444" stroke-width="0.6"/><path d="M372.6 398.3l3.6 3.6m0 -3.6l-3.6 3.6" stroke="#ff0000" stroke-width="0.95"/><text x="383.2" y="402.5" class="lg">Cerema Medium Droplet</text><path d="M374.4 408.7l1.9 3.2h-3.8z" stroke="#ff0000" stroke-width="0.9" fill="none"/><text x="383.2" y="412.9" class="lg">Cerema Small Droplet</text><path d="M368.4 420.9H380" stroke="#4a7ebb" stroke-width="0.9"/><text x="383.2" y="423.3" class="lg">Shettle Advection 1</text><path d="M368.4 431.3H380" stroke="#c0504d" stroke-width="1.3"/><text x="383.2" y="433.7" class="lg">Shettle Radiation 4</text><path d="M368.4 441.7H380" stroke="#7a9a3a" stroke-width="0.9"/><text x="383.2" y="444.1" class="lg">Deirmendjian Haze M</text><path d="M368.4 452.1H380" stroke="#7a62b0" stroke-width="0.9"/><text x="383.2" y="454.5" class="lg">Deirmendjian Haze L</text><circle cx="374.4" cy="462.2" r="1.9" stroke="#222" stroke-width="0.8" fill="none"/><text x="383.2" y="464.9" class="lg">Literature undefined</text><path d="M374.4 471.1l1.9 3.2h-3.8z" stroke="#222" stroke-width="0.9" fill="none"/><text x="383.2" y="475.3" class="lg">Literature radiation</text><path d="M372.6 481.5l3.6 3.6m0 -3.6l-3.6 3.6" stroke="#222" stroke-width="0.95"/><text x="383.2" y="485.7" class="lg">Literature advection</text><path d="M368.4 493.7H380.5" stroke="#00ee00" stroke-width="1.1" stroke-dasharray="2.8 1.2"/><text x="383.2" y="496.1" class="lg">Paris Fog Bimodal</text><path d="M368.4 504.1H380.5" stroke="#ff2020" stroke-width="1.1" stroke-dasharray="2.8 1.2"/><text x="383.2" y="506.5" class="lg">Paris Fog Unimodal</text></svg></body></html>
